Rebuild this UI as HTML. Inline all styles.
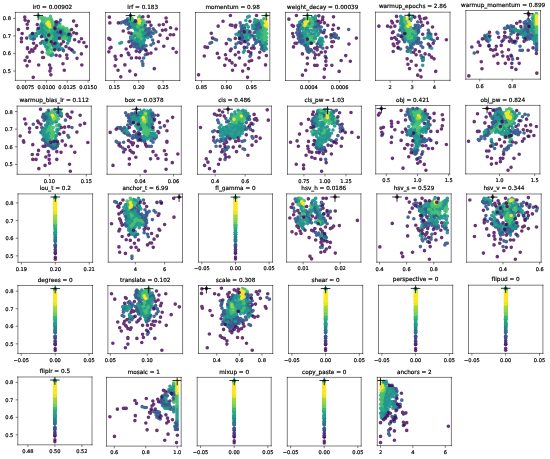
<!DOCTYPE html><html><head><meta charset="utf-8"><style>html,body{margin:0;padding:0;background:#fff;overflow:hidden}svg{display:block}.pt path{stroke-linecap:round}text{font-family:"DejaVu Sans","Liberation Sans",sans-serif;stroke:#000;stroke-width:0.3px;paint-order:stroke}</style></head><body><svg width="550" height="459" preserveAspectRatio="none" viewBox="0 0 864 720" version="1.1">
 <defs>
  <style type="text/css">*{stroke-linejoin: round; stroke-linecap: butt}</style>
 </defs>
 <g id="figure_1">
  <g id="patch_1">
   <path d="M 0 720 
L 864 720 
L 864 0 
L 0 0 
z
" style="fill: #ffffff"/>
  </g>
  <g id="axes_1">
   <g id="patch_2">
    <path d="M 24.19 126.11 
L 140.59 126.11 
L 140.59 19.45 
L 24.19 19.45 
z
" style="fill: #ffffff"/>
   </g>
   <g clip-path="url(#p6a5d2c12f6)" fill="none" stroke-width="5.7" class="pt" stroke-opacity="0.92"><path stroke="#375a8c" d="M54.0 60.2h0M66.6 65.2h0M81.6 67.7h0M84.2 42.6h0M84.2 67.7h0M86.7 35.1h0M86.7 40.1h0M89.2 40.1h0M89.2 50.1h0M89.2 52.6h0M94.2 50.1h0M94.2 77.7h0M96.7 50.1h0M109.3 52.6h0"/><path stroke="#1f958b" d="M49.0 55.1h0M51.5 52.6h0M51.5 55.1h0M54.0 57.7h0M59.0 47.6h0M59.0 52.6h0M61.5 50.1h0M61.5 52.6h0M64.1 40.1h0M64.1 42.6h0M66.6 42.6h0M66.6 47.6h0M66.6 50.1h0M66.6 55.1h0M69.1 37.6h0M69.1 55.1h0M69.1 65.2h0M69.1 67.7h0M71.6 55.1h0M71.6 72.7h0M74.1 50.1h0M74.1 52.6h0M74.1 60.2h0M74.1 62.7h0M74.1 65.2h0M74.1 77.7h0M84.2 57.7h0M84.2 65.2h0M84.2 77.7h0M86.7 45.1h0M86.7 50.1h0M86.7 60.2h0M86.7 67.7h0M86.7 70.2h0M86.7 75.2h0M89.2 45.1h0M89.2 57.7h0M89.2 60.2h0M89.2 67.7h0M89.2 75.2h0M91.7 55.1h0M91.7 75.2h0M94.2 45.1h0M94.2 47.6h0M94.2 57.7h0M96.7 45.1h0M96.7 57.7h0M99.2 45.1h0M99.2 50.1h0M99.2 55.1h0M101.8 55.1h0M104.3 57.7h0M106.8 52.6h0M106.8 57.7h0M106.8 60.2h0M106.8 62.7h0M109.3 60.2h0"/><path stroke="#26ad81" d="M71.6 40.1h0M71.6 45.1h0M74.1 42.6h0M76.6 45.1h0M76.6 52.6h0M79.1 50.1h0M81.6 45.1h0M81.6 50.1h0M81.6 55.1h0M84.2 45.1h0M84.2 47.6h0M84.2 50.1h0M84.2 55.1h0"/><path stroke="#44bf70" d="M66.6 27.5h0M66.6 32.6h0M69.1 32.6h0M69.1 35.1h0M71.6 35.1h0M71.6 37.6h0M74.1 30.0h0M74.1 55.1h0M76.6 30.0h0M76.6 32.6h0M76.6 50.1h0M76.6 60.2h0M76.6 62.7h0M76.6 67.7h0M76.6 75.2h0M76.6 77.7h0M76.6 85.3h0M79.1 32.6h0M79.1 35.1h0M79.1 40.1h0M79.1 45.1h0M79.1 62.7h0M79.1 67.7h0M79.1 70.2h0M79.1 77.7h0M79.1 85.3h0M81.6 32.6h0M81.6 40.1h0M81.6 42.6h0M81.6 57.7h0M81.6 65.2h0M81.6 77.7h0M84.2 40.1h0M89.2 42.6h0M94.2 37.6h0M99.2 42.6h0M99.2 57.7h0M101.8 45.1h0M101.8 47.6h0M101.8 57.7h0M104.3 47.6h0M104.3 52.6h0M104.3 60.2h0M106.8 50.1h0M109.3 50.1h0"/></g>
<g clip-path="url(#p6a5d2c12f6)" fill="none" stroke-width="5.7" class="pt" stroke-opacity="0.92"><path stroke="#44bf70" d="M61.2 25.7h0M63.8 28.2h0M67.6 30.8h0M70.2 28.2h0M79.2 25.7h0M80.5 29.5h0M81.0 34.6h0M83.0 38.5h0M77.9 47.4h0M72.8 47.4h0"/><path stroke="#1f958b" d="M65.1 37.2h0M67.6 41.0h0M65.1 46.2h0M62.5 44.9h0M68.9 48.7h0M71.5 51.3h0M67.6 52.6h0M63.8 50.0h0"/><path stroke="#26ad81" d="M70.2 43.6h0M74.0 44.9h0M81.7 47.4h0M83.0 52.6h0M79.2 52.6h0"/><path stroke="#375a8c" d="M95.1 31.5h0M92.0 35.9h0M88.2 38.5h0M86.1 42.3h0"/><path stroke="#44bf70" d="M93.3 39.7h0M95.9 42.3h0M92.0 43.6h0M104.8 44.9h0M107.4 47.4h0M103.6 50.0h0M101.0 60.3h0M98.4 61.5h0"/><path stroke="#1f958b" d="M98.4 47.4h0M101.0 52.6h0M97.1 55.1h0M106.1 55.1h0M110.0 57.7h0M108.7 64.1h0M106.1 67.9h0"/><path stroke="#375a8c" d="M111.3 55.1h0M95.9 52.6h0"/><path stroke="#44bf70" d="M77.9 56.4h0M80.5 60.3h0M77.9 65.4h0M75.3 70.5h0M77.9 73.1h0M81.7 71.8h0"/><path stroke="#1f958b" d="M70.2 57.7h0M71.5 62.8h0M72.8 66.7h0M70.2 69.2h0M74.0 74.4h0M84.3 61.5h0M86.9 56.4h0M88.2 64.1h0M90.7 69.2h0M93.3 73.1h0M95.9 75.6h0M98.4 76.9h0M84.3 73.1h0M88.2 73.1h0"/><path stroke="#375a8c" d="M63.8 67.9h0M83.0 69.2h0M92.0 78.2h0M99.7 79.5h0"/><path stroke="#1f958b" d="M47.1 56.4h0M49.7 57.7h0M53.5 55.1h0M56.1 52.6h0M57.4 56.4h0M48.4 60.3h0"/><path stroke="#375a8c" d="M52.2 61.5h0"/><path stroke="#44bf70" d="M75.3 81.3h0M77.9 83.3h0M81.7 82.8h0M74.0 83.3h0"/><path stroke="#1f958b" d="M83.0 85.9h0M80.5 87.2h0"/><path stroke="#375a8c" d="M116.4 82.0h0M113.8 79.5h0"/><path stroke="#1f958b" d="M88.2 47.4h0"/><path stroke="#375a8c" d="M90.7 51.3h0"/><path stroke="#1f958b" d="M89.4 55.1h0M85.6 52.6h0M92.0 46.2h0"/><path stroke="#fde725" d="M76.6 34.6h0M77.9 38.5h0M78.4 42.3h0M75.8 39.7h0M74.0 36.7h0"/><path stroke="#44bf70" d="M60.0 24.3h0"/></g>
<g clip-path="url(#p6a5d2c12f6)" fill="none" stroke-width="5.7" class="pt" stroke-opacity="0.8"><path stroke="#440154" d="M38.9 26.9h0M39.4 31.5h0M44.5 33.3h0M42.7 38.0h0M43.2 44.4h0M29.1 46.2h0M34.8 52.6h0M33.7 60.3h0M33.7 65.4h0M42.0 59.7h0M50.9 52.6h0M52.7 67.9h0M57.4 71.8h0M54.8 75.6h0M43.2 74.9h0M43.2 76.4h0M46.6 82.0h0M51.7 80.2h0M49.7 78.2h0M66.3 82.0h0M67.1 90.2h0M68.4 90.2h0M42.5 89.7h0M39.4 94.9h0M46.3 96.1h0M42.5 103.3h0M60.7 102.0h0M77.9 102.0h0M79.7 106.9h0M78.4 111.5h0M79.9 117.4h0M52.2 121.3h0M98.9 100.0h0M101.0 110.2h0M88.2 86.7h0M94.1 87.7h0M104.8 86.4h0M105.4 91.5h0M121.0 91.5h0M127.9 84.6h0M128.5 102.0h0M135.6 73.1h0M131.8 66.7h0M124.1 65.4h0M127.9 60.8h0M117.2 62.3h0M120.2 52.6h0M115.9 51.3h0M112.5 46.2h0M108.2 53.8h0M120.2 40.3h0M115.6 33.1h0M95.1 50.0h0M86.4 44.9h0M88.7 34.1h0M58.6 38.5h0M59.9 44.4h0M65.1 57.7h0M73.3 62.8h0M80.5 65.4h0M86.4 67.9h0M86.1 78.2h0M93.3 60.3h0M99.7 65.4h0M103.6 73.1h0M111.8 77.7h0M108.7 75.6h0M95.9 69.2h0M76.6 55.1h0"/></g>
<g id="matplotlib.axis_1">
    <g id="xtick_1">
     <g id="line2d_1">
      <defs>
       <path id="m1504cfccaf" d="M 0 0 
L 0 3.5 
" style="stroke: #000000; stroke-width: 0.8"/>
      </defs>
      <g>
       <use href="#m1504cfccaf" x="40.05" y="126.11" style="stroke: #000000; stroke-width: 0.8"/>
      </g>
     </g>
     <g id="text_1">
      <text style="font-size: 8px;  text-anchor: middle" x="40.05" y="139.19">0.0075</text>
     </g>
    </g>
    <g id="xtick_2">
     <g id="line2d_2">
      <g>
       <use href="#m1504cfccaf" x="72.83" y="126.11" style="stroke: #000000; stroke-width: 0.8"/>
      </g>
     </g>
     <g id="text_2">
      <text style="font-size: 8px;  text-anchor: middle" x="72.83" y="139.19">0.0100</text>
     </g>
    </g>
    <g id="xtick_3">
     <g id="line2d_3">
      <g>
       <use href="#m1504cfccaf" x="105.61" y="126.11" style="stroke: #000000; stroke-width: 0.8"/>
      </g>
     </g>
     <g id="text_3">
      <text style="font-size: 8px;  text-anchor: middle" x="105.61" y="139.19">0.0125</text>
     </g>
    </g>
    <g id="xtick_4">
     <g id="line2d_4">
      <g>
       <use href="#m1504cfccaf" x="138.39" y="126.11" style="stroke: #000000; stroke-width: 0.8"/>
      </g>
     </g>
     <g id="text_4">
      <text style="font-size: 8px;  text-anchor: middle" x="138.39" y="139.19">0.0150</text>
     </g>
    </g>
   </g>
   <g id="matplotlib.axis_2">
    <g id="ytick_1">
     <g id="line2d_5">
      <defs>
       <path id="m5d545ce8f8" d="M 0 0 
L -3.5 0 
" style="stroke: #000000; stroke-width: 0.8"/>
      </defs>
      <g>
       <use href="#m5d545ce8f8" x="24.19" y="111.36" style="stroke: #000000; stroke-width: 0.8"/>
      </g>
     </g>
     <g id="text_5">
      <text style="font-size: 8px;  text-anchor: end" x="17.19" y="114.40">0.5</text>
     </g>
    </g>
    <g id="ytick_2">
     <g id="line2d_6">
      <g>
       <use href="#m5d545ce8f8" x="24.19" y="83.83" style="stroke: #000000; stroke-width: 0.8"/>
      </g>
     </g>
     <g id="text_6">
      <text style="font-size: 8px;  text-anchor: end" x="17.19" y="86.87">0.6</text>
     </g>
    </g>
    <g id="ytick_3">
     <g id="line2d_7">
      <g>
       <use href="#m5d545ce8f8" x="24.19" y="56.30" style="stroke: #000000; stroke-width: 0.8"/>
      </g>
     </g>
     <g id="text_7">
      <text style="font-size: 8px;  text-anchor: end" x="17.19" y="59.34">0.7</text>
     </g>
    </g>
    <g id="ytick_4">
     <g id="line2d_8">
      <g>
       <use href="#m5d545ce8f8" x="24.19" y="28.78" style="stroke: #000000; stroke-width: 0.8"/>
      </g>
     </g>
     <g id="text_8">
      <text style="font-size: 8px;  text-anchor: end" x="17.19" y="31.82">0.8</text>
     </g>
    </g>
   </g>
   <g id="line2d_9">
    <defs>
     <path id="m5269b93cc7" d="M -7.5 0 
L 7.5 0 
M 0 7.5 
L 0 -7.5 
" style="stroke: #000000; stroke-width: 1.3"/>
    </defs>
    <g clip-path="url(#p6a5d2c12f6)">
     <use href="#m5269b93cc7" x="59.98" y="24.29" style="stroke: #000000; stroke-width: 1.3"/>
    </g>
   </g>
   <g id="patch_3">
    <path d="M 24.19 126.11 
L 24.19 19.45 
" style="fill: none; stroke: #000000; stroke-width: 0.8; stroke-linejoin: miter; stroke-linecap: square"/>
   </g>
   <g id="patch_4">
    <path d="M 140.59 126.11 
L 140.59 19.45 
" style="fill: none; stroke: #000000; stroke-width: 0.8; stroke-linejoin: miter; stroke-linecap: square"/>
   </g>
   <g id="patch_5">
    <path d="M 24.19 126.11 
L 140.59 126.11 
" style="fill: none; stroke: #000000; stroke-width: 0.8; stroke-linejoin: miter; stroke-linecap: square"/>
   </g>
   <g id="patch_6">
    <path d="M 24.19 19.45 
L 140.59 19.45 
" style="fill: none; stroke: #000000; stroke-width: 0.8; stroke-linejoin: miter; stroke-linecap: square"/>
   </g>
   <g id="text_9">
    <text style="font-size: 9px;  text-anchor: middle" x="82.39" y="13.45">lr0 = 0.00902</text>
   </g>
  </g>
  <g id="axes_2">
   <g id="patch_7">
    <path d="M 165.88 126.27 
L 282.44 126.27 
L 282.44 19.60 
L 165.88 19.60 
z
" style="fill: #ffffff"/>
   </g>
   <g clip-path="url(#p60cd0302c3)" fill="none" stroke-width="5.7" class="pt" stroke-opacity="0.92"><path stroke="#375a8c" d="M195.4 35.1h0M197.9 32.6h0M197.9 35.1h0M197.9 37.6h0M200.4 30.0h0M200.4 35.1h0M200.4 37.6h0M205.4 42.6h0M207.9 35.1h0M207.9 65.2h0M210.5 32.6h0M210.5 65.2h0M210.5 67.7h0M213.0 32.6h0M213.0 35.1h0M213.0 65.2h0M213.0 72.7h0M215.5 67.7h0M215.5 70.2h0M215.5 72.7h0M215.5 75.2h0M218.0 72.7h0M220.5 75.2h0M223.0 75.2h0M225.5 40.1h0M225.5 70.2h0M228.1 45.1h0M228.1 57.7h0M228.1 77.7h0M230.6 45.1h0M230.6 47.6h0M230.6 50.1h0M230.6 52.6h0M233.1 47.6h0M233.1 50.1h0M233.1 55.1h0M235.6 52.6h0M235.6 55.1h0M240.6 45.1h0M240.6 52.6h0"/><path stroke="#1f958b" d="M202.9 30.0h0M202.9 35.1h0M205.4 35.1h0M205.4 57.7h0M207.9 42.6h0M207.9 55.1h0M210.5 37.6h0M210.5 62.7h0M213.0 42.6h0M213.0 47.6h0M213.0 55.1h0M213.0 62.7h0M215.5 50.1h0M215.5 57.7h0M215.5 65.2h0M218.0 45.1h0M218.0 47.6h0M218.0 60.2h0M220.5 42.6h0M220.5 45.1h0M220.5 50.1h0M220.5 72.7h0M223.0 52.6h0M223.0 67.7h0M225.5 42.6h0M225.5 55.1h0M225.5 57.7h0M225.5 60.2h0M225.5 65.2h0M225.5 67.7h0M228.1 50.1h0M230.6 57.7h0"/><path stroke="#44bf70" d="M205.4 30.0h0M207.9 30.0h0M210.5 52.6h0M215.5 32.6h0M215.5 35.1h0M215.5 37.6h0M215.5 42.6h0M215.5 55.1h0M218.0 27.5h0M218.0 50.1h0M218.0 55.1h0M218.0 57.7h0M220.5 27.5h0M220.5 35.1h0M220.5 37.6h0M220.5 40.1h0M220.5 47.6h0M220.5 52.6h0M223.0 32.6h0M223.0 35.1h0M223.0 40.1h0M223.0 62.7h0M225.5 32.6h0M225.5 35.1h0M225.5 37.6h0"/></g>
<g clip-path="url(#p60cd0302c3)" fill="none" stroke-width="5.7" class="pt" stroke-opacity="0.92"><path stroke="#375a8c" d="M189.8 35.9h0M192.3 34.6h0M196.2 33.3h0M200.0 32.1h0M229.5 55.1h0M233.4 52.6h0M237.2 50.0h0M242.4 47.4h0M244.9 50.0h0M237.2 57.7h0M239.8 62.8h0M241.1 67.9h0M237.2 70.5h0M229.5 71.8h0M225.7 75.6h0M221.8 78.2h0M224.4 73.1h0M218.0 75.6h0M228.3 85.9h0M225.7 91.0h0M223.1 96.1h0M224.4 100.0h0M224.4 102.5h0M218.0 69.2h0M212.9 69.2h0M206.4 62.8h0M207.7 69.2h0M210.3 73.1h0M203.9 41.0h0M201.3 44.9h0M202.6 38.5h0M210.3 34.6h0M230.8 34.6h0M228.3 39.7h0M234.7 44.9h0M227.0 47.4h0"/><path stroke="#1f958b" d="M188.5 67.9h0M191.0 66.7h0M205.2 60.3h0M209.0 59.0h0M211.6 56.4h0M215.4 61.5h0M219.3 62.8h0M221.8 65.4h0M227.0 62.8h0M232.1 59.0h0M215.4 47.4h0M211.6 44.9h0M209.0 39.7h0M206.4 37.2h0M203.9 33.3h0M212.9 38.5h0M223.1 43.6h0M224.4 50.0h0M227.0 52.6h0M221.8 56.4h0M218.0 65.4h0M220.6 69.2h0"/><path stroke="#44bf70" d="M206.4 28.2h0M207.7 32.1h0M219.3 25.7h0M220.6 29.5h0M212.9 51.3h0M216.7 52.6h0M221.8 60.3h0M220.6 55.1h0M224.4 46.2h0M223.1 37.2h0M217.2 39.7h0"/><path stroke="#fde725" d="M218.0 30.8h0M219.3 33.3h0M218.8 35.9h0"/><path stroke="#375a8c" d="M205.0 24.5h0"/></g>
<g clip-path="url(#p60cd0302c3)" fill="none" stroke-width="5.7" class="pt" stroke-opacity="0.8"><path stroke="#440154" d="M171.8 26.9h0M172.6 35.9h0M171.0 60.3h0M172.6 61.8h0M174.4 74.4h0M172.6 75.6h0M171.0 81.3h0M180.8 88.4h0M182.1 93.1h0M180.8 103.3h0M185.4 110.2h0M189.8 120.5h0M196.2 101.8h0M190.5 87.2h0M193.6 48.7h0M185.9 35.9h0M201.3 83.3h0M202.6 85.9h0M206.4 91.0h0M203.9 111.5h0M212.9 117.4h0M214.1 90.5h0M219.3 91.0h0M242.4 107.7h0M224.4 26.4h0M232.9 25.7h0M260.9 28.2h0M261.6 34.1h0M268.0 43.6h0M277.0 45.4h0M272.7 54.6h0M267.5 54.6h0M262.9 60.3h0M257.3 72.6h0M271.9 76.1h0M277.0 82.0h0M237.2 83.3h0M232.1 84.6h0M229.5 79.5h0M244.9 76.9h0M248.8 65.4h0M251.4 55.1h0M250.1 39.2h0M256.5 38.5h0M255.2 47.4h0M260.3 46.9h0M237.2 39.7h0M234.7 34.6h0M219.3 81.3h0M214.1 80.2h0M205.2 73.1h0M198.2 76.9h0M202.6 65.4h0M202.6 51.3h0M205.9 52.1h0M212.9 33.3h0"/></g>
<g id="matplotlib.axis_3">
    <g id="xtick_5">
     <g id="line2d_10">
      <g>
       <use href="#m1504cfccaf" x="179.71" y="126.27" style="stroke: #000000; stroke-width: 0.8"/>
      </g>
     </g>
     <g id="text_10">
      <text style="font-size: 8px;  text-anchor: middle" x="179.71" y="139.35">0.15</text>
     </g>
    </g>
    <g id="xtick_6">
     <g id="line2d_11">
      <g>
       <use href="#m1504cfccaf" x="217.96" y="126.27" style="stroke: #000000; stroke-width: 0.8"/>
      </g>
     </g>
     <g id="text_11">
      <text style="font-size: 8px;  text-anchor: middle" x="217.96" y="139.35">0.20</text>
     </g>
    </g>
    <g id="xtick_7">
     <g id="line2d_12">
      <g>
       <use href="#m1504cfccaf" x="256.21" y="126.27" style="stroke: #000000; stroke-width: 0.8"/>
      </g>
     </g>
     <g id="text_12">
      <text style="font-size: 8px;  text-anchor: middle" x="256.21" y="139.35">0.25</text>
     </g>
    </g>
   </g>
   <g id="matplotlib.axis_4"/>
   <g id="line2d_13">
    <g clip-path="url(#p60cd0302c3)">
     <use href="#m5269b93cc7" x="204.95" y="24.45" style="stroke: #000000; stroke-width: 1.3"/>
    </g>
   </g>
   <g id="patch_8">
    <path d="M 165.88 126.27 
L 165.88 19.60 
" style="fill: none; stroke: #000000; stroke-width: 0.8; stroke-linejoin: miter; stroke-linecap: square"/>
   </g>
   <g id="patch_9">
    <path d="M 282.44 126.27 
L 282.44 19.60 
" style="fill: none; stroke: #000000; stroke-width: 0.8; stroke-linejoin: miter; stroke-linecap: square"/>
   </g>
   <g id="patch_10">
    <path d="M 165.88 126.27 
L 282.44 126.27 
" style="fill: none; stroke: #000000; stroke-width: 0.8; stroke-linejoin: miter; stroke-linecap: square"/>
   </g>
   <g id="patch_11">
    <path d="M 165.88 19.60 
L 282.44 19.60 
" style="fill: none; stroke: #000000; stroke-width: 0.8; stroke-linejoin: miter; stroke-linecap: square"/>
   </g>
   <g id="text_13">
    <text style="font-size: 9px;  text-anchor: middle" x="224.16" y="13.60">lrf = 0.183</text>
   </g>
  </g>
  <g id="axes_3">
   <g id="patch_12">
    <path d="M 307.11 126.27 
L 423.83 126.27 
L 423.83 19.60 
L 307.11 19.60 
z
" style="fill: #ffffff"/>
   </g>
   <g clip-path="url(#p8577fa720e)" fill="none" stroke-width="5.7" class="pt" stroke-opacity="0.92"><path stroke="#375a8c" d="M377.0 52.6h0M377.0 57.7h0M377.0 60.2h0M379.5 45.1h0M379.5 50.1h0M379.5 52.6h0M379.5 57.7h0M382.0 40.1h0M382.0 42.6h0M382.0 47.6h0M382.0 50.1h0M382.0 62.7h0M384.5 42.6h0M384.5 62.7h0M389.5 62.7h0M394.6 55.1h0M399.6 45.1h0M399.6 57.7h0M399.6 60.2h0M402.1 37.6h0M402.1 42.6h0M402.1 50.1h0M404.6 42.6h0M404.6 47.6h0M404.6 65.2h0M407.1 35.1h0M407.1 40.1h0M407.1 42.6h0M407.1 47.6h0M409.7 40.1h0M409.7 67.7h0M409.7 70.2h0M412.2 42.6h0M412.2 70.2h0M412.2 75.2h0"/><path stroke="#1f958b" d="M374.5 52.6h0M382.0 52.6h0M382.0 55.1h0M384.5 40.1h0M384.5 50.1h0M384.5 60.2h0M387.0 50.1h0M387.0 60.2h0M389.5 47.6h0M389.5 55.1h0M392.1 55.1h0M397.1 42.6h0M397.1 45.1h0M399.6 35.1h0M399.6 40.1h0M402.1 35.1h0M404.6 35.1h0M404.6 50.1h0M404.6 52.6h0M404.6 62.7h0M407.1 55.1h0M407.1 57.7h0M414.7 70.2h0M414.7 75.2h0M417.2 67.7h0M417.2 75.2h0"/><path stroke="#26ad81" d="M409.7 32.6h0M409.7 47.6h0M409.7 50.1h0M409.7 55.1h0M409.7 57.7h0M409.7 60.2h0M409.7 62.7h0M412.2 40.1h0M412.2 45.1h0M412.2 50.1h0M412.2 52.6h0M412.2 57.7h0M412.2 60.2h0"/><path stroke="#44bf70" d="M414.7 32.6h0M414.7 35.1h0M414.7 37.6h0M414.7 40.1h0M414.7 47.6h0M414.7 52.6h0M417.2 42.6h0M417.2 47.6h0M417.2 52.6h0M417.2 55.1h0M417.2 57.7h0M417.2 60.2h0"/></g>
<g clip-path="url(#p8577fa720e)" fill="none" stroke-width="5.7" class="pt" stroke-opacity="0.92"><path stroke="#375a8c" d="M332.4 66.7h0M329.8 67.9h0M337.6 61.5h0M340.1 62.8h0M359.4 61.5h0M361.9 62.8h0M370.9 69.2h0M369.6 74.4h0M374.8 66.7h0M378.6 62.8h0M381.2 59.0h0M378.6 55.1h0M376.1 50.0h0M379.9 47.4h0M378.6 41.0h0M377.3 35.9h0M383.8 44.9h0M386.3 65.4h0M390.2 69.2h0M387.6 74.4h0M392.7 88.4h0M394.0 85.9h0M397.9 71.8h0M401.7 67.9h0M400.4 62.8h0M396.6 56.4h0M399.2 51.3h0M401.7 44.9h0M403.0 39.7h0M406.9 37.2h0M409.4 43.6h0M412.0 73.1h0M410.7 76.9h0M414.6 79.5h0M408.1 65.4h0"/><path stroke="#1f958b" d="M388.9 26.9h0M391.5 25.7h0M386.3 32.1h0M387.6 38.5h0M390.2 42.3h0M386.3 47.4h0M388.9 52.6h0M386.3 57.7h0M392.7 59.0h0M383.8 53.8h0M370.9 53.8h0M374.8 55.1h0M396.6 39.7h0M399.2 42.3h0M400.4 30.8h0M404.3 32.1h0M406.9 52.6h0M405.6 59.0h0M403.0 56.4h0M382.5 82.0h0M383.8 79.5h0M414.6 66.7h0M418.4 69.2h0M415.8 73.1h0M418.4 76.9h0"/><path stroke="#26ad81" d="M414.6 29.5h0M411.5 35.9h0M412.0 47.4h0M412.0 55.1h0M412.0 62.8h0M418.4 64.1h0M413.3 66.7h0"/><path stroke="#44bf70" d="M414.6 44.4h0M418.4 46.2h0M415.8 50.0h0M419.2 52.6h0M415.1 56.4h0M418.7 59.0h0M415.8 61.5h0"/><path stroke="#fde725" d="M416.6 33.3h0M418.7 36.7h0M416.6 39.7h0M419.2 41.0h0M419.2 30.8h0"/><path stroke="#44bf70" d="M418.2 24.5h0"/></g>
<g clip-path="url(#p8577fa720e)" fill="none" stroke-width="5.7" class="pt" stroke-opacity="0.8"><path stroke="#440154" d="M361.9 24.4h0M350.4 33.3h0M342.7 41.0h0M361.9 39.2h0M364.5 39.7h0M370.4 39.7h0M331.9 52.1h0M333.7 59.7h0M322.1 73.6h0M326.0 74.4h0M320.9 87.9h0M311.9 117.4h0M341.4 83.8h0M344.0 90.5h0M354.2 85.9h0M355.5 68.5h0M363.2 76.9h0M361.9 79.5h0M369.6 85.9h0M374.8 82.0h0M376.1 91.0h0M355.5 92.3h0M360.7 94.9h0M364.5 98.7h0M353.0 102.5h0M369.6 102.5h0M365.3 110.2h0M381.2 111.5h0M390.2 107.7h0M388.9 121.3h0M385.0 101.8h0M391.5 96.1h0M395.3 94.9h0M390.2 80.8h0M394.0 82.8h0M399.2 75.6h0M406.9 90.5h0M417.1 101.8h0M418.4 87.2h0M408.1 82.0h0M395.3 75.6h0M383.8 74.4h0M383.8 50.0h0M392.7 50.0h0M403.0 24.4h0M392.7 33.3h0M369.6 60.3h0M376.1 60.3h0M378.6 67.9h0M383.8 65.4h0M369.6 42.3h0"/></g>
<g id="matplotlib.axis_5">
    <g id="xtick_8">
     <g id="line2d_14">
      <g>
       <use href="#m1504cfccaf" x="316.53" y="126.27" style="stroke: #000000; stroke-width: 0.8"/>
      </g>
     </g>
     <g id="text_14">
      <text style="font-size: 8px;  text-anchor: middle" x="316.53" y="139.35">0.85</text>
     </g>
    </g>
    <g id="xtick_9">
     <g id="line2d_15">
      <g>
       <use href="#m1504cfccaf" x="355.65" y="126.27" style="stroke: #000000; stroke-width: 0.8"/>
      </g>
     </g>
     <g id="text_15">
      <text style="font-size: 8px;  text-anchor: middle" x="355.65" y="139.35">0.90</text>
     </g>
    </g>
    <g id="xtick_10">
     <g id="line2d_16">
      <g>
       <use href="#m1504cfccaf" x="394.76" y="126.27" style="stroke: #000000; stroke-width: 0.8"/>
      </g>
     </g>
     <g id="text_16">
      <text style="font-size: 8px;  text-anchor: middle" x="394.76" y="139.35">0.95</text>
     </g>
    </g>
   </g>
   <g id="matplotlib.axis_6"/>
   <g id="line2d_17">
    <g clip-path="url(#p8577fa720e)">
     <use href="#m5269b93cc7" x="418.23" y="24.45" style="stroke: #000000; stroke-width: 1.3"/>
    </g>
   </g>
   <g id="patch_13">
    <path d="M 307.11 126.27 
L 307.11 19.60 
" style="fill: none; stroke: #000000; stroke-width: 0.8; stroke-linejoin: miter; stroke-linecap: square"/>
   </g>
   <g id="patch_14">
    <path d="M 423.83 126.27 
L 423.83 19.60 
" style="fill: none; stroke: #000000; stroke-width: 0.8; stroke-linejoin: miter; stroke-linecap: square"/>
   </g>
   <g id="patch_15">
    <path d="M 307.11 126.27 
L 423.83 126.27 
" style="fill: none; stroke: #000000; stroke-width: 0.8; stroke-linejoin: miter; stroke-linecap: square"/>
   </g>
   <g id="patch_16">
    <path d="M 307.11 19.60 
L 423.83 19.60 
" style="fill: none; stroke: #000000; stroke-width: 0.8; stroke-linejoin: miter; stroke-linecap: square"/>
   </g>
   <g id="text_17">
    <text style="font-size: 9px;  text-anchor: middle" x="365.47" y="13.60">momentum = 0.98</text>
   </g>
  </g>
  <g id="axes_4">
   <g id="patch_17">
    <path d="M 448.49 126.27 
L 565.37 126.27 
L 565.37 19.45 
L 448.49 19.45 
z
" style="fill: #ffffff"/>
   </g>
   <g clip-path="url(#p26070221af)" fill="none" stroke-width="5.7" class="pt" stroke-opacity="0.92"><path stroke="#375a8c" d="M468.0 40.1h0M468.0 55.1h0M470.5 37.6h0M470.5 45.1h0M470.5 47.6h0M470.5 50.1h0M470.5 57.7h0M470.5 65.2h0M473.0 37.6h0M473.0 52.6h0M473.0 60.2h0M473.0 65.2h0M475.5 35.1h0M475.5 55.1h0M475.5 57.7h0M475.5 60.2h0M478.0 30.0h0M478.0 65.2h0M478.0 70.2h0M480.6 72.7h0M483.1 72.7h0M483.1 80.2h0M485.6 77.7h0M488.1 77.7h0M493.1 42.6h0M495.6 35.1h0M498.1 42.6h0M500.7 40.1h0M500.7 42.6h0M500.7 67.7h0M503.2 47.6h0M523.3 55.1h0M525.8 57.7h0M528.3 55.1h0"/><path stroke="#1f958b" d="M473.0 42.6h0M473.0 45.1h0M475.5 42.6h0M475.5 52.6h0M478.0 45.1h0M478.0 60.2h0M478.0 67.7h0M480.6 42.6h0M480.6 47.6h0M480.6 50.1h0M480.6 52.6h0M480.6 67.7h0M483.1 42.6h0M483.1 57.7h0M483.1 60.2h0M483.1 65.2h0M485.6 35.1h0M485.6 40.1h0M485.6 47.6h0M485.6 55.1h0M485.6 65.2h0M485.6 67.7h0M488.1 35.1h0M488.1 55.1h0M488.1 67.7h0M490.6 27.5h0M490.6 47.6h0M490.6 55.1h0M493.1 32.6h0M493.1 35.1h0M493.1 40.1h0M493.1 47.6h0M493.1 55.1h0M493.1 57.7h0M495.6 30.0h0M495.6 40.1h0M495.6 57.7h0M495.6 60.2h0M498.1 50.1h0M500.7 45.1h0M500.7 52.6h0M500.7 65.2h0M503.2 60.2h0M503.2 65.2h0M503.2 70.2h0M505.7 62.7h0M505.7 70.2h0"/><path stroke="#44bf70" d="M475.5 37.6h0M475.5 40.1h0M478.0 37.6h0M478.0 42.6h0M480.6 30.0h0M480.6 32.6h0M483.1 30.0h0M483.1 37.6h0M483.1 40.1h0M483.1 62.7h0M485.6 30.0h0M485.6 32.6h0M485.6 57.7h0M488.1 32.6h0M488.1 40.1h0M490.6 32.6h0M490.6 35.1h0M490.6 57.7h0M490.6 65.2h0M493.1 65.2h0"/></g>
<g clip-path="url(#p26070221af)" fill="none" stroke-width="5.7" class="pt" stroke-opacity="0.92"><path stroke="#375a8c" d="M476.4 32.1h0M473.8 33.3h0M471.2 39.7h0M468.7 42.3h0M467.4 46.2h0M466.1 51.3h0M469.9 53.8h0M472.5 56.4h0M476.4 64.1h0M473.8 67.9h0M480.2 70.5h0M481.5 76.9h0M484.1 75.6h0M485.3 82.0h0M489.2 79.5h0M493.0 82.0h0M498.2 69.2h0M503.3 73.1h0M507.2 75.6h0M511.0 88.4h0M504.6 50.0h0M509.7 47.4h0M525.1 52.6h0M527.7 59.0h0M531.6 59.7h0M520.0 59.0h0M522.6 57.7h0M547.7 46.2h0M468.7 60.3h0M471.2 62.8h0M495.6 42.3h0M499.5 38.5h0M498.2 33.3h0M504.6 42.3h0"/><path stroke="#1f958b" d="M471.2 34.6h0M475.1 44.9h0M476.4 50.0h0M478.9 55.1h0M481.5 59.0h0M480.2 65.4h0M484.1 69.2h0M487.9 65.4h0M491.8 60.3h0M494.3 52.6h0M496.9 47.4h0M499.5 55.1h0M502.0 62.8h0M505.9 60.3h0M507.2 65.4h0M504.6 67.9h0M489.2 52.6h0M485.3 50.0h0M481.5 44.9h0M494.3 38.5h0M491.8 29.5h0M495.6 25.7h0M486.6 37.2h0"/><path stroke="#44bf70" d="M484.1 28.2h0M489.2 30.8h0M490.5 38.5h0M487.9 42.3h0M489.2 59.0h0M490.5 62.8h0M486.6 61.5h0M481.5 35.9h0"/><path stroke="#fde725" d="M478.9 34.6h0M480.2 37.2h0M478.9 39.7h0M482.8 33.3h0"/><path stroke="#44bf70" d="M482.8 24.3h0"/></g>
<g clip-path="url(#p26070221af)" fill="none" stroke-width="5.7" class="pt" stroke-opacity="0.8"><path stroke="#440154" d="M453.8 30.0h0M465.6 24.4h0M458.9 39.7h0M461.0 41.0h0M459.7 52.6h0M461.0 57.7h0M463.5 67.9h0M466.1 67.9h0M461.0 73.6h0M475.1 84.6h0M482.8 91.0h0M482.8 100.0h0M480.2 110.2h0M475.1 117.9h0M494.3 102.5h0M498.2 102.5h0M494.3 91.0h0M495.6 85.9h0M500.8 85.9h0M504.6 82.0h0M511.0 81.3h0M512.3 91.0h0M511.8 96.1h0M512.3 102.5h0M509.7 108.4h0M509.2 121.3h0M521.3 102.5h0M532.8 112.0h0M535.9 94.9h0M543.1 87.2h0M550.3 96.1h0M548.2 69.2h0M559.8 59.7h0M531.6 44.4h0M523.9 39.2h0M522.6 46.2h0M520.0 54.6h0M521.3 65.4h0M523.9 65.4h0M521.3 73.1h0M513.6 74.9h0M512.3 57.7h0M508.5 51.3h0M514.9 39.7h0M523.9 26.4h0M507.2 26.9h0M506.7 30.8h0M500.8 24.9h0M500.8 33.3h0M503.3 35.1h0M482.8 61.5h0M489.2 67.9h0M498.2 78.2h0M494.3 75.6h0M498.2 74.4h0M509.7 35.9h0"/></g>
<g id="matplotlib.axis_7">
    <g id="xtick_11">
     <g id="line2d_18">
      <g>
       <use href="#m1504cfccaf" x="485.25" y="126.27" style="stroke: #000000; stroke-width: 0.8"/>
      </g>
     </g>
     <g id="text_18">
      <text style="font-size: 8px;  text-anchor: middle" x="485.25" y="139.35">0.0004</text>
     </g>
    </g>
    <g id="xtick_12">
     <g id="line2d_19">
      <g>
       <use href="#m1504cfccaf" x="533.63" y="126.27" style="stroke: #000000; stroke-width: 0.8"/>
      </g>
     </g>
     <g id="text_19">
      <text style="font-size: 8px;  text-anchor: middle" x="533.63" y="139.35">0.0006</text>
     </g>
    </g>
   </g>
   <g id="matplotlib.axis_8"/>
   <g id="line2d_20">
    <g clip-path="url(#p26070221af)">
     <use href="#m5269b93cc7" x="482.83" y="24.30" style="stroke: #000000; stroke-width: 1.3"/>
    </g>
   </g>
   <g id="patch_18">
    <path d="M 448.49 126.27 
L 448.49 19.45 
" style="fill: none; stroke: #000000; stroke-width: 0.8; stroke-linejoin: miter; stroke-linecap: square"/>
   </g>
   <g id="patch_19">
    <path d="M 565.37 126.27 
L 565.37 19.45 
" style="fill: none; stroke: #000000; stroke-width: 0.8; stroke-linejoin: miter; stroke-linecap: square"/>
   </g>
   <g id="patch_20">
    <path d="M 448.49 126.27 
L 565.37 126.27 
" style="fill: none; stroke: #000000; stroke-width: 0.8; stroke-linejoin: miter; stroke-linecap: square"/>
   </g>
   <g id="patch_21">
    <path d="M 448.49 19.45 
L 565.37 19.45 
" style="fill: none; stroke: #000000; stroke-width: 0.8; stroke-linejoin: miter; stroke-linecap: square"/>
   </g>
   <g id="text_20">
    <text style="font-size: 9px;  text-anchor: middle" x="506.93" y="13.45">weight_decay = 0.00039</text>
   </g>
  </g>
  <g id="axes_5">
   <g id="patch_22">
    <path d="M 589.87 126.11 
L 706.90 126.11 
L 706.90 19.13 
L 589.87 19.13 
z
" style="fill: #ffffff"/>
   </g>
   <g clip-path="url(#pf6393885d9)" fill="none" stroke-width="5.7" class="pt" stroke-opacity="0.92"><path stroke="#375a8c" d="M632.4 55.1h0M634.9 60.2h0M634.9 62.7h0M639.9 80.2h0M644.9 70.2h0M644.9 75.2h0M647.4 45.1h0M647.4 67.7h0M647.4 75.2h0M652.5 42.6h0M655.0 40.1h0M655.0 42.6h0M655.0 50.1h0M655.0 52.6h0M655.0 60.2h0M655.0 62.7h0M655.0 67.7h0M657.5 40.1h0M657.5 45.1h0M657.5 47.6h0M657.5 60.2h0M657.5 67.7h0M665.0 90.3h0M672.6 52.6h0M675.1 55.1h0"/><path stroke="#1f958b" d="M629.8 32.6h0M629.8 35.1h0M629.8 42.6h0M629.8 45.1h0M632.4 27.5h0M632.4 37.6h0M632.4 50.1h0M634.9 37.6h0M634.9 42.6h0M634.9 45.1h0M634.9 55.1h0M634.9 57.7h0M637.4 47.6h0M637.4 50.1h0M637.4 55.1h0M639.9 52.6h0M639.9 62.7h0M642.4 62.7h0M642.4 80.2h0M644.9 32.6h0M644.9 67.7h0M647.4 55.1h0M650.0 55.1h0M650.0 57.7h0M650.0 62.7h0M650.0 65.2h0M652.5 62.7h0M672.6 55.1h0M675.1 60.2h0"/><path stroke="#44bf70" d="M634.9 27.5h0M634.9 32.6h0M637.4 32.6h0M637.4 37.6h0M637.4 40.1h0M637.4 42.6h0M637.4 45.1h0M639.9 32.6h0M639.9 35.1h0M639.9 37.6h0M639.9 47.6h0M639.9 50.1h0M639.9 55.1h0M639.9 60.2h0M642.4 32.6h0M642.4 42.6h0M642.4 50.1h0M642.4 55.1h0M642.4 57.7h0M642.4 60.2h0M644.9 42.6h0M644.9 45.1h0M644.9 47.6h0M644.9 50.1h0M644.9 55.1h0M644.9 60.2h0M647.4 47.6h0M647.4 50.1h0M647.4 57.7h0M650.0 47.6h0M652.5 52.6h0"/></g>
<g clip-path="url(#pf6393885d9)" fill="none" stroke-width="5.7" class="pt" stroke-opacity="0.92"><path stroke="#375a8c" d="M628.0 47.4h0M625.4 55.1h0M629.3 56.4h0M633.1 61.5h0M635.7 65.4h0M639.6 74.4h0M625.4 75.6h0M629.3 76.9h0M642.1 76.9h0M646.0 73.1h0M649.8 69.2h0M653.7 65.4h0M657.5 62.8h0M661.4 66.7h0M661.4 71.8h0M664.0 74.4h0M657.5 50.0h0M655.0 46.2h0M651.1 44.9h0M652.4 39.7h0M656.2 34.6h0M660.1 42.3h0M672.9 47.4h0M674.2 51.3h0M676.8 53.8h0M678.1 61.5h0M681.9 64.1h0M661.4 87.2h0M662.7 91.0h0M664.0 94.9h0"/><path stroke="#1f958b" d="M629.3 25.7h0M630.6 29.5h0M631.9 33.3h0M629.3 37.2h0M633.1 39.7h0M631.9 43.6h0M634.4 47.4h0M637.0 52.6h0M638.3 57.7h0M637.0 61.5h0M642.1 65.4h0M647.3 64.1h0M651.1 60.3h0M653.7 56.4h0M648.5 52.6h0M652.4 48.7h0M666.5 60.3h0M671.7 59.0h0M676.8 57.7h0M675.5 74.4h0M678.1 75.6h0M665.2 93.6h0M664.0 102.5h0M646.0 82.0h0M644.7 79.5h0M648.5 25.7h0M646.0 29.5h0"/><path stroke="#44bf70" d="M635.7 29.5h0M635.7 34.6h0M639.6 44.9h0M642.1 47.4h0M643.4 52.6h0M639.6 57.7h0M644.7 57.7h0M649.8 50.0h0"/><path stroke="#fde725" d="M642.1 34.6h0M643.4 38.5h0M640.8 41.0h0M639.6 29.5h0"/><path stroke="#1f958b" d="M642.8 24.0h0"/></g>
<g clip-path="url(#pf6393885d9)" fill="none" stroke-width="5.7" class="pt" stroke-opacity="0.8"><path stroke="#440154" d="M595.2 41.0h0M608.8 41.0h0M615.2 33.3h0M616.5 35.9h0M613.9 42.3h0M620.3 41.0h0M622.9 25.7h0M624.2 33.3h0M617.7 50.0h0M616.5 51.3h0M615.2 60.3h0M620.3 59.0h0M622.9 61.5h0M617.7 69.2h0M619.0 71.8h0M624.2 67.9h0M617.7 80.8h0M625.4 74.4h0M626.7 65.4h0M630.6 57.7h0M639.6 92.3h0M646.0 96.1h0M640.8 100.8h0M643.4 107.7h0M653.7 102.5h0M660.1 110.2h0M656.2 117.9h0M661.4 120.5h0M684.5 112.0h0M681.9 92.3h0M678.1 89.7h0M674.2 85.9h0M667.8 84.6h0M658.8 80.8h0M652.4 78.2h0M653.7 85.9h0M649.8 82.0h0M680.6 67.9h0M675.5 71.8h0M672.9 69.2h0M687.1 60.3h0M684.5 53.8h0M679.4 42.3h0M671.7 35.9h0M664.0 39.7h0M661.4 34.6h0M660.1 29.5h0M666.5 29.0h0M669.1 28.2h0M658.8 25.7h0M651.6 26.9h0M664.0 53.8h0M701.2 62.3h0M635.7 52.6h0"/></g>
<g id="matplotlib.axis_9">
    <g id="xtick_13">
     <g id="line2d_21">
      <g>
       <use href="#m1504cfccaf" x="612.96" y="126.11" style="stroke: #000000; stroke-width: 0.8"/>
      </g>
     </g>
     <g id="text_21">
      <text style="font-size: 8px;  text-anchor: middle" x="612.96" y="139.19">2</text>
     </g>
    </g>
    <g id="xtick_14">
     <g id="line2d_22">
      <g>
       <use href="#m1504cfccaf" x="647.60" y="126.11" style="stroke: #000000; stroke-width: 0.8"/>
      </g>
     </g>
     <g id="text_22">
      <text style="font-size: 8px;  text-anchor: middle" x="647.60" y="139.19">3</text>
     </g>
    </g>
    <g id="xtick_15">
     <g id="line2d_23">
      <g>
       <use href="#m1504cfccaf" x="682.24" y="126.11" style="stroke: #000000; stroke-width: 0.8"/>
      </g>
     </g>
     <g id="text_23">
      <text style="font-size: 8px;  text-anchor: middle" x="682.24" y="139.19">4</text>
     </g>
    </g>
   </g>
   <g id="matplotlib.axis_10"/>
   <g id="line2d_24">
    <g clip-path="url(#pf6393885d9)">
     <use href="#m5269b93cc7" x="642.75" y="23.99" style="stroke: #000000; stroke-width: 1.3"/>
    </g>
   </g>
   <g id="patch_23">
    <path d="M 589.87 126.11 
L 589.87 19.13 
" style="fill: none; stroke: #000000; stroke-width: 0.8; stroke-linejoin: miter; stroke-linecap: square"/>
   </g>
   <g id="patch_24">
    <path d="M 706.90 126.11 
L 706.90 19.13 
" style="fill: none; stroke: #000000; stroke-width: 0.8; stroke-linejoin: miter; stroke-linecap: square"/>
   </g>
   <g id="patch_25">
    <path d="M 589.87 126.11 
L 706.90 126.11 
" style="fill: none; stroke: #000000; stroke-width: 0.8; stroke-linejoin: miter; stroke-linecap: square"/>
   </g>
   <g id="patch_26">
    <path d="M 589.87 19.13 
L 706.90 19.13 
" style="fill: none; stroke: #000000; stroke-width: 0.8; stroke-linejoin: miter; stroke-linecap: square"/>
   </g>
   <g id="text_24">
    <text style="font-size: 9px;  text-anchor: middle" x="648.39" y="13.13">warmup_epochs = 2.86</text>
   </g>
  </g>
  <g id="axes_6">
   <g id="patch_27">
    <path d="M 731.72 124.23 
L 849.07 124.23 
L 849.07 16.47 
L 731.72 16.47 
z
" style="fill: #ffffff"/>
   </g>
   <g clip-path="url(#p926bd12adf)" fill="none" stroke-width="5.7" class="pt" stroke-opacity="0.92"><path stroke="#375a8c" d="M762.0 58.3h0M762.0 60.8h0M764.5 60.8h0M764.5 63.3h0M797.2 40.7h0M802.2 45.7h0M802.2 48.2h0M804.7 43.2h0M807.2 50.7h0M817.3 53.2h0M822.3 48.2h0M824.8 38.2h0M824.8 40.7h0M824.8 48.2h0M824.8 58.3h0M827.3 38.2h0M827.3 45.7h0M827.3 50.7h0M827.3 58.3h0M829.8 30.6h0M829.8 38.2h0M829.8 43.2h0M829.8 45.7h0M829.8 58.3h0M832.4 58.3h0M834.9 58.3h0M834.9 60.8h0M837.4 58.3h0"/><path stroke="#1f958b" d="M804.7 45.7h0M809.7 45.7h0M809.7 48.2h0M814.8 48.2h0M819.8 45.7h0M819.8 48.2h0M819.8 53.2h0M822.3 55.7h0M822.3 58.3h0M824.8 50.7h0M824.8 55.7h0M832.4 38.2h0M832.4 43.2h0M832.4 48.2h0M834.9 40.7h0M834.9 43.2h0M837.4 35.7h0M837.4 38.2h0M837.4 40.7h0M837.4 45.7h0M837.4 60.8h0M839.9 40.7h0M839.9 55.7h0M839.9 58.3h0M839.9 60.8h0M839.9 65.8h0M839.9 68.3h0"/><path stroke="#26ad81" d="M837.4 25.6h0M837.4 30.6h0M837.4 33.2h0"/><path stroke="#44bf70" d="M837.4 23.1h0M839.9 25.6h0M839.9 28.1h0M839.9 30.6h0M839.9 33.2h0M839.9 35.7h0M839.9 38.2h0M839.9 45.7h0"/></g>
<g clip-path="url(#p926bd12adf)" fill="none" stroke-width="5.7" class="pt" stroke-opacity="0.92"><path stroke="#375a8c" d="M745.0 83.3h0M761.7 55.8h0M764.3 57.1h0M766.8 64.8h0M768.1 72.5h0M780.9 50.7h0M782.2 52.0h0M791.2 62.2h0M792.5 44.3h0M795.1 44.3h0M798.9 43.0h0M802.8 40.5h0M806.6 41.7h0M805.3 49.4h0M802.8 53.3h0M800.2 58.4h0M805.3 66.1h0M809.2 67.4h0M810.5 64.8h0M815.6 50.7h0M820.7 50.7h0M816.9 72.5h0M816.9 78.9h0M820.7 78.9h0M823.3 35.3h0M825.9 34.0h0M828.4 36.6h0M832.3 34.0h0M831.0 40.5h0M824.6 44.3h0M828.4 48.1h0M831.0 52.0h0M833.6 54.6h0M828.4 55.8h0M827.2 62.2h0M831.0 61.0h0M804.0 89.2h0M805.3 93.0h0M836.1 54.6h0M842.6 78.9h0"/><path stroke="#1f958b" d="M768.1 59.7h0M769.4 62.2h0M765.5 54.6h0M807.9 46.9h0M811.7 48.1h0M814.3 50.7h0M818.2 49.4h0M822.0 53.3h0M825.9 53.3h0M833.6 45.6h0M836.1 49.4h0M840.0 53.3h0M838.7 62.2h0M834.9 37.9h0"/><path stroke="#26ad81" d="M836.1 28.9h0"/><path stroke="#1f958b" d="M838.7 43.0h0M838.7 49.4h0"/><path stroke="#44bf70" d="M842.8 21.2h0M842.8 22.8h0M842.8 24.3h0"/><path stroke="#fde725" d="M842.8 24.8h0M842.8 26.4h0M842.8 27.9h0M842.8 29.4h0M842.8 31.0h0M842.8 32.5h0M842.8 34.0h0M842.8 35.6h0M842.8 37.1h0M842.8 38.7h0M842.8 40.2h0M842.8 41.7h0"/><path stroke="#44bf70" d="M842.8 42.3h0M842.8 43.8h0M842.8 45.3h0M842.8 46.9h0M842.8 48.4h0M842.8 49.9h0M842.8 51.5h0M842.8 53.0h0M842.8 54.6h0"/><path stroke="#1f958b" d="M842.8 55.8h0M842.8 57.4h0M842.8 58.9h0M842.8 60.4h0M842.8 62.0h0M842.8 63.5h0M842.8 65.1h0M842.8 66.6h0M842.8 68.1h0"/><path stroke="#375a8c" d="M842.8 69.2h0M842.8 70.7h0M842.8 72.2h0M842.8 73.8h0M842.8 75.3h0M842.8 76.9h0M842.8 78.4h0"/></g>
<g clip-path="url(#p926bd12adf)" fill="none" stroke-width="5.7" class="pt" stroke-opacity="0.8"><path stroke="#440154" d="M736.5 119.1h0M757.1 107.9h0M756.0 96.8h0M741.2 73.8h0M750.1 81.5h0M751.4 66.1h0M754.0 71.2h0M757.8 61.0h0M768.9 50.7h0M769.4 56.6h0M768.1 71.2h0M770.7 77.6h0M774.5 78.9h0M778.4 77.6h0M779.7 72.5h0M780.9 85.3h0M775.8 87.9h0M782.2 99.4h0M787.4 71.2h0M788.6 81.5h0M789.9 87.9h0M793.8 99.4h0M798.9 78.1h0M797.6 89.2h0M798.9 93.0h0M804.0 99.4h0M804.0 105.8h0M810.5 108.9h0M815.6 99.4h0M813.0 91.7h0M802.8 86.6h0M800.2 64.8h0M802.8 62.2h0M792.5 57.1h0M795.1 58.4h0M793.0 50.7h0M783.5 58.4h0M788.6 64.8h0M807.9 64.8h0M813.0 59.7h0M813.0 54.6h0M811.7 36.6h0M816.9 34.0h0M818.2 41.7h0M824.6 61.0h0M823.3 64.8h0M829.7 78.9h0M837.4 75.1h0M842.6 84.0h0M843.3 114.8h0M831.0 41.7h0M831.0 23.3h0M829.9 21.4h0"/></g>
<g id="matplotlib.axis_11">
    <g id="xtick_16">
     <g id="line2d_25">
      <g>
       <use href="#m1504cfccaf" x="753.56" y="124.23" style="stroke: #000000; stroke-width: 0.8"/>
      </g>
     </g>
     <g id="text_25">
      <text style="font-size: 8px;  text-anchor: middle" x="753.56" y="137.31">0.6</text>
     </g>
    </g>
    <g id="xtick_17">
     <g id="line2d_26">
      <g>
       <use href="#m1504cfccaf" x="804.61" y="124.23" style="stroke: #000000; stroke-width: 0.8"/>
      </g>
     </g>
     <g id="text_26">
      <text style="font-size: 8px;  text-anchor: middle" x="804.61" y="137.31">0.8</text>
     </g>
    </g>
   </g>
   <g id="matplotlib.axis_12"/>
   <g id="line2d_27">
    <g clip-path="url(#p926bd12adf)">
     <use href="#m5269b93cc7" x="829.89" y="21.36" style="stroke: #000000; stroke-width: 1.3"/>
    </g>
   </g>
   <g id="patch_28">
    <path d="M 731.72 124.23 
L 731.72 16.47 
" style="fill: none; stroke: #000000; stroke-width: 0.8; stroke-linejoin: miter; stroke-linecap: square"/>
   </g>
   <g id="patch_29">
    <path d="M 849.07 124.23 
L 849.07 16.47 
" style="fill: none; stroke: #000000; stroke-width: 0.8; stroke-linejoin: miter; stroke-linecap: square"/>
   </g>
   <g id="patch_30">
    <path d="M 731.72 124.23 
L 849.07 124.23 
" style="fill: none; stroke: #000000; stroke-width: 0.8; stroke-linejoin: miter; stroke-linecap: square"/>
   </g>
   <g id="patch_31">
    <path d="M 731.72 16.47 
L 849.07 16.47 
" style="fill: none; stroke: #000000; stroke-width: 0.8; stroke-linejoin: miter; stroke-linecap: square"/>
   </g>
   <g id="text_27">
    <text style="font-size: 9px;  text-anchor: middle" x="790.40" y="10.47">warmup_momentum = 0.899</text>
   </g>
  </g>
  <g id="axes_7">
   <g id="patch_32">
    <path d="M 27.01 273.41 
L 143.42 273.41 
L 143.42 166.43 
L 27.01 166.43 
z
" style="fill: #ffffff"/>
   </g>
   <g clip-path="url(#p97247d05d8)" fill="none" stroke-width="5.7" class="pt" stroke-opacity="0.92"><path stroke="#375a8c" d="M69.2 181.2h0M69.2 183.7h0M69.2 186.3h0M69.2 188.8h0M69.2 216.4h0M71.8 181.2h0M71.8 221.4h0M74.3 183.7h0M74.3 186.3h0M74.3 223.9h0M76.8 176.2h0M76.8 226.4h0M79.3 226.4h0M79.3 228.9h0M81.8 228.9h0M84.3 231.4h0M86.8 228.9h0M89.4 176.2h0M89.4 223.9h0M89.4 226.4h0M91.9 181.2h0"/><path stroke="#1f958b" d="M66.7 203.8h0M69.2 201.3h0M69.2 203.8h0M69.2 208.8h0M69.2 213.9h0M71.8 178.7h0M71.8 196.3h0M71.8 206.3h0M71.8 208.8h0M71.8 218.9h0M74.3 178.7h0M74.3 193.8h0M74.3 201.3h0M74.3 208.8h0M74.3 213.9h0M74.3 218.9h0M74.3 221.4h0M76.8 178.7h0M76.8 181.2h0M76.8 196.3h0M76.8 211.4h0M76.8 213.9h0M76.8 216.4h0M79.3 183.7h0M79.3 186.3h0M79.3 218.9h0M81.8 191.3h0M81.8 193.8h0M84.3 226.4h0M84.3 228.9h0M86.8 191.3h0M86.8 213.9h0M86.8 221.4h0M89.4 203.8h0M89.4 206.3h0M91.9 173.7h0M91.9 196.3h0"/><path stroke="#44bf70" d="M74.3 203.8h0M74.3 206.3h0M76.8 201.3h0M79.3 178.7h0M79.3 181.2h0M79.3 196.3h0M79.3 203.8h0M79.3 206.3h0M81.8 173.7h0M81.8 186.3h0M81.8 203.8h0M81.8 206.3h0M81.8 211.4h0M81.8 218.9h0M84.3 176.2h0M84.3 188.8h0M84.3 211.4h0M84.3 213.9h0M86.8 183.7h0M86.8 188.8h0M89.4 181.2h0M89.4 183.7h0M91.9 186.3h0"/></g>
<g clip-path="url(#p97247d05d8)" fill="none" stroke-width="5.7" class="pt" stroke-opacity="0.92"><path stroke="#375a8c" d="M75.9 173.1h0M68.2 179.5h0M66.9 183.4h0M72.0 187.2h0M52.3 194.9h0M113.1 200.0h0M106.7 212.8h0M108.0 215.4h0M102.8 188.5h0M96.4 182.1h0M93.9 176.9h0M65.6 200.0h0M64.3 207.7h0M66.9 219.2h0M69.5 220.5h0M72.0 225.6h0M75.9 228.2h0M81.0 230.8h0M83.6 233.3h0M87.4 232.1h0M90.0 229.5h0M91.3 225.6h0"/><path stroke="#1f958b" d="M74.6 189.8h0M77.2 193.6h0M73.3 197.5h0M70.8 202.6h0M68.2 206.4h0M66.9 210.3h0M72.0 212.8h0M73.3 216.7h0M77.2 220.5h0M82.3 223.1h0M86.2 225.6h0M88.7 212.8h0M91.3 209.0h0M92.6 202.6h0M93.9 196.2h0M88.7 191.0h0M96.4 178.2h0M95.1 173.1h0M86.2 171.8h0M87.4 218.0h0M77.2 209.0h0"/><path stroke="#44bf70" d="M81.0 176.9h0M84.9 179.5h0M86.2 185.9h0M88.7 197.5h0M83.6 200.0h0M84.9 207.7h0M79.7 210.3h0M81.0 215.4h0M77.2 203.9h0M78.5 198.7h0M90.0 187.2h0"/><path stroke="#1f958b" d="M73.3 176.9h0M74.6 180.8h0M77.2 184.6h0"/><path stroke="#375a8c" d="M72.0 183.4h0"/><path stroke="#1f958b" d="M78.5 188.5h0M75.9 192.3h0"/><path stroke="#fde725" d="M82.3 180.8h0M83.6 183.4h0"/><path stroke="#9bd93c" d="M84.9 185.9h0"/><path stroke="#1f958b" d="M91.4 171.3h0"/></g>
<g clip-path="url(#p97247d05d8)" fill="none" stroke-width="5.7" class="pt" stroke-opacity="0.8"><path stroke="#440154" d="M63.6 171.3h0M38.7 186.7h0M40.5 194.4h0M46.4 201.3h0M46.4 207.2h0M31.7 213.3h0M36.9 221.0h0M37.4 223.1h0M51.5 226.9h0M59.2 189.8h0M60.5 192.3h0M64.3 194.9h0M57.9 200.0h0M67.7 229.5h0M70.8 229.5h0M75.9 237.9h0M60.5 235.9h0M59.2 242.3h0M50.7 242.3h0M51.5 250.0h0M56.6 250.0h0M72.0 246.2h0M77.2 243.6h0M77.2 250.0h0M77.9 255.9h0M70.8 259.5h0M61.0 264.6h0M89.2 250.0h0M95.9 239.0h0M89.2 237.9h0M102.8 227.7h0M111.8 229.5h0M117.5 239.0h0M109.3 257.7h0M110.5 268.7h0M138.0 223.6h0M120.8 207.2h0M132.9 193.6h0M125.9 196.2h0M125.9 180.8h0M113.1 175.7h0M110.5 184.6h0M105.4 179.5h0M106.7 182.1h0M108.0 198.7h0M101.6 199.5h0M96.4 200.0h0M100.3 207.7h0M93.9 210.3h0M97.7 221.0h0M90.0 221.8h0M84.9 221.8h0M79.7 223.1h0"/></g>
<g id="matplotlib.axis_13">
    <g id="xtick_18">
     <g id="line2d_28">
      <g>
       <use href="#m1504cfccaf" x="77.44" y="273.41" style="stroke: #000000; stroke-width: 0.8"/>
      </g>
     </g>
     <g id="text_28">
      <text style="font-size: 8px;  text-anchor: middle" x="77.44" y="286.49">0.10</text>
     </g>
    </g>
    <g id="xtick_19">
     <g id="line2d_29">
      <g>
       <use href="#m1504cfccaf" x="135.56" y="273.41" style="stroke: #000000; stroke-width: 0.8"/>
      </g>
     </g>
     <g id="text_29">
      <text style="font-size: 8px;  text-anchor: middle" x="135.56" y="286.49">0.15</text>
     </g>
    </g>
   </g>
   <g id="matplotlib.axis_14">
    <g id="ytick_5">
     <g id="line2d_30">
      <g>
       <use href="#m5d545ce8f8" x="27.01" y="257.84" style="stroke: #000000; stroke-width: 0.8"/>
      </g>
     </g>
     <g id="text_30">
      <text style="font-size: 8px;  text-anchor: end" x="20.01" y="260.88">0.5</text>
     </g>
    </g>
    <g id="ytick_6">
     <g id="line2d_31">
      <g>
       <use href="#m5d545ce8f8" x="27.01" y="230.23" style="stroke: #000000; stroke-width: 0.8"/>
      </g>
     </g>
     <g id="text_31">
      <text style="font-size: 8px;  text-anchor: end" x="20.01" y="233.27">0.6</text>
     </g>
    </g>
    <g id="ytick_7">
     <g id="line2d_32">
      <g>
       <use href="#m5d545ce8f8" x="27.01" y="202.62" style="stroke: #000000; stroke-width: 0.8"/>
      </g>
     </g>
     <g id="text_32">
      <text style="font-size: 8px;  text-anchor: end" x="20.01" y="205.66">0.7</text>
     </g>
    </g>
    <g id="ytick_8">
     <g id="line2d_33">
      <g>
       <use href="#m5d545ce8f8" x="27.01" y="175.01" style="stroke: #000000; stroke-width: 0.8"/>
      </g>
     </g>
     <g id="text_33">
      <text style="font-size: 8px;  text-anchor: end" x="20.01" y="178.05">0.8</text>
     </g>
    </g>
   </g>
   <g id="line2d_34">
    <g clip-path="url(#p97247d05d8)">
     <use href="#m5269b93cc7" x="91.39" y="171.29" style="stroke: #000000; stroke-width: 1.3"/>
    </g>
   </g>
   <g id="patch_33">
    <path d="M 27.01 273.41 
L 27.01 166.43 
" style="fill: none; stroke: #000000; stroke-width: 0.8; stroke-linejoin: miter; stroke-linecap: square"/>
   </g>
   <g id="patch_34">
    <path d="M 143.42 273.41 
L 143.42 166.43 
" style="fill: none; stroke: #000000; stroke-width: 0.8; stroke-linejoin: miter; stroke-linecap: square"/>
   </g>
   <g id="patch_35">
    <path d="M 27.01 273.41 
L 143.42 273.41 
" style="fill: none; stroke: #000000; stroke-width: 0.8; stroke-linejoin: miter; stroke-linecap: square"/>
   </g>
   <g id="patch_36">
    <path d="M 27.01 166.43 
L 143.42 166.43 
" style="fill: none; stroke: #000000; stroke-width: 0.8; stroke-linejoin: miter; stroke-linecap: square"/>
   </g>
   <g id="text_34">
    <text style="font-size: 9px;  text-anchor: middle" x="85.22" y="160.43">warmup_bias_lr = 0.112</text>
   </g>
  </g>
  <g id="axes_8">
   <g id="patch_37">
    <path d="M 168.24 273.41 
L 284.80 273.41 
L 284.80 166.58 
L 168.24 166.58 
z
" style="fill: #ffffff"/>
   </g>
   <g clip-path="url(#p5735e0c0e8)" fill="none" stroke-width="5.7" class="pt" stroke-opacity="0.92"><path stroke="#375a8c" d="M189.5 200.1h0M192.1 205.1h0M194.6 207.6h0M202.1 180.0h0M202.1 182.5h0M202.1 190.0h0M202.1 210.1h0M204.6 182.5h0M204.6 185.0h0M204.6 192.6h0M207.1 182.5h0M209.6 180.0h0M209.6 192.6h0M209.6 212.6h0M209.6 215.1h0M212.2 180.0h0M212.2 212.6h0M212.2 215.1h0M214.7 182.5h0M217.2 182.5h0M217.2 207.6h0M217.2 210.1h0M217.2 212.6h0M217.2 215.1h0M217.2 220.2h0M219.7 210.1h0M219.7 212.6h0M219.7 217.7h0M222.2 200.1h0M222.2 215.1h0M222.2 217.7h0M224.7 220.2h0M227.2 220.2h0M237.3 177.5h0M237.3 182.5h0M237.3 220.2h0M239.8 177.5h0M239.8 180.0h0M239.8 187.5h0M239.8 215.1h0M239.8 217.7h0"/><path stroke="#1f958b" d="M194.6 205.1h0M197.1 202.6h0M199.6 202.6h0M207.1 185.0h0M207.1 190.0h0M209.6 182.5h0M209.6 190.0h0M212.2 182.5h0M212.2 187.5h0M214.7 185.0h0M214.7 187.5h0M214.7 195.1h0M217.2 177.5h0M217.2 192.6h0M217.2 195.1h0M217.2 197.6h0M219.7 182.5h0M219.7 185.0h0M219.7 187.5h0M219.7 200.1h0M222.2 175.0h0M222.2 182.5h0M222.2 197.6h0M224.7 175.0h0M224.7 177.5h0M224.7 217.7h0M227.2 212.6h0M227.2 217.7h0M229.8 197.6h0M232.3 177.5h0M232.3 182.5h0M232.3 185.0h0M232.3 187.5h0M232.3 190.0h0M232.3 192.6h0M232.3 200.1h0M232.3 215.1h0M234.8 175.0h0M234.8 177.5h0M234.8 182.5h0M234.8 185.0h0M234.8 190.0h0M234.8 192.6h0M234.8 195.1h0M234.8 210.1h0M237.3 185.0h0M237.3 187.5h0M237.3 197.6h0M237.3 202.6h0M237.3 215.1h0M237.3 217.7h0M239.8 210.1h0M239.8 212.6h0M242.3 212.6h0"/><path stroke="#44bf70" d="M222.2 185.0h0M222.2 190.0h0M222.2 192.6h0M222.2 195.1h0M224.7 180.0h0M224.7 182.5h0M224.7 190.0h0M224.7 192.6h0M224.7 197.6h0M224.7 202.6h0M224.7 205.1h0M224.7 207.6h0M227.2 185.0h0M227.2 195.1h0M227.2 197.6h0M227.2 205.1h0M229.8 182.5h0M229.8 185.0h0M229.8 187.5h0M229.8 190.0h0M229.8 192.6h0M229.8 200.1h0M229.8 207.6h0M232.3 202.6h0M232.3 207.6h0M232.3 210.1h0M232.3 212.6h0M234.8 202.6h0M234.8 205.1h0M234.8 207.6h0"/></g>
<g clip-path="url(#p5735e0c0e8)" fill="none" stroke-width="5.7" class="pt" stroke-opacity="0.92"><path stroke="#375a8c" d="M197.3 176.9h0M198.8 180.8h0M201.9 184.6h0M204.4 188.5h0M207.0 178.2h0M205.7 194.9h0M200.6 196.2h0M195.5 200.0h0M191.6 202.6h0M196.7 209.0h0M200.6 211.5h0M204.4 212.8h0M182.6 221.8h0M183.9 223.1h0M187.8 224.4h0M194.2 223.1h0M192.9 232.1h0M208.3 216.7h0M214.7 214.1h0M216.0 216.7h0M219.8 215.4h0M222.4 220.5h0M227.5 223.1h0M234.0 229.5h0M237.8 229.5h0M240.4 223.1h0M242.9 218.0h0M245.5 215.4h0M251.9 200.0h0M237.8 179.5h0M240.4 183.4h0M241.7 189.8h0M239.1 194.9h0M242.9 180.8h0M185.2 200.0h0M187.8 201.3h0"/><path stroke="#1f958b" d="M198.0 205.1h0M200.6 207.7h0M208.3 187.2h0M210.9 185.9h0M213.4 189.8h0M213.4 197.5h0M216.0 201.3h0M218.6 203.9h0M221.1 180.8h0M222.4 176.9h0M226.3 173.1h0M231.4 174.4h0M234.0 180.8h0M236.5 173.1h0M235.2 187.2h0M237.8 191.0h0M231.4 194.9h0M235.2 198.7h0M240.4 203.9h0M242.9 209.0h0M245.5 212.8h0M237.8 209.0h0M235.2 214.1h0M231.4 218.0h0M228.8 215.4h0M225.0 214.1h0"/><path stroke="#44bf70" d="M227.5 175.7h0M228.8 179.5h0M227.5 182.1h0M225.0 194.9h0M226.3 200.0h0M228.8 203.9h0M227.5 209.0h0M230.1 211.5h0M232.7 205.1h0M223.7 187.2h0"/><path stroke="#375a8c" d="M216.0 180.8h0"/><path stroke="#1f958b" d="M217.3 185.9h0M218.6 191.0h0M219.8 197.5h0"/><path stroke="#375a8c" d="M221.1 202.6h0M214.7 210.3h0"/><path stroke="#1f958b" d="M219.3 176.9h0"/><path stroke="#375a8c" d="M212.1 176.9h0"/><path stroke="#fde725" d="M225.0 184.6h0M226.3 188.5h0"/><path stroke="#9bd93c" d="M227.5 191.0h0M228.8 178.2h0"/><path stroke="#375a8c" d="M214.3 171.4h0"/></g>
<g clip-path="url(#p5735e0c0e8)" fill="none" stroke-width="5.7" class="pt" stroke-opacity="0.8"><path stroke="#440154" d="M173.1 207.7h0M177.5 259.5h0M182.6 202.6h0M187.0 227.7h0M189.0 229.5h0M194.2 238.5h0M196.7 234.6h0M201.9 230.3h0M204.4 235.9h0M207.0 238.5h0M209.6 239.7h0M203.2 249.2h0M203.2 257.7h0M213.4 246.7h0M216.0 229.5h0M209.6 224.4h0M208.3 226.9h0M205.7 223.1h0M201.9 220.5h0M203.2 200.0h0M209.6 192.3h0M210.9 206.4h0M217.3 194.9h0M218.6 210.3h0M219.8 219.2h0M228.8 226.9h0M230.1 229.5h0M228.1 268.7h0M236.5 249.2h0M240.4 237.9h0M245.0 243.6h0M248.1 248.7h0M258.3 236.4h0M260.9 242.3h0M260.9 250.0h0M262.2 221.8h0M262.2 223.1h0M260.9 265.4h0M270.7 255.1h0M279.4 241.5h0M248.1 206.4h0M249.4 208.2h0M250.6 192.3h0M248.1 180.8h0M258.3 197.5h0M262.2 205.1h0M263.0 189.8h0M271.2 184.1h0M240.4 200.0h0M242.9 187.2h0"/></g>
<g id="matplotlib.axis_15">
    <g id="xtick_20">
     <g id="line2d_35">
      <g>
       <use href="#m1504cfccaf" x="220.08" y="273.41" style="stroke: #000000; stroke-width: 0.8"/>
      </g>
     </g>
     <g id="text_35">
      <text style="font-size: 8px;  text-anchor: middle" x="220.08" y="286.49">0.04</text>
     </g>
    </g>
    <g id="xtick_21">
     <g id="line2d_36">
      <g>
       <use href="#m1504cfccaf" x="272.55" y="273.41" style="stroke: #000000; stroke-width: 0.8"/>
      </g>
     </g>
     <g id="text_36">
      <text style="font-size: 8px;  text-anchor: middle" x="272.55" y="286.49">0.06</text>
     </g>
    </g>
   </g>
   <g id="matplotlib.axis_16"/>
   <g id="line2d_37">
    <g clip-path="url(#p5735e0c0e8)">
     <use href="#m5269b93cc7" x="214.31" y="171.44" style="stroke: #000000; stroke-width: 1.3"/>
    </g>
   </g>
   <g id="patch_38">
    <path d="M 168.24 273.41 
L 168.24 166.58 
" style="fill: none; stroke: #000000; stroke-width: 0.8; stroke-linejoin: miter; stroke-linecap: square"/>
   </g>
   <g id="patch_39">
    <path d="M 284.80 273.41 
L 284.80 166.58 
" style="fill: none; stroke: #000000; stroke-width: 0.8; stroke-linejoin: miter; stroke-linecap: square"/>
   </g>
   <g id="patch_40">
    <path d="M 168.24 273.41 
L 284.80 273.41 
" style="fill: none; stroke: #000000; stroke-width: 0.8; stroke-linejoin: miter; stroke-linecap: square"/>
   </g>
   <g id="patch_41">
    <path d="M 168.24 166.58 
L 284.80 166.58 
" style="fill: none; stroke: #000000; stroke-width: 0.8; stroke-linejoin: miter; stroke-linecap: square"/>
   </g>
   <g id="text_37">
    <text style="font-size: 9px;  text-anchor: middle" x="226.52" y="160.58">box = 0.0378</text>
   </g>
  </g>
  <g id="axes_9">
   <g id="patch_42">
    <path d="M 310.25 273.41 
L 426.34 273.41 
L 426.34 166.43 
L 310.25 166.43 
z
" style="fill: #ffffff"/>
   </g>
   <g clip-path="url(#p81adb6a812)" fill="none" stroke-width="5.7" class="pt" stroke-opacity="0.92"><path stroke="#375a8c" d="M341.2 220.2h0M348.7 220.2h0M351.2 220.2h0M353.8 217.7h0M353.8 232.7h0M356.3 212.6h0M358.8 190.0h0M358.8 212.6h0M383.9 200.1h0M383.9 202.6h0M388.9 187.5h0M391.5 182.5h0"/><path stroke="#1f958b" d="M346.2 202.6h0M346.2 205.1h0M346.2 212.6h0M348.7 205.1h0M348.7 207.6h0M348.7 210.1h0M351.2 200.1h0M351.2 217.7h0M353.8 200.1h0M353.8 202.6h0M353.8 205.1h0M353.8 207.6h0M353.8 210.1h0M358.8 200.1h0M358.8 202.6h0M358.8 207.6h0M361.3 200.1h0M361.3 202.6h0M361.3 215.1h0M363.8 182.5h0M363.8 187.5h0M363.8 195.1h0M363.8 202.6h0M363.8 205.1h0M366.3 195.1h0M366.3 202.6h0M366.3 205.1h0M366.3 215.1h0M368.8 180.0h0M368.8 195.1h0M368.8 200.1h0M368.8 202.6h0M368.8 205.1h0M368.8 207.6h0M368.8 212.6h0M368.8 215.1h0M371.3 180.0h0M371.3 200.1h0M371.3 202.6h0M371.3 210.1h0M373.9 190.0h0M373.9 195.1h0M373.9 200.1h0M373.9 207.6h0M373.9 210.1h0M376.4 190.0h0M376.4 195.1h0M376.4 197.6h0M376.4 202.6h0M376.4 205.1h0M376.4 207.6h0M376.4 210.1h0M378.9 175.0h0M378.9 197.6h0M381.4 175.0h0M381.4 177.5h0M381.4 192.6h0M381.4 200.1h0M381.4 202.6h0M381.4 205.1h0M383.9 177.5h0M383.9 182.5h0M383.9 197.6h0M386.4 177.5h0M386.4 180.0h0M386.4 185.0h0M388.9 182.5h0"/><path stroke="#44bf70" d="M363.8 190.0h0M366.3 182.5h0M368.8 182.5h0M368.8 185.0h0M368.8 192.6h0M371.3 190.0h0M371.3 195.1h0M373.9 180.0h0M373.9 182.5h0M373.9 187.5h0M376.4 175.0h0M376.4 182.5h0M376.4 187.5h0M378.9 177.5h0M378.9 185.0h0M381.4 185.0h0M381.4 190.0h0M383.9 185.0h0M383.9 187.5h0"/></g>
<g clip-path="url(#p81adb6a812)" fill="none" stroke-width="5.7" class="pt" stroke-opacity="0.92"><path stroke="#375a8c" d="M342.0 188.5h0M343.3 192.3h0M336.8 205.1h0M334.3 206.4h0M335.6 220.5h0M338.1 223.1h0M339.4 229.5h0M345.8 221.8h0M347.1 218.0h0M349.7 234.6h0M352.2 237.2h0M356.1 234.6h0M358.7 230.8h0M354.8 219.2h0M357.4 215.4h0M353.5 250.0h0M381.8 233.3h0M384.3 234.6h0M380.5 221.8h0M384.3 220.5h0M386.9 202.6h0M389.5 200.0h0M393.3 202.6h0M397.2 194.9h0M392.0 187.2h0M389.5 184.6h0M386.9 192.3h0M395.9 214.1h0M397.2 216.7h0M354.8 185.9h0M356.1 191.0h0"/><path stroke="#1f958b" d="M344.5 200.0h0M347.1 196.2h0M349.7 202.6h0M352.2 206.4h0M352.2 211.5h0M349.7 214.1h0M345.8 207.7h0M356.1 198.7h0M357.4 203.9h0M357.4 209.0h0M361.2 206.4h0M362.5 211.5h0M365.1 209.0h0M366.4 212.8h0M368.9 210.3h0M371.5 206.4h0M374.1 202.6h0M377.9 200.0h0M379.2 203.9h0M380.5 209.0h0M376.6 212.8h0M371.5 214.1h0M367.6 216.7h0M363.8 215.4h0M365.1 200.0h0M368.9 197.5h0M372.8 197.5h0M375.3 192.3h0M379.2 194.9h0M383.0 179.5h0M385.6 174.4h0M386.9 182.1h0M389.5 178.2h0M381.8 173.1h0M374.1 173.1h0M368.9 175.7h0M363.8 179.5h0M362.5 185.9h0M359.9 194.9h0"/><path stroke="#44bf70" d="M366.4 184.6h0M367.6 189.8h0M371.5 185.9h0M375.3 176.9h0M377.9 180.8h0M380.5 183.4h0M379.2 188.5h0M371.5 192.3h0M375.3 184.6h0"/><path stroke="#fde725" d="M367.6 187.2h0M379.2 182.1h0"/></g>
<g clip-path="url(#p81adb6a812)" fill="none" stroke-width="5.7" class="pt" stroke-opacity="0.8"><path stroke="#440154" d="M315.0 200.0h0M336.8 179.0h0M340.7 180.8h0M344.5 173.1h0M345.8 180.8h0M349.7 175.7h0M352.2 182.1h0M335.6 215.4h0M342.0 206.4h0M330.4 237.9h0M324.0 249.2h0M326.6 254.4h0M321.4 259.5h0M329.1 264.6h0M336.8 268.7h0M343.3 257.7h0M345.8 250.0h0M348.4 238.5h0M353.5 242.3h0M354.8 246.2h0M359.9 246.2h0M352.2 225.6h0M353.5 229.5h0M356.1 223.1h0M361.2 218.0h0M366.4 230.8h0M371.5 237.9h0M374.1 216.7h0M375.3 220.5h0M376.6 229.5h0M370.2 221.8h0M386.9 211.5h0M389.5 243.6h0M397.2 205.1h0M395.9 227.7h0M402.3 214.1h0M408.7 216.7h0M402.3 221.8h0M399.7 187.2h0M402.3 185.9h0M403.6 188.5h0M399.2 179.5h0M419.8 172.3h0M421.5 188.5h0M392.0 197.5h0M394.6 193.6h0M345.8 229.5h0M358.2 171.3h0"/></g>
<g id="matplotlib.axis_17">
    <g id="xtick_22">
     <g id="line2d_38">
      <g>
       <use href="#m1504cfccaf" x="337.90" y="273.41" style="stroke: #000000; stroke-width: 0.8"/>
      </g>
     </g>
     <g id="text_38">
      <text style="font-size: 8px;  text-anchor: middle" x="337.90" y="286.49">0.4</text>
     </g>
    </g>
    <g id="xtick_23">
     <g id="line2d_39">
      <g>
       <use href="#m1504cfccaf" x="385.18" y="273.41" style="stroke: #000000; stroke-width: 0.8"/>
      </g>
     </g>
     <g id="text_39">
      <text style="font-size: 8px;  text-anchor: middle" x="385.18" y="286.49">0.6</text>
     </g>
    </g>
   </g>
   <g id="matplotlib.axis_18"/>
   <g id="line2d_40">
    <g clip-path="url(#p81adb6a812)">
     <use href="#m5269b93cc7" x="358.23" y="171.29" style="stroke: #000000; stroke-width: 1.3"/>
    </g>
   </g>
   <g id="patch_43">
    <path d="M 310.25 273.41 
L 310.25 166.43 
" style="fill: none; stroke: #000000; stroke-width: 0.8; stroke-linejoin: miter; stroke-linecap: square"/>
   </g>
   <g id="patch_44">
    <path d="M 426.34 273.41 
L 426.34 166.43 
" style="fill: none; stroke: #000000; stroke-width: 0.8; stroke-linejoin: miter; stroke-linecap: square"/>
   </g>
   <g id="patch_45">
    <path d="M 310.25 273.41 
L 426.34 273.41 
" style="fill: none; stroke: #000000; stroke-width: 0.8; stroke-linejoin: miter; stroke-linecap: square"/>
   </g>
   <g id="patch_46">
    <path d="M 310.25 166.43 
L 426.34 166.43 
" style="fill: none; stroke: #000000; stroke-width: 0.8; stroke-linejoin: miter; stroke-linecap: square"/>
   </g>
   <g id="text_40">
    <text style="font-size: 9px;  text-anchor: middle" x="368.29" y="160.43">cls = 0.486</text>
   </g>
  </g>
  <g id="axes_10">
   <g id="patch_47">
    <path d="M 451.63 273.25 
L 567.72 273.25 
L 567.72 166.58 
L 451.63 166.58 
z
" style="fill: #ffffff"/>
   </g>
   <g clip-path="url(#p86eadc8eeb)" fill="none" stroke-width="5.7" class="pt" stroke-opacity="0.92"><path stroke="#375a8c" d="M491.7 186.3h0M491.7 188.8h0M491.7 191.3h0M494.2 186.3h0M494.2 191.3h0M496.7 181.2h0M496.7 193.8h0M496.7 231.4h0M499.2 176.2h0M499.2 181.2h0M499.2 231.4h0M501.7 233.9h0M504.2 231.4h0M506.7 178.7h0M506.7 231.4h0M506.7 233.9h0M509.3 178.7h0M509.3 183.7h0M509.3 231.4h0M524.3 176.2h0M529.4 191.3h0M529.4 193.8h0M534.4 201.3h0"/><path stroke="#1f958b" d="M491.7 201.3h0M491.7 211.4h0M494.2 188.8h0M494.2 198.8h0M496.7 186.3h0M496.7 206.3h0M496.7 208.8h0M496.7 221.4h0M496.7 223.9h0M499.2 173.7h0M499.2 191.3h0M499.2 193.8h0M499.2 196.3h0M499.2 206.3h0M499.2 208.8h0M501.7 176.2h0M501.7 178.7h0M501.7 186.3h0M501.7 196.3h0M501.7 216.4h0M501.7 218.9h0M501.7 221.4h0M501.7 223.9h0M501.7 226.4h0M501.7 231.4h0M504.2 201.3h0M504.2 203.8h0M504.2 208.8h0M504.2 211.4h0M504.2 213.9h0M504.2 216.4h0M504.2 221.4h0M504.2 223.9h0M504.2 226.4h0M506.7 176.2h0M506.7 191.3h0M506.7 196.3h0M506.7 198.8h0M506.7 201.3h0M506.7 203.8h0M509.3 176.2h0M509.3 191.3h0M509.3 201.3h0M509.3 211.4h0M509.3 216.4h0M511.8 176.2h0M511.8 208.8h0M511.8 211.4h0M511.8 213.9h0M511.8 216.4h0M511.8 221.4h0M514.3 198.8h0M514.3 208.8h0M516.8 203.8h0M516.8 208.8h0M516.8 211.4h0M516.8 216.4h0M516.8 218.9h0M519.3 183.7h0M519.3 186.3h0M519.3 188.8h0M521.8 178.7h0M521.8 193.8h0M524.3 183.7h0M524.3 186.3h0M524.3 188.8h0M526.8 191.3h0"/><path stroke="#44bf70" d="M501.7 181.2h0M501.7 183.7h0M504.2 183.7h0M504.2 186.3h0M506.7 173.7h0M509.3 208.8h0M511.8 178.7h0M511.8 181.2h0M511.8 183.7h0M511.8 186.3h0M511.8 191.3h0M516.8 181.2h0M516.8 183.7h0M516.8 186.3h0M516.8 188.8h0M519.3 191.3h0M526.8 188.8h0"/></g>
<g clip-path="url(#p86eadc8eeb)" fill="none" stroke-width="5.7" class="pt" stroke-opacity="0.92"><path stroke="#375a8c" d="M489.8 189.8h0M494.9 183.4h0M497.5 179.5h0M493.6 193.6h0M491.1 194.9h0M523.1 174.4h0M528.3 173.1h0M530.8 189.8h0M533.4 196.2h0M537.3 200.0h0M538.5 202.6h0M534.7 206.4h0M530.8 212.8h0M528.3 219.2h0M525.7 221.8h0M520.6 220.5h0M510.3 234.6h0M506.5 235.9h0M502.6 237.2h0M498.8 233.3h0M497.5 229.5h0M494.9 225.6h0M509.0 180.8h0M511.6 250.0h0M503.9 233.3h0"/><path stroke="#1f958b" d="M497.5 183.4h0M498.8 187.2h0M496.2 189.8h0M497.5 197.5h0M493.6 205.1h0M491.1 207.7h0M494.9 210.3h0M497.5 214.1h0M500.0 218.0h0M498.8 223.1h0M497.5 226.9h0M501.3 229.5h0M505.2 228.2h0M507.7 223.1h0M510.3 219.2h0M514.2 216.7h0M518.0 212.8h0M520.6 209.0h0M523.1 203.9h0M525.7 197.5h0M524.4 192.3h0M521.9 187.2h0M523.1 182.1h0M519.3 179.5h0M520.6 175.7h0M515.4 176.9h0M510.3 171.8h0M503.9 176.9h0M501.3 173.1h0M503.9 192.3h0M505.2 197.5h0M509.0 194.9h0M511.6 200.0h0M512.9 205.1h0M514.2 211.5h0M507.7 212.8h0M505.2 206.4h0M501.3 202.6h0M502.6 210.3h0M506.5 219.2h0"/><path stroke="#44bf70" d="M503.9 173.1h0M505.2 182.1h0M509.0 187.2h0M514.2 188.5h0M516.7 193.6h0M510.3 203.9h0M506.5 209.0h0M489.8 206.4h0M528.3 185.9h0"/><path stroke="#fde725" d="M514.2 180.8h0M514.2 184.6h0"/><path stroke="#9bd93c" d="M515.4 178.2h0"/><path stroke="#44bf70" d="M514.4 171.4h0"/></g>
<g clip-path="url(#p86eadc8eeb)" fill="none" stroke-width="5.7" class="pt" stroke-opacity="0.8"><path stroke="#440154" d="M456.4 223.1h0M465.4 257.7h0M466.7 221.0h0M468.7 229.5h0M470.5 210.3h0M473.1 194.4h0M476.9 259.0h0M476.9 264.6h0M480.8 243.6h0M483.4 229.5h0M484.6 221.8h0M484.1 233.3h0M485.9 237.9h0M489.8 239.0h0M489.8 246.7h0M494.9 248.7h0M497.5 239.0h0M501.3 239.7h0M503.9 250.0h0M505.2 268.7h0M507.7 241.0h0M511.6 237.2h0M512.4 255.1h0M520.6 241.5h0M515.4 227.7h0M520.6 228.7h0M524.4 223.1h0M528.3 224.4h0M536.0 229.5h0M537.3 216.7h0M542.4 207.7h0M538.5 205.1h0M537.3 194.9h0M552.7 207.7h0M562.9 215.4h0M551.4 176.4h0M533.4 176.9h0M530.8 183.4h0M492.3 175.7h0M491.1 179.5h0M484.6 187.2h0M482.1 205.1h0M488.5 200.0h0M492.3 198.7h0M493.6 220.5h0M492.3 226.9h0"/></g>
<g id="matplotlib.axis_19">
    <g id="xtick_24">
     <g id="line2d_41">
      <g>
       <use href="#m1504cfccaf" x="477.39" y="273.25" style="stroke: #000000; stroke-width: 0.8"/>
      </g>
     </g>
     <g id="text_41">
      <text style="font-size: 8px;  text-anchor: middle" x="477.39" y="286.33">0.75</text>
     </g>
    </g>
    <g id="xtick_25">
     <g id="line2d_42">
      <g>
       <use href="#m1504cfccaf" x="510.46" y="273.25" style="stroke: #000000; stroke-width: 0.8"/>
      </g>
     </g>
     <g id="text_42">
      <text style="font-size: 8px;  text-anchor: middle" x="510.46" y="286.33">1.00</text>
     </g>
    </g>
    <g id="xtick_26">
     <g id="line2d_43">
      <g>
       <use href="#m1504cfccaf" x="543.53" y="273.25" style="stroke: #000000; stroke-width: 0.8"/>
      </g>
     </g>
     <g id="text_43">
      <text style="font-size: 8px;  text-anchor: middle" x="543.53" y="286.33">1.25</text>
     </g>
    </g>
   </g>
   <g id="matplotlib.axis_20"/>
   <g id="line2d_44">
    <g clip-path="url(#p86eadc8eeb)">
     <use href="#m5269b93cc7" x="514.43" y="171.43" style="stroke: #000000; stroke-width: 1.3"/>
    </g>
   </g>
   <g id="patch_48">
    <path d="M 451.63 273.25 
L 451.63 166.58 
" style="fill: none; stroke: #000000; stroke-width: 0.8; stroke-linejoin: miter; stroke-linecap: square"/>
   </g>
   <g id="patch_49">
    <path d="M 567.72 273.25 
L 567.72 166.58 
" style="fill: none; stroke: #000000; stroke-width: 0.8; stroke-linejoin: miter; stroke-linecap: square"/>
   </g>
   <g id="patch_50">
    <path d="M 451.63 273.25 
L 567.72 273.25 
" style="fill: none; stroke: #000000; stroke-width: 0.8; stroke-linejoin: miter; stroke-linecap: square"/>
   </g>
   <g id="patch_51">
    <path d="M 451.63 166.58 
L 567.72 166.58 
" style="fill: none; stroke: #000000; stroke-width: 0.8; stroke-linejoin: miter; stroke-linecap: square"/>
   </g>
   <g id="text_44">
    <text style="font-size: 9px;  text-anchor: middle" x="509.68" y="160.58">cls_pw = 1.03</text>
   </g>
  </g>
  <g id="axes_11">
   <g id="patch_52">
    <path d="M 590.19 272.78 
L 706.43 272.78 
L 706.43 165.49 
L 590.19 165.49 
z
" style="fill: #ffffff"/>
   </g>
   <g clip-path="url(#p2c0bd8d579)" fill="none" stroke-width="5.7" class="pt" stroke-opacity="0.92"><path stroke="#375a8c" d="M641.9 174.6h0M641.9 177.2h0M641.9 179.7h0M644.4 184.7h0M644.4 212.3h0M646.9 187.2h0M646.9 189.7h0M649.4 172.1h0M649.4 212.3h0M649.4 239.9h0M651.9 234.9h0M651.9 237.4h0M651.9 239.9h0M654.4 172.1h0M654.4 234.9h0M654.4 239.9h0M657.0 172.1h0M659.5 222.3h0M662.0 219.8h0M664.5 222.3h0M667.0 219.8h0M667.0 222.3h0M669.5 179.7h0M669.5 202.3h0M672.0 194.7h0"/><path stroke="#1f958b" d="M641.9 204.8h0M641.9 207.3h0M644.4 172.1h0M646.9 174.6h0M646.9 182.2h0M646.9 184.7h0M646.9 202.3h0M646.9 204.8h0M646.9 209.8h0M649.4 182.2h0M649.4 189.7h0M649.4 207.3h0M649.4 209.8h0M651.9 172.1h0M651.9 184.7h0M651.9 187.2h0M651.9 189.7h0M651.9 192.2h0M651.9 202.3h0M651.9 207.3h0M651.9 212.3h0M651.9 219.8h0M651.9 232.4h0M654.4 207.3h0M654.4 212.3h0M654.4 217.3h0M654.4 219.8h0M654.4 222.3h0M654.4 224.8h0M654.4 229.9h0M654.4 232.4h0M657.0 212.3h0M657.0 219.8h0M657.0 222.3h0M657.0 224.8h0M657.0 227.4h0M659.5 204.8h0M659.5 212.3h0M659.5 214.8h0M659.5 219.8h0M659.5 227.4h0M662.0 177.2h0M662.0 179.7h0M662.0 187.2h0M662.0 189.7h0M662.0 202.3h0M662.0 217.3h0M664.5 177.2h0M664.5 182.2h0M664.5 184.7h0M664.5 204.8h0M664.5 207.3h0M667.0 179.7h0M667.0 202.3h0M667.0 204.8h0M669.5 182.2h0M669.5 184.7h0M669.5 187.2h0M669.5 194.7h0M669.5 204.8h0M672.0 197.2h0"/><path stroke="#44bf70" d="M649.4 174.6h0M649.4 179.7h0M649.4 197.2h0M649.4 199.7h0M651.9 179.7h0M651.9 182.2h0M654.4 179.7h0M654.4 182.2h0M654.4 184.7h0M654.4 187.2h0M654.4 192.2h0M654.4 194.7h0M657.0 174.6h0M657.0 177.2h0M657.0 179.7h0M657.0 192.2h0M657.0 194.7h0M657.0 202.3h0M659.5 172.1h0M659.5 177.2h0M659.5 179.7h0M659.5 182.2h0M659.5 187.2h0M659.5 189.7h0M659.5 199.7h0M659.5 202.3h0"/></g>
<g clip-path="url(#p2c0bd8d579)" fill="none" stroke-width="5.7" class="pt" stroke-opacity="0.92"><path stroke="#375a8c" d="M599.8 212.5h0M637.0 180.5h0M639.6 175.4h0M640.8 171.5h0M648.5 170.3h0M655.0 170.3h0M643.4 183.1h0M644.7 186.9h0M638.3 206.1h0M639.6 211.3h0M647.3 212.5h0M646.0 234.3h0M649.8 236.9h0M653.7 238.2h0M656.2 235.6h0M657.5 248.4h0M660.1 247.1h0M664.0 238.2h0M661.4 222.8h0M664.0 219.0h0M666.5 217.7h0M670.4 220.2h0M674.2 217.7h0M672.9 201.0h0M675.5 195.9h0M672.9 190.8h0M675.5 185.6h0M671.7 179.2h0M667.8 176.7h0M652.4 242.0h0"/><path stroke="#1f958b" d="M644.7 175.4h0M646.0 179.2h0M648.5 185.6h0M649.8 192.0h0M647.3 194.6h0M642.1 198.4h0M644.7 203.6h0M643.4 208.7h0M647.3 207.4h0M651.1 204.9h0M653.7 210.0h0M651.1 215.1h0M649.8 220.2h0M652.4 224.1h0M653.7 227.9h0M656.2 230.5h0M658.8 225.4h0M660.1 217.7h0M656.2 215.1h0M658.8 208.7h0M661.4 206.1h0M664.0 202.3h0M666.5 199.7h0M670.4 198.4h0M669.1 207.4h0M665.2 188.2h0M666.5 183.1h0M664.0 179.2h0M662.7 175.4h0M653.7 174.1h0"/><path stroke="#44bf70" d="M651.1 177.9h0M655.0 175.4h0M660.1 175.4h0M661.4 183.1h0M656.2 189.5h0M658.8 193.3h0M655.0 198.4h0M652.4 195.9h0M656.2 204.9h0M657.5 208.7h0"/><path stroke="#fde725" d="M657.5 181.8h0M658.8 184.3h0"/><path stroke="#9bd93c" d="M656.2 185.6h0"/><path stroke="#472d7b" d="M599.1 170.4h0"/></g>
<g clip-path="url(#p2c0bd8d579)" fill="none" stroke-width="5.7" class="pt" stroke-opacity="0.8"><path stroke="#440154" d="M594.6 180.5h0M595.9 177.9h0M598.5 201.0h0M602.3 199.7h0M599.8 207.4h0M601.1 210.0h0M614.7 190.2h0M615.2 193.8h0M615.2 198.4h0M620.3 203.6h0M615.2 215.1h0M614.7 223.6h0M625.4 192.0h0M630.1 173.3h0M631.9 207.4h0M630.1 220.2h0M637.0 188.2h0M637.0 202.3h0M639.6 226.6h0M640.8 227.2h0M635.7 233.0h0M647.3 227.9h0M648.5 221.0h0M642.1 245.9h0M646.0 239.5h0M633.1 263.8h0M616.5 248.4h0M655.0 249.7h0M656.2 256.1h0M660.1 253.6h0M666.5 257.9h0M669.1 267.1h0M662.7 242.0h0M664.0 228.7h0M662.7 213.8h0M669.1 228.7h0M672.9 233.0h0M676.8 220.2h0M679.4 233.0h0M685.8 224.1h0M701.2 226.6h0M687.1 206.1h0M693.5 202.3h0M694.8 197.2h0M696.0 187.7h0M694.8 180.0h0M681.9 177.9h0M681.9 189.5h0M676.8 206.1h0M674.2 184.3h0M667.8 172.8h0M666.5 193.3h0M649.8 208.7h0"/></g>
<g id="matplotlib.axis_21">
    <g id="xtick_27">
     <g id="line2d_45">
      <g>
       <use href="#m1504cfccaf" x="606.84" y="272.78" style="stroke: #000000; stroke-width: 0.8"/>
      </g>
     </g>
     <g id="text_45">
      <text style="font-size: 8px;  text-anchor: middle" x="606.84" y="285.86">0.5</text>
     </g>
    </g>
    <g id="xtick_28">
     <g id="line2d_46">
      <g>
       <use href="#m1504cfccaf" x="655.85" y="272.78" style="stroke: #000000; stroke-width: 0.8"/>
      </g>
     </g>
     <g id="text_46">
      <text style="font-size: 8px;  text-anchor: middle" x="655.85" y="285.86">1.0</text>
     </g>
    </g>
    <g id="xtick_29">
     <g id="line2d_47">
      <g>
       <use href="#m1504cfccaf" x="704.86" y="272.78" style="stroke: #000000; stroke-width: 0.8"/>
      </g>
     </g>
     <g id="text_47">
      <text style="font-size: 8px;  text-anchor: middle" x="704.86" y="285.86">1.5</text>
     </g>
    </g>
   </g>
   <g id="matplotlib.axis_22"/>
   <g id="line2d_48">
    <g clip-path="url(#p2c0bd8d579)">
     <use href="#m5269b93cc7" x="599.09" y="170.36" style="stroke: #000000; stroke-width: 1.3"/>
    </g>
   </g>
   <g id="patch_53">
    <path d="M 590.19 272.78 
L 590.19 165.49 
" style="fill: none; stroke: #000000; stroke-width: 0.8; stroke-linejoin: miter; stroke-linecap: square"/>
   </g>
   <g id="patch_54">
    <path d="M 706.43 272.78 
L 706.43 165.49 
" style="fill: none; stroke: #000000; stroke-width: 0.8; stroke-linejoin: miter; stroke-linecap: square"/>
   </g>
   <g id="patch_55">
    <path d="M 590.19 272.78 
L 706.43 272.78 
" style="fill: none; stroke: #000000; stroke-width: 0.8; stroke-linejoin: miter; stroke-linecap: square"/>
   </g>
   <g id="patch_56">
    <path d="M 590.19 165.49 
L 706.43 165.49 
" style="fill: none; stroke: #000000; stroke-width: 0.8; stroke-linejoin: miter; stroke-linecap: square"/>
   </g>
   <g id="text_48">
    <text style="font-size: 9px;  text-anchor: middle" x="648.31" y="159.49">obj = 0.421</text>
   </g>
  </g>
  <g id="axes_12">
   <g id="patch_57">
    <path d="M 731.57 272.78 
L 848.13 272.78 
L 848.13 165.33 
L 731.57 165.33 
z
" style="fill: #ffffff"/>
   </g>
   <g clip-path="url(#p6c1d9eaf5a)" fill="none" stroke-width="5.7" class="pt" stroke-opacity="0.92"><path stroke="#375a8c" d="M755.8 214.8h0M755.8 217.3h0M763.4 212.3h0M765.9 207.3h0M765.9 212.3h0M768.4 202.3h0M768.4 204.8h0M768.4 209.8h0M773.4 192.2h0M773.4 199.7h0M773.4 202.3h0M775.9 182.2h0M775.9 184.7h0M775.9 187.2h0M775.9 189.7h0M778.4 174.6h0M781.0 177.2h0M781.0 182.2h0M781.0 189.7h0M783.5 172.1h0M786.0 172.1h0M786.0 179.7h0M786.0 184.7h0M788.5 184.7h0M788.5 189.7h0M796.0 187.2h0M796.0 189.7h0M796.0 234.9h0M798.6 202.3h0M798.6 232.4h0M801.1 197.2h0M801.1 204.8h0M806.1 207.3h0M808.6 204.8h0M811.1 207.3h0M811.1 209.8h0M813.6 207.3h0"/><path stroke="#1f958b" d="M760.9 207.3h0M760.9 209.8h0M773.4 224.8h0M778.4 182.2h0M778.4 187.2h0M778.4 194.7h0M778.4 207.3h0M781.0 174.6h0M781.0 187.2h0M781.0 197.2h0M783.5 182.2h0M783.5 187.2h0M783.5 204.8h0M786.0 177.2h0M786.0 187.2h0M786.0 207.3h0M788.5 177.2h0M788.5 192.2h0M788.5 197.2h0M788.5 204.8h0M791.0 177.2h0M791.0 189.7h0M791.0 194.7h0M791.0 197.2h0M791.0 199.7h0M791.0 202.3h0M793.5 192.2h0M793.5 209.8h0M796.0 202.3h0M796.0 204.8h0M796.0 214.8h0M798.6 204.8h0M798.6 207.3h0M798.6 212.3h0M801.1 177.2h0M801.1 212.3h0M801.1 222.3h0M803.6 174.6h0M803.6 177.2h0M803.6 194.7h0M803.6 197.2h0M803.6 212.3h0M806.1 179.7h0M806.1 187.2h0M808.6 177.2h0M808.6 179.7h0M808.6 182.2h0"/><path stroke="#44bf70" d="M770.9 204.8h0M775.9 202.3h0M781.0 199.7h0M783.5 192.2h0M783.5 202.3h0M786.0 192.2h0M788.5 199.7h0M788.5 202.3h0M791.0 184.7h0M793.5 179.7h0M793.5 194.7h0M796.0 172.1h0M796.0 174.6h0M796.0 179.7h0M796.0 199.7h0M798.6 172.1h0M798.6 182.2h0M798.6 187.2h0M798.6 189.7h0M798.6 192.2h0M798.6 214.8h0M801.1 174.6h0M801.1 194.7h0M803.6 182.2h0M803.6 184.7h0M803.6 187.2h0M806.1 189.7h0"/></g>
<g clip-path="url(#p6c1d9eaf5a)" fill="none" stroke-width="5.7" class="pt" stroke-opacity="0.92"><path stroke="#375a8c" d="M751.4 219.0h0M752.7 220.2h0M760.4 213.8h0M761.7 217.7h0M764.3 210.0h0M765.5 203.6h0M768.1 207.4h0M772.0 201.0h0M774.5 195.9h0M775.8 192.0h0M773.2 185.6h0M770.7 181.8h0M777.1 172.8h0M780.9 171.5h0M784.8 170.3h0M782.2 179.2h0M787.4 183.1h0M789.9 186.9h0M793.8 188.2h0M796.3 193.3h0M798.9 198.4h0M802.8 206.1h0M807.9 208.7h0M813.0 203.6h0M814.3 195.9h0M818.2 189.5h0M820.7 183.1h0M824.6 179.2h0M829.7 180.5h0M816.9 207.4h0M814.3 211.3h0M823.3 208.7h0M831.0 213.8h0M772.0 221.5h0M773.2 229.2h0M777.1 233.0h0M791.2 238.2h0M792.5 234.3h0M796.3 231.8h0M798.9 229.2h0M802.8 227.9h0"/><path stroke="#1f958b" d="M779.7 185.6h0M780.9 193.3h0M777.1 198.4h0M779.7 203.6h0M783.5 207.4h0M787.4 210.0h0M789.9 206.1h0M792.5 201.0h0M795.1 207.4h0M791.2 211.3h0M796.3 211.3h0M800.2 210.0h0M802.8 219.0h0M805.3 201.0h0M807.9 193.3h0M809.2 185.6h0M811.7 181.8h0M815.6 177.9h0M805.3 175.4h0M802.8 179.2h0M787.4 175.4h0M789.9 179.2h0M763.0 204.9h0M763.0 207.4h0M772.0 219.0h0M775.8 226.6h0"/><path stroke="#44bf70" d="M800.2 170.3h0M802.8 171.5h0M805.3 183.1h0M800.2 190.8h0M797.6 195.9h0M795.1 197.2h0M784.8 198.4h0M786.1 203.6h0M774.5 204.9h0M772.0 207.4h0M800.2 216.4h0M802.8 217.7h0M793.8 176.7h0"/><path stroke="#1f958b" d="M778.4 177.9h0M783.5 184.3h0M784.8 189.5h0M788.6 194.6h0"/><path stroke="#375a8c" d="M778.4 190.8h0"/><path stroke="#44bf70" d="M784.8 194.6h0M792.5 183.1h0"/><path stroke="#1f958b" d="M791.2 192.0h0M783.5 175.4h0"/><path stroke="#44bf70" d="M793.8 185.6h0M802.8 189.5h0"/><path stroke="#fde725" d="M795.1 177.9h0M798.9 179.2h0M801.5 183.1h0M797.6 184.3h0M801.5 185.6h0M796.3 181.8h0M798.9 175.4h0"/><path stroke="#9bd93c" d="M802.8 179.2h0"/><path stroke="#472d7b" d="M765.2 170.2h0"/></g>
<g clip-path="url(#p6c1d9eaf5a)" fill="none" stroke-width="5.7" class="pt" stroke-opacity="0.8"><path stroke="#440154" d="M736.0 221.5h0M745.0 190.8h0M750.1 178.5h0M750.1 206.1h0M752.7 206.1h0M761.7 192.8h0M763.7 183.6h0M769.4 177.9h0M768.1 198.4h0M770.7 229.2h0M768.1 236.9h0M764.3 236.9h0M765.5 245.9h0M772.0 248.4h0M772.0 257.4h0M779.7 256.1h0M786.1 253.6h0M786.1 248.4h0M789.9 248.4h0M791.2 242.0h0M779.7 226.1h0M784.8 219.0h0M787.4 229.2h0M792.5 222.8h0M793.8 215.1h0M800.2 213.8h0M802.8 212.5h0M805.3 222.8h0M810.5 224.1h0M815.6 242.0h0M807.4 248.4h0M802.8 262.5h0M798.1 267.1h0M820.7 221.5h0M823.3 217.7h0M829.7 213.8h0M838.7 212.5h0M833.6 206.1h0M828.4 204.9h0M822.0 203.6h0M825.9 197.2h0M833.6 195.9h0M842.6 198.4h0M827.2 186.9h0M815.6 189.5h0M810.5 198.4h0M811.7 173.3h0M786.1 198.4h0M788.6 190.8h0M774.5 172.8h0"/></g>
<g id="matplotlib.axis_23">
    <g id="xtick_30">
     <g id="line2d_49">
      <g>
       <use href="#m1504cfccaf" x="784.66" y="272.78" style="stroke: #000000; stroke-width: 0.8"/>
      </g>
     </g>
     <g id="text_49">
      <text style="font-size: 8px;  text-anchor: middle" x="784.66" y="285.86">1.0</text>
     </g>
    </g>
    <g id="xtick_31">
     <g id="line2d_50">
      <g>
       <use href="#m1504cfccaf" x="839.96" y="272.78" style="stroke: #000000; stroke-width: 0.8"/>
      </g>
     </g>
     <g id="text_50">
      <text style="font-size: 8px;  text-anchor: middle" x="839.96" y="285.86">1.5</text>
     </g>
    </g>
   </g>
   <g id="matplotlib.axis_24"/>
   <g id="line2d_51">
    <g clip-path="url(#p6c1d9eaf5a)">
     <use href="#m5269b93cc7" x="765.20" y="170.21" style="stroke: #000000; stroke-width: 1.3"/>
    </g>
   </g>
   <g id="patch_58">
    <path d="M 731.57 272.78 
L 731.57 165.33 
" style="fill: none; stroke: #000000; stroke-width: 0.8; stroke-linejoin: miter; stroke-linecap: square"/>
   </g>
   <g id="patch_59">
    <path d="M 848.13 272.78 
L 848.13 165.33 
" style="fill: none; stroke: #000000; stroke-width: 0.8; stroke-linejoin: miter; stroke-linecap: square"/>
   </g>
   <g id="patch_60">
    <path d="M 731.57 272.78 
L 848.13 272.78 
" style="fill: none; stroke: #000000; stroke-width: 0.8; stroke-linejoin: miter; stroke-linecap: square"/>
   </g>
   <g id="patch_61">
    <path d="M 731.57 165.33 
L 848.13 165.33 
" style="fill: none; stroke: #000000; stroke-width: 0.8; stroke-linejoin: miter; stroke-linecap: square"/>
   </g>
   <g id="text_51">
    <text style="font-size: 9px;  text-anchor: middle" x="789.85" y="159.33">obj_pw = 0.824</text>
   </g>
  </g>
  <g id="axes_13">
   <g id="patch_62">
    <path d="M 28.27 411.45 
L 145.46 411.45 
L 145.46 304.15 
L 28.27 304.15 
z
" style="fill: #ffffff"/>
   </g>
   <g clip-path="url(#p624ce5473e)" fill="none" stroke-width="5.4" class="pt" stroke-opacity="0.8"><path stroke="#440154" d="M86.9 403.5h0"/><path stroke="#440154" d="M86.9 397.0h0"/><path stroke="#440154" d="M86.9 397.6h0"/><path stroke="#440154" d="M86.9 406.7h0"/><path stroke="#453581" d="M86.9 395.2h0"/><path stroke="#453581" d="M86.9 394.8h0"/><path stroke="#453581" d="M86.9 392.0h0"/><path stroke="#453581" d="M86.9 391.1h0"/><path stroke="#453581" d="M86.9 387.1h0"/><path stroke="#453581" d="M86.9 387.2h0"/><path stroke="#39558c" d="M86.9 383.7h0"/><path stroke="#39558c" d="M86.9 384.5h0"/><path stroke="#39558c" d="M86.9 384.6h0"/><path stroke="#39558c" d="M86.9 384.7h0"/><path stroke="#2f6b8e" d="M86.9 378.7h0"/><path stroke="#2f6b8e" d="M86.9 378.4h0"/><path stroke="#2f6b8e" d="M86.9 378.1h0"/><path stroke="#2f6b8e" d="M86.9 376.0h0"/><path stroke="#2f6b8e" d="M86.9 377.0h0"/><path stroke="#287c8e" d="M86.9 372.7h0"/><path stroke="#287c8e" d="M86.9 370.8h0"/><path stroke="#287c8e" d="M86.9 374.7h0"/><path stroke="#287c8e" d="M86.9 374.9h0"/><path stroke="#287c8e" d="M86.9 372.7h0"/><path stroke="#287c8e" d="M86.9 375.5h0"/><path stroke="#238a8d" d="M86.9 370.4h0"/><path stroke="#238a8d" d="M86.9 368.0h0"/><path stroke="#238a8d" d="M86.9 368.3h0"/><path stroke="#238a8d" d="M86.9 366.1h0"/><path stroke="#238a8d" d="M86.9 367.5h0"/><path stroke="#238a8d" d="M86.9 368.1h0"/><path stroke="#238a8d" d="M86.9 368.1h0"/><path stroke="#1fa188" d="M86.9 364.2h0"/><path stroke="#1fa188" d="M86.9 365.4h0"/><path stroke="#1fa188" d="M86.9 364.5h0"/><path stroke="#1fa188" d="M86.9 362.0h0"/><path stroke="#1fa188" d="M86.9 364.5h0"/><path stroke="#1fa188" d="M86.9 363.6h0"/><path stroke="#1fa188" d="M86.9 365.4h0"/><path stroke="#1fa188" d="M86.9 361.4h0"/><path stroke="#1fa188" d="M86.9 364.7h0"/><path stroke="#25ab82" d="M86.9 359.0h0"/><path stroke="#25ab82" d="M86.9 356.0h0"/><path stroke="#25ab82" d="M86.9 357.8h0"/><path stroke="#25ab82" d="M86.9 356.1h0"/><path stroke="#25ab82" d="M86.9 357.2h0"/><path stroke="#25ab82" d="M86.9 356.7h0"/><path stroke="#25ab82" d="M86.9 359.9h0"/><path stroke="#25ab82" d="M86.9 357.6h0"/><path stroke="#25ab82" d="M86.9 357.8h0"/><path stroke="#25ab82" d="M86.9 356.0h0"/><path stroke="#25ab82" d="M86.9 313.6h0"/><path stroke="#25ab82" d="M86.9 310.8h0"/><path stroke="#25ab82" d="M86.9 310.9h0"/><path stroke="#25ab82" d="M86.9 310.0h0"/><path stroke="#25ab82" d="M86.9 310.1h0"/><path stroke="#25ab82" d="M86.9 312.5h0"/><path stroke="#25ab82" d="M86.9 310.5h0"/><path stroke="#25ab82" d="M86.9 309.8h0"/><path stroke="#25ab82" d="M86.9 309.7h0"/><path stroke="#25ab82" d="M86.9 309.0h0"/><path stroke="#3aba76" d="M86.9 353.4h0"/><path stroke="#3aba76" d="M86.9 352.2h0"/><path stroke="#3aba76" d="M86.9 354.9h0"/><path stroke="#3aba76" d="M86.9 353.3h0"/><path stroke="#3aba76" d="M86.9 353.6h0"/><path stroke="#3aba76" d="M86.9 354.4h0"/><path stroke="#3aba76" d="M86.9 351.1h0"/><path stroke="#3aba76" d="M86.9 353.3h0"/><path stroke="#3aba76" d="M86.9 350.3h0"/><path stroke="#3aba76" d="M86.9 352.3h0"/><path stroke="#3aba76" d="M86.9 352.2h0"/><path stroke="#3aba76" d="M86.9 352.0h0"/><path stroke="#73d056" d="M86.9 346.7h0"/><path stroke="#73d056" d="M86.9 349.3h0"/><path stroke="#73d056" d="M86.9 347.9h0"/><path stroke="#73d056" d="M86.9 348.9h0"/><path stroke="#73d056" d="M86.9 348.0h0"/><path stroke="#73d056" d="M86.9 349.6h0"/><path stroke="#73d056" d="M86.9 345.3h0"/><path stroke="#73d056" d="M86.9 349.0h0"/><path stroke="#73d056" d="M86.9 346.7h0"/><path stroke="#73d056" d="M86.9 348.6h0"/><path stroke="#73d056" d="M86.9 345.7h0"/><path stroke="#73d056" d="M86.9 346.8h0"/><path stroke="#73d056" d="M86.9 349.4h0"/><path stroke="#73d056" d="M86.9 345.9h0"/><path stroke="#73d056" d="M86.9 345.4h0"/><path stroke="#73d056" d="M86.9 345.6h0"/><path stroke="#90d743" d="M86.9 342.1h0"/><path stroke="#90d743" d="M86.9 344.2h0"/><path stroke="#90d743" d="M86.9 343.9h0"/><path stroke="#90d743" d="M86.9 340.3h0"/><path stroke="#90d743" d="M86.9 342.2h0"/><path stroke="#90d743" d="M86.9 344.0h0"/><path stroke="#90d743" d="M86.9 340.5h0"/><path stroke="#90d743" d="M86.9 341.7h0"/><path stroke="#90d743" d="M86.9 342.1h0"/><path stroke="#90d743" d="M86.9 343.0h0"/><path stroke="#90d743" d="M86.9 342.9h0"/><path stroke="#90d743" d="M86.9 343.7h0"/><path stroke="#90d743" d="M86.9 344.7h0"/><path stroke="#90d743" d="M86.9 340.6h0"/><path stroke="#90d743" d="M86.9 342.6h0"/><path stroke="#90d743" d="M86.9 342.2h0"/><path stroke="#90d743" d="M86.9 343.3h0"/><path stroke="#90d743" d="M86.9 341.2h0"/><path stroke="#9dd93b" d="M86.9 339.6h0"/><path stroke="#9dd93b" d="M86.9 337.9h0"/><path stroke="#9dd93b" d="M86.9 339.6h0"/><path stroke="#9dd93b" d="M86.9 339.2h0"/><path stroke="#9dd93b" d="M86.9 335.0h0"/><path stroke="#9dd93b" d="M86.9 336.5h0"/><path stroke="#9dd93b" d="M86.9 337.6h0"/><path stroke="#9dd93b" d="M86.9 337.2h0"/><path stroke="#9dd93b" d="M86.9 335.5h0"/><path stroke="#9dd93b" d="M86.9 338.1h0"/><path stroke="#9dd93b" d="M86.9 336.8h0"/><path stroke="#9dd93b" d="M86.9 336.4h0"/><path stroke="#9dd93b" d="M86.9 338.0h0"/><path stroke="#9dd93b" d="M86.9 337.2h0"/><path stroke="#9dd93b" d="M86.9 336.0h0"/><path stroke="#9dd93b" d="M86.9 335.3h0"/><path stroke="#9dd93b" d="M86.9 339.0h0"/><path stroke="#9dd93b" d="M86.9 335.2h0"/><path stroke="#9dd93b" d="M86.9 339.7h0"/><path stroke="#ece51b" d="M86.9 330.9h0"/><path stroke="#ece51b" d="M86.9 330.6h0"/><path stroke="#ece51b" d="M86.9 333.9h0"/><path stroke="#ece51b" d="M86.9 332.6h0"/><path stroke="#ece51b" d="M86.9 330.6h0"/><path stroke="#ece51b" d="M86.9 334.5h0"/><path stroke="#ece51b" d="M86.9 331.5h0"/><path stroke="#ece51b" d="M86.9 330.7h0"/><path stroke="#ece51b" d="M86.9 332.1h0"/><path stroke="#ece51b" d="M86.9 331.0h0"/><path stroke="#ece51b" d="M86.9 333.5h0"/><path stroke="#ece51b" d="M86.9 333.6h0"/><path stroke="#ece51b" d="M86.9 332.8h0"/><path stroke="#ece51b" d="M86.9 333.7h0"/><path stroke="#ece51b" d="M86.9 332.9h0"/><path stroke="#ece51b" d="M86.9 329.9h0"/><path stroke="#ece51b" d="M86.9 331.8h0"/><path stroke="#ece51b" d="M86.9 332.9h0"/><path stroke="#ece51b" d="M86.9 333.3h0"/><path stroke="#ece51b" d="M86.9 329.9h0"/><path stroke="#ece51b" d="M86.9 332.4h0"/><path stroke="#ece51b" d="M86.9 329.8h0"/><path stroke="#ece51b" d="M86.9 332.1h0"/><path stroke="#ece51b" d="M86.9 332.0h0"/><path stroke="#ece51b" d="M86.9 330.2h0"/><path stroke="#ece51b" d="M86.9 331.0h0"/><path stroke="#fde725" d="M86.9 326.6h0"/><path stroke="#fde725" d="M86.9 327.4h0"/><path stroke="#fde725" d="M86.9 325.1h0"/><path stroke="#fde725" d="M86.9 327.5h0"/><path stroke="#fde725" d="M86.9 324.9h0"/><path stroke="#fde725" d="M86.9 329.1h0"/><path stroke="#fde725" d="M86.9 327.4h0"/><path stroke="#fde725" d="M86.9 326.9h0"/><path stroke="#fde725" d="M86.9 324.8h0"/><path stroke="#fde725" d="M86.9 328.2h0"/><path stroke="#fde725" d="M86.9 325.5h0"/><path stroke="#fde725" d="M86.9 326.1h0"/><path stroke="#fde725" d="M86.9 325.9h0"/><path stroke="#fde725" d="M86.9 326.4h0"/><path stroke="#fde725" d="M86.9 324.7h0"/><path stroke="#fde725" d="M86.9 327.8h0"/><path stroke="#fde725" d="M86.9 327.5h0"/><path stroke="#fde725" d="M86.9 328.5h0"/><path stroke="#fde725" d="M86.9 329.2h0"/><path stroke="#fde725" d="M86.9 328.4h0"/><path stroke="#fde725" d="M86.9 325.0h0"/><path stroke="#fde725" d="M86.9 325.3h0"/><path stroke="#fde725" d="M86.9 328.9h0"/><path stroke="#fde725" d="M86.9 326.5h0"/><path stroke="#fde725" d="M86.9 327.1h0"/><path stroke="#fde725" d="M86.9 326.5h0"/><path stroke="#fde725" d="M86.9 326.2h0"/><path stroke="#fde725" d="M86.9 328.0h0"/><path stroke="#fde725" d="M86.9 319.6h0"/><path stroke="#fde725" d="M86.9 322.0h0"/><path stroke="#fde725" d="M86.9 321.2h0"/><path stroke="#fde725" d="M86.9 321.2h0"/><path stroke="#fde725" d="M86.9 323.4h0"/><path stroke="#fde725" d="M86.9 324.0h0"/><path stroke="#fde725" d="M86.9 322.3h0"/><path stroke="#fde725" d="M86.9 320.6h0"/><path stroke="#fde725" d="M86.9 320.3h0"/><path stroke="#fde725" d="M86.9 320.7h0"/><path stroke="#fde725" d="M86.9 323.8h0"/><path stroke="#fde725" d="M86.9 319.8h0"/><path stroke="#fde725" d="M86.9 320.4h0"/><path stroke="#fde725" d="M86.9 320.0h0"/><path stroke="#fde725" d="M86.9 321.8h0"/><path stroke="#fde725" d="M86.9 319.8h0"/><path stroke="#fde725" d="M86.9 324.1h0"/><path stroke="#fde725" d="M86.9 324.2h0"/><path stroke="#fde725" d="M86.9 324.2h0"/><path stroke="#fde725" d="M86.9 323.1h0"/><path stroke="#fde725" d="M86.9 323.1h0"/><path stroke="#fde725" d="M86.9 323.4h0"/><path stroke="#fde725" d="M86.9 321.5h0"/><path stroke="#fde725" d="M86.9 324.2h0"/><path stroke="#fde725" d="M86.9 321.4h0"/><path stroke="#fde725" d="M86.9 323.5h0"/><path stroke="#fde725" d="M86.9 321.0h0"/><path stroke="#fde725" d="M86.9 324.2h0"/><path stroke="#fde725" d="M86.9 317.7h0"/><path stroke="#fde725" d="M86.9 314.6h0"/><path stroke="#fde725" d="M86.9 316.5h0"/><path stroke="#fde725" d="M86.9 315.2h0"/><path stroke="#fde725" d="M86.9 316.0h0"/><path stroke="#fde725" d="M86.9 316.2h0"/><path stroke="#fde725" d="M86.9 318.3h0"/><path stroke="#fde725" d="M86.9 316.4h0"/><path stroke="#fde725" d="M86.9 319.0h0"/><path stroke="#fde725" d="M86.9 315.2h0"/><path stroke="#fde725" d="M86.9 314.5h0"/><path stroke="#fde725" d="M86.9 315.0h0"/><path stroke="#fde725" d="M86.9 319.0h0"/><path stroke="#fde725" d="M86.9 317.5h0"/><path stroke="#fde725" d="M86.9 317.6h0"/><path stroke="#fde725" d="M86.9 318.6h0"/><path stroke="#fde725" d="M86.9 316.1h0"/><path stroke="#fde725" d="M86.9 315.3h0"/><path stroke="#fde725" d="M86.9 317.7h0"/><path stroke="#fde725" d="M86.9 314.9h0"/><path stroke="#fde725" d="M86.9 315.3h0"/><path stroke="#fde725" d="M86.9 318.6h0"/><path stroke="#fde725" d="M86.9 315.4h0"/><path stroke="#fde725" d="M86.9 314.9h0"/><path stroke="#fde725" d="M86.9 318.2h0"/><path stroke="#fde725" d="M86.9 316.4h0"/><path stroke="#fde725" d="M86.9 316.1h0"/><path stroke="#fde725" d="M86.9 316.2h0"/></g>
<g id="matplotlib.axis_25">
    <g id="xtick_32">
     <g id="line2d_52">
      <g>
       <use href="#m1504cfccaf" x="33.60" y="411.45" style="stroke: #000000; stroke-width: 0.8"/>
      </g>
     </g>
     <g id="text_52">
      <text style="font-size: 8px;  text-anchor: middle" x="33.60" y="424.52">0.19</text>
     </g>
    </g>
    <g id="xtick_33">
     <g id="line2d_53">
      <g>
       <use href="#m1504cfccaf" x="86.87" y="411.45" style="stroke: #000000; stroke-width: 0.8"/>
      </g>
     </g>
     <g id="text_53">
      <text style="font-size: 8px;  text-anchor: middle" x="86.87" y="424.52">0.20</text>
     </g>
    </g>
    <g id="xtick_34">
     <g id="line2d_54">
      <g>
       <use href="#m1504cfccaf" x="140.13" y="411.45" style="stroke: #000000; stroke-width: 0.8"/>
      </g>
     </g>
     <g id="text_54">
      <text style="font-size: 8px;  text-anchor: middle" x="140.13" y="424.52">0.21</text>
     </g>
    </g>
   </g>
   <g id="matplotlib.axis_26">
    <g id="ytick_9">
     <g id="line2d_55">
      <g>
       <use href="#m5d545ce8f8" x="28.27" y="401.37" style="stroke: #000000; stroke-width: 0.8"/>
      </g>
     </g>
     <g id="text_55">
      <text style="font-size: 8px;  text-anchor: end" x="21.27" y="404.41">0.5</text>
     </g>
    </g>
    <g id="ytick_10">
     <g id="line2d_56">
      <g>
       <use href="#m5d545ce8f8" x="28.27" y="373.68" style="stroke: #000000; stroke-width: 0.8"/>
      </g>
     </g>
     <g id="text_56">
      <text style="font-size: 8px;  text-anchor: end" x="21.27" y="376.72">0.6</text>
     </g>
    </g>
    <g id="ytick_11">
     <g id="line2d_57">
      <g>
       <use href="#m5d545ce8f8" x="28.27" y="345.99" style="stroke: #000000; stroke-width: 0.8"/>
      </g>
     </g>
     <g id="text_57">
      <text style="font-size: 8px;  text-anchor: end" x="21.27" y="349.03">0.7</text>
     </g>
    </g>
    <g id="ytick_12">
     <g id="line2d_58">
      <g>
       <use href="#m5d545ce8f8" x="28.27" y="318.30" style="stroke: #000000; stroke-width: 0.8"/>
      </g>
     </g>
     <g id="text_58">
      <text style="font-size: 8px;  text-anchor: end" x="21.27" y="321.34">0.8</text>
     </g>
    </g>
   </g>
   <g id="line2d_59">
    <g clip-path="url(#p624ce5473e)">
     <use href="#m5269b93cc7" x="86.87" y="309.03" style="stroke: #000000; stroke-width: 1.3"/>
    </g>
   </g>
   <g id="patch_63">
    <path d="M 28.27 411.45 
L 28.27 304.15 
" style="fill: none; stroke: #000000; stroke-width: 0.8; stroke-linejoin: miter; stroke-linecap: square"/>
   </g>
   <g id="patch_64">
    <path d="M 145.46 411.45 
L 145.46 304.15 
" style="fill: none; stroke: #000000; stroke-width: 0.8; stroke-linejoin: miter; stroke-linecap: square"/>
   </g>
   <g id="patch_65">
    <path d="M 28.27 411.45 
L 145.46 411.45 
" style="fill: none; stroke: #000000; stroke-width: 0.8; stroke-linejoin: miter; stroke-linecap: square"/>
   </g>
   <g id="patch_66">
    <path d="M 28.27 304.15 
L 145.46 304.15 
" style="fill: none; stroke: #000000; stroke-width: 0.8; stroke-linejoin: miter; stroke-linecap: square"/>
   </g>
   <g id="text_59">
    <text style="font-size: 9px;  text-anchor: middle" x="86.87" y="298.15">iou_t = 0.2</text>
   </g>
  </g>
  <g id="axes_14">
   <g id="patch_67">
    <path d="M 170.12 411.29 
L 286.69 411.29 
L 286.69 304.31 
L 170.12 304.31 
z
" style="fill: #ffffff"/>
   </g>
   <g clip-path="url(#p57f93b3ff8)" fill="none" stroke-width="5.7" class="pt" stroke-opacity="0.92"><path stroke="#375a8c" d="M197.3 330.6h0M197.3 350.7h0M199.8 340.6h0M199.8 343.1h0M199.8 353.2h0M204.9 328.1h0M204.9 330.6h0M209.9 328.1h0M212.4 328.1h0M212.4 368.2h0M214.9 318.0h0M214.9 320.6h0M214.9 328.1h0M214.9 333.1h0M217.4 320.6h0M217.4 325.6h0M217.4 328.1h0M217.4 335.6h0M222.4 335.6h0M222.4 343.1h0M225.0 338.1h0M225.0 340.6h0M225.0 343.1h0M227.5 338.1h0M227.5 340.6h0M227.5 343.1h0M227.5 348.2h0M227.5 350.7h0M227.5 353.2h0M230.0 333.1h0M230.0 335.6h0M230.0 345.7h0"/><path stroke="#1f958b" d="M197.3 333.1h0M199.8 320.6h0M199.8 323.1h0M199.8 328.1h0M199.8 335.6h0M199.8 338.1h0M199.8 348.2h0M199.8 350.7h0M202.3 330.6h0M202.3 335.6h0M202.3 340.6h0M202.3 345.7h0M202.3 348.2h0M202.3 353.2h0M202.3 355.7h0M202.3 358.2h0M204.9 333.1h0M204.9 340.6h0M204.9 345.7h0M204.9 348.2h0M204.9 358.2h0M204.9 360.7h0M204.9 363.2h0M204.9 365.7h0M207.4 343.1h0M207.4 358.2h0M209.9 313.0h0M209.9 315.5h0M209.9 330.6h0M209.9 355.7h0M209.9 363.2h0M209.9 368.2h0M212.4 330.6h0M212.4 333.1h0M212.4 338.1h0M212.4 340.6h0M212.4 350.7h0M212.4 355.7h0M212.4 363.2h0M212.4 365.7h0M214.9 315.5h0M214.9 335.6h0M214.9 340.6h0M217.4 338.1h0M217.4 350.7h0M217.4 353.2h0M219.9 325.6h0M219.9 343.1h0M219.9 350.7h0M219.9 353.2h0M225.0 350.7h0M225.0 353.2h0"/><path stroke="#44bf70" d="M199.8 315.5h0M202.3 318.0h0M202.3 320.6h0M202.3 323.1h0M202.3 325.6h0M202.3 328.1h0M204.9 315.5h0M204.9 335.6h0M204.9 338.1h0M204.9 353.2h0M207.4 315.5h0M207.4 318.0h0M207.4 325.6h0M207.4 335.6h0M207.4 340.6h0M207.4 350.7h0M207.4 353.2h0M209.9 323.1h0M209.9 338.1h0M209.9 345.7h0M209.9 348.2h0M209.9 353.2h0M212.4 318.0h0M212.4 323.1h0M212.4 348.2h0M214.9 343.1h0M217.4 343.1h0M219.9 345.7h0M222.4 345.7h0"/></g>
<g clip-path="url(#p57f93b3ff8)" fill="none" stroke-width="5.7" class="pt" stroke-opacity="0.92"><path stroke="#375a8c" d="M180.3 316.3h0M182.9 317.5h0M186.8 321.4h0M193.2 330.4h0M197.0 339.3h0M198.3 344.5h0M195.7 352.2h0M198.3 354.7h0M207.3 329.1h0M211.1 325.2h0M216.3 322.7h0M217.6 331.6h0M220.1 336.8h0M222.7 340.6h0M226.5 345.7h0M229.1 341.9h0M230.4 338.1h0M231.7 334.2h0M227.8 329.1h0M234.3 331.6h0M242.0 330.4h0M244.5 332.9h0M239.4 344.5h0M230.4 349.6h0M229.1 354.7h0M226.5 365.0h0M231.7 367.5h0M233.0 371.4h0M212.4 371.4h0M216.3 367.5h0M207.3 402.1h0M207.3 405.2h0M252.2 316.3h0M253.5 317.5h0M225.3 313.7h0"/><path stroke="#1f958b" d="M194.5 325.2h0M197.0 321.4h0M198.3 326.5h0M195.7 335.5h0M200.9 332.9h0M202.2 338.1h0M203.4 343.2h0M199.6 345.7h0M203.4 350.9h0M204.7 356.0h0M207.3 362.4h0M206.0 367.5h0M209.9 366.2h0M211.1 357.3h0M213.7 352.2h0M216.3 347.0h0M218.8 340.6h0M215.0 338.1h0M211.1 335.5h0M208.6 332.9h0M209.9 341.9h0M207.3 347.0h0M202.2 361.1h0M212.4 313.7h0M217.6 311.1h0M220.1 315.0h0M218.8 322.7h0M221.4 327.8h0M222.7 350.9h0M218.8 357.3h0"/><path stroke="#44bf70" d="M204.7 311.1h0M206.0 313.7h0M209.9 318.8h0M211.1 321.4h0M207.3 338.1h0M212.4 344.5h0M216.3 345.7h0M224.0 348.3h0M209.9 350.9h0M206.0 354.7h0"/><path stroke="#fde725" d="M204.7 317.5h0M206.0 321.4h0M204.7 325.2h0M206.0 324.0h0"/></g>
<g clip-path="url(#p57f93b3ff8)" fill="none" stroke-width="5.7" class="pt" stroke-opacity="0.8"><path stroke="#440154" d="M175.2 350.9h0M185.0 324.0h0M186.8 325.2h0M189.3 318.8h0M193.2 313.7h0M186.8 335.5h0M188.0 343.2h0M189.3 345.7h0M190.6 349.6h0M191.9 353.4h0M188.0 359.8h0M186.8 362.4h0M191.9 370.9h0M198.3 376.0h0M204.7 377.0h0M206.0 388.0h0M197.0 397.5h0M188.0 395.7h0M186.8 387.3h0M202.2 368.8h0M209.9 361.1h0M211.1 381.6h0M213.7 388.0h0M217.6 392.4h0M217.6 376.5h0M226.5 359.8h0M227.8 358.6h0M233.0 358.6h0M238.1 366.2h0M242.0 375.2h0M235.5 381.1h0M238.1 381.1h0M231.7 384.2h0M240.7 388.0h0M247.1 370.1h0M249.7 359.8h0M250.9 361.1h0M258.6 352.2h0M248.4 338.1h0M249.7 335.5h0M246.6 317.5h0M253.5 318.8h0M273.3 340.6h0M272.8 311.1h0M230.4 324.0h0M226.5 318.8h0M220.1 317.5h0M190.6 332.9h0M281.4 309.2h0"/></g>
<g id="matplotlib.axis_27">
    <g id="xtick_35">
     <g id="line2d_60">
      <g>
       <use href="#m1504cfccaf" x="212.54" y="411.29" style="stroke: #000000; stroke-width: 0.8"/>
      </g>
     </g>
     <g id="text_60">
      <text style="font-size: 8px;  text-anchor: middle" x="212.54" y="424.37">4</text>
     </g>
    </g>
    <g id="xtick_36">
     <g id="line2d_61">
      <g>
       <use href="#m1504cfccaf" x="258.57" y="411.29" style="stroke: #000000; stroke-width: 0.8"/>
      </g>
     </g>
     <g id="text_61">
      <text style="font-size: 8px;  text-anchor: middle" x="258.57" y="424.37">6</text>
     </g>
    </g>
   </g>
   <g id="matplotlib.axis_28"/>
   <g id="line2d_62">
    <g clip-path="url(#p57f93b3ff8)">
     <use href="#m5269b93cc7" x="281.35" y="309.17" style="stroke: #000000; stroke-width: 1.3"/>
    </g>
   </g>
   <g id="patch_68">
    <path d="M 170.12 411.29 
L 170.12 304.31 
" style="fill: none; stroke: #000000; stroke-width: 0.8; stroke-linejoin: miter; stroke-linecap: square"/>
   </g>
   <g id="patch_69">
    <path d="M 286.69 411.29 
L 286.69 304.31 
" style="fill: none; stroke: #000000; stroke-width: 0.8; stroke-linejoin: miter; stroke-linecap: square"/>
   </g>
   <g id="patch_70">
    <path d="M 170.12 411.29 
L 286.69 411.29 
" style="fill: none; stroke: #000000; stroke-width: 0.8; stroke-linejoin: miter; stroke-linecap: square"/>
   </g>
   <g id="patch_71">
    <path d="M 170.12 304.31 
L 286.69 304.31 
" style="fill: none; stroke: #000000; stroke-width: 0.8; stroke-linejoin: miter; stroke-linecap: square"/>
   </g>
   <g id="text_62">
    <text style="font-size: 9px;  text-anchor: middle" x="228.41" y="298.31">anchor_t = 6.99</text>
   </g>
  </g>
  <g id="axes_15">
   <g id="patch_72">
    <path d="M 311.82 411.13 
L 428.07 411.13 
L 428.07 304.31 
L 311.82 304.31 
z
" style="fill: #ffffff"/>
   </g>
   <g clip-path="url(#p91e0c97ec1)" fill="none" stroke-width="5.4" class="pt" stroke-opacity="0.8"><path stroke="#440154" d="M369.9 403.2h0"/><path stroke="#440154" d="M369.9 396.7h0"/><path stroke="#440154" d="M369.9 397.3h0"/><path stroke="#440154" d="M369.9 406.4h0"/><path stroke="#453581" d="M369.9 394.9h0"/><path stroke="#453581" d="M369.9 394.6h0"/><path stroke="#453581" d="M369.9 391.7h0"/><path stroke="#453581" d="M369.9 390.9h0"/><path stroke="#453581" d="M369.9 386.9h0"/><path stroke="#453581" d="M369.9 387.0h0"/><path stroke="#39558c" d="M369.9 383.5h0"/><path stroke="#39558c" d="M369.9 384.3h0"/><path stroke="#39558c" d="M369.9 384.4h0"/><path stroke="#39558c" d="M369.9 384.6h0"/><path stroke="#2f6b8e" d="M369.9 378.5h0"/><path stroke="#2f6b8e" d="M369.9 378.2h0"/><path stroke="#2f6b8e" d="M369.9 378.0h0"/><path stroke="#2f6b8e" d="M369.9 375.8h0"/><path stroke="#2f6b8e" d="M369.9 376.8h0"/><path stroke="#287c8e" d="M369.9 372.5h0"/><path stroke="#287c8e" d="M369.9 370.7h0"/><path stroke="#287c8e" d="M369.9 374.5h0"/><path stroke="#287c8e" d="M369.9 374.8h0"/><path stroke="#287c8e" d="M369.9 372.6h0"/><path stroke="#287c8e" d="M369.9 375.4h0"/><path stroke="#238a8d" d="M369.9 370.3h0"/><path stroke="#238a8d" d="M369.9 367.9h0"/><path stroke="#238a8d" d="M369.9 368.2h0"/><path stroke="#238a8d" d="M369.9 365.9h0"/><path stroke="#238a8d" d="M369.9 367.4h0"/><path stroke="#238a8d" d="M369.9 367.9h0"/><path stroke="#238a8d" d="M369.9 368.0h0"/><path stroke="#1fa188" d="M369.9 364.1h0"/><path stroke="#1fa188" d="M369.9 365.3h0"/><path stroke="#1fa188" d="M369.9 364.4h0"/><path stroke="#1fa188" d="M369.9 361.9h0"/><path stroke="#1fa188" d="M369.9 364.4h0"/><path stroke="#1fa188" d="M369.9 363.5h0"/><path stroke="#1fa188" d="M369.9 365.3h0"/><path stroke="#1fa188" d="M369.9 361.3h0"/><path stroke="#1fa188" d="M369.9 364.6h0"/><path stroke="#25ab82" d="M369.9 358.9h0"/><path stroke="#25ab82" d="M369.9 355.9h0"/><path stroke="#25ab82" d="M369.9 357.7h0"/><path stroke="#25ab82" d="M369.9 356.1h0"/><path stroke="#25ab82" d="M369.9 357.1h0"/><path stroke="#25ab82" d="M369.9 356.6h0"/><path stroke="#25ab82" d="M369.9 359.8h0"/><path stroke="#25ab82" d="M369.9 357.6h0"/><path stroke="#25ab82" d="M369.9 357.7h0"/><path stroke="#25ab82" d="M369.9 355.9h0"/><path stroke="#25ab82" d="M369.9 313.7h0"/><path stroke="#25ab82" d="M369.9 310.9h0"/><path stroke="#25ab82" d="M369.9 311.1h0"/><path stroke="#25ab82" d="M369.9 310.1h0"/><path stroke="#25ab82" d="M369.9 310.2h0"/><path stroke="#25ab82" d="M369.9 312.6h0"/><path stroke="#25ab82" d="M369.9 310.6h0"/><path stroke="#25ab82" d="M369.9 309.9h0"/><path stroke="#25ab82" d="M369.9 309.8h0"/><path stroke="#25ab82" d="M369.9 309.2h0"/><path stroke="#3aba76" d="M369.9 353.3h0"/><path stroke="#3aba76" d="M369.9 352.2h0"/><path stroke="#3aba76" d="M369.9 354.8h0"/><path stroke="#3aba76" d="M369.9 353.2h0"/><path stroke="#3aba76" d="M369.9 353.5h0"/><path stroke="#3aba76" d="M369.9 354.4h0"/><path stroke="#3aba76" d="M369.9 351.1h0"/><path stroke="#3aba76" d="M369.9 353.2h0"/><path stroke="#3aba76" d="M369.9 350.3h0"/><path stroke="#3aba76" d="M369.9 352.2h0"/><path stroke="#3aba76" d="M369.9 352.1h0"/><path stroke="#3aba76" d="M369.9 352.0h0"/><path stroke="#73d056" d="M369.9 346.7h0"/><path stroke="#73d056" d="M369.9 349.3h0"/><path stroke="#73d056" d="M369.9 347.8h0"/><path stroke="#73d056" d="M369.9 348.8h0"/><path stroke="#73d056" d="M369.9 348.0h0"/><path stroke="#73d056" d="M369.9 349.5h0"/><path stroke="#73d056" d="M369.9 345.2h0"/><path stroke="#73d056" d="M369.9 348.9h0"/><path stroke="#73d056" d="M369.9 346.7h0"/><path stroke="#73d056" d="M369.9 348.5h0"/><path stroke="#73d056" d="M369.9 345.7h0"/><path stroke="#73d056" d="M369.9 346.7h0"/><path stroke="#73d056" d="M369.9 349.3h0"/><path stroke="#73d056" d="M369.9 345.8h0"/><path stroke="#73d056" d="M369.9 345.3h0"/><path stroke="#73d056" d="M369.9 345.6h0"/><path stroke="#90d743" d="M369.9 342.1h0"/><path stroke="#90d743" d="M369.9 344.2h0"/><path stroke="#90d743" d="M369.9 343.9h0"/><path stroke="#90d743" d="M369.9 340.3h0"/><path stroke="#90d743" d="M369.9 342.2h0"/><path stroke="#90d743" d="M369.9 344.0h0"/><path stroke="#90d743" d="M369.9 340.5h0"/><path stroke="#90d743" d="M369.9 341.7h0"/><path stroke="#90d743" d="M369.9 342.1h0"/><path stroke="#90d743" d="M369.9 343.0h0"/><path stroke="#90d743" d="M369.9 342.9h0"/><path stroke="#90d743" d="M369.9 343.7h0"/><path stroke="#90d743" d="M369.9 344.7h0"/><path stroke="#90d743" d="M369.9 340.6h0"/><path stroke="#90d743" d="M369.9 342.6h0"/><path stroke="#90d743" d="M369.9 342.2h0"/><path stroke="#90d743" d="M369.9 343.3h0"/><path stroke="#90d743" d="M369.9 341.2h0"/><path stroke="#9dd93b" d="M369.9 339.6h0"/><path stroke="#9dd93b" d="M369.9 337.9h0"/><path stroke="#9dd93b" d="M369.9 339.6h0"/><path stroke="#9dd93b" d="M369.9 339.2h0"/><path stroke="#9dd93b" d="M369.9 335.0h0"/><path stroke="#9dd93b" d="M369.9 336.5h0"/><path stroke="#9dd93b" d="M369.9 337.7h0"/><path stroke="#9dd93b" d="M369.9 337.2h0"/><path stroke="#9dd93b" d="M369.9 335.5h0"/><path stroke="#9dd93b" d="M369.9 338.1h0"/><path stroke="#9dd93b" d="M369.9 336.9h0"/><path stroke="#9dd93b" d="M369.9 336.4h0"/><path stroke="#9dd93b" d="M369.9 338.0h0"/><path stroke="#9dd93b" d="M369.9 337.2h0"/><path stroke="#9dd93b" d="M369.9 336.0h0"/><path stroke="#9dd93b" d="M369.9 335.3h0"/><path stroke="#9dd93b" d="M369.9 339.0h0"/><path stroke="#9dd93b" d="M369.9 335.2h0"/><path stroke="#9dd93b" d="M369.9 339.7h0"/><path stroke="#ece51b" d="M369.9 330.9h0"/><path stroke="#ece51b" d="M369.9 330.7h0"/><path stroke="#ece51b" d="M369.9 334.0h0"/><path stroke="#ece51b" d="M369.9 332.6h0"/><path stroke="#ece51b" d="M369.9 330.6h0"/><path stroke="#ece51b" d="M369.9 334.6h0"/><path stroke="#ece51b" d="M369.9 331.6h0"/><path stroke="#ece51b" d="M369.9 330.7h0"/><path stroke="#ece51b" d="M369.9 332.1h0"/><path stroke="#ece51b" d="M369.9 331.1h0"/><path stroke="#ece51b" d="M369.9 333.5h0"/><path stroke="#ece51b" d="M369.9 333.7h0"/><path stroke="#ece51b" d="M369.9 332.9h0"/><path stroke="#ece51b" d="M369.9 333.8h0"/><path stroke="#ece51b" d="M369.9 332.9h0"/><path stroke="#ece51b" d="M369.9 330.0h0"/><path stroke="#ece51b" d="M369.9 331.8h0"/><path stroke="#ece51b" d="M369.9 333.0h0"/><path stroke="#ece51b" d="M369.9 333.3h0"/><path stroke="#ece51b" d="M369.9 330.0h0"/><path stroke="#ece51b" d="M369.9 332.5h0"/><path stroke="#ece51b" d="M369.9 329.8h0"/><path stroke="#ece51b" d="M369.9 332.1h0"/><path stroke="#ece51b" d="M369.9 332.1h0"/><path stroke="#ece51b" d="M369.9 330.2h0"/><path stroke="#ece51b" d="M369.9 331.0h0"/><path stroke="#fde725" d="M369.9 326.7h0"/><path stroke="#fde725" d="M369.9 327.4h0"/><path stroke="#fde725" d="M369.9 325.2h0"/><path stroke="#fde725" d="M369.9 327.5h0"/><path stroke="#fde725" d="M369.9 325.0h0"/><path stroke="#fde725" d="M369.9 329.2h0"/><path stroke="#fde725" d="M369.9 327.4h0"/><path stroke="#fde725" d="M369.9 327.0h0"/><path stroke="#fde725" d="M369.9 324.9h0"/><path stroke="#fde725" d="M369.9 328.3h0"/><path stroke="#fde725" d="M369.9 325.6h0"/><path stroke="#fde725" d="M369.9 326.2h0"/><path stroke="#fde725" d="M369.9 326.0h0"/><path stroke="#fde725" d="M369.9 326.4h0"/><path stroke="#fde725" d="M369.9 324.8h0"/><path stroke="#fde725" d="M369.9 327.9h0"/><path stroke="#fde725" d="M369.9 327.6h0"/><path stroke="#fde725" d="M369.9 328.5h0"/><path stroke="#fde725" d="M369.9 329.3h0"/><path stroke="#fde725" d="M369.9 328.5h0"/><path stroke="#fde725" d="M369.9 325.0h0"/><path stroke="#fde725" d="M369.9 325.4h0"/><path stroke="#fde725" d="M369.9 329.0h0"/><path stroke="#fde725" d="M369.9 326.6h0"/><path stroke="#fde725" d="M369.9 327.2h0"/><path stroke="#fde725" d="M369.9 326.6h0"/><path stroke="#fde725" d="M369.9 326.3h0"/><path stroke="#fde725" d="M369.9 328.0h0"/><path stroke="#fde725" d="M369.9 319.7h0"/><path stroke="#fde725" d="M369.9 322.1h0"/><path stroke="#fde725" d="M369.9 321.3h0"/><path stroke="#fde725" d="M369.9 321.3h0"/><path stroke="#fde725" d="M369.9 323.5h0"/><path stroke="#fde725" d="M369.9 324.1h0"/><path stroke="#fde725" d="M369.9 322.4h0"/><path stroke="#fde725" d="M369.9 320.7h0"/><path stroke="#fde725" d="M369.9 320.4h0"/><path stroke="#fde725" d="M369.9 320.8h0"/><path stroke="#fde725" d="M369.9 323.9h0"/><path stroke="#fde725" d="M369.9 319.9h0"/><path stroke="#fde725" d="M369.9 320.5h0"/><path stroke="#fde725" d="M369.9 320.1h0"/><path stroke="#fde725" d="M369.9 321.8h0"/><path stroke="#fde725" d="M369.9 319.9h0"/><path stroke="#fde725" d="M369.9 324.2h0"/><path stroke="#fde725" d="M369.9 324.3h0"/><path stroke="#fde725" d="M369.9 324.3h0"/><path stroke="#fde725" d="M369.9 323.2h0"/><path stroke="#fde725" d="M369.9 323.2h0"/><path stroke="#fde725" d="M369.9 323.5h0"/><path stroke="#fde725" d="M369.9 321.6h0"/><path stroke="#fde725" d="M369.9 324.2h0"/><path stroke="#fde725" d="M369.9 321.5h0"/><path stroke="#fde725" d="M369.9 323.6h0"/><path stroke="#fde725" d="M369.9 321.1h0"/><path stroke="#fde725" d="M369.9 324.3h0"/><path stroke="#fde725" d="M369.9 317.8h0"/><path stroke="#fde725" d="M369.9 314.7h0"/><path stroke="#fde725" d="M369.9 316.7h0"/><path stroke="#fde725" d="M369.9 315.3h0"/><path stroke="#fde725" d="M369.9 316.1h0"/><path stroke="#fde725" d="M369.9 316.3h0"/><path stroke="#fde725" d="M369.9 318.4h0"/><path stroke="#fde725" d="M369.9 316.5h0"/><path stroke="#fde725" d="M369.9 319.1h0"/><path stroke="#fde725" d="M369.9 315.4h0"/><path stroke="#fde725" d="M369.9 314.6h0"/><path stroke="#fde725" d="M369.9 315.1h0"/><path stroke="#fde725" d="M369.9 319.0h0"/><path stroke="#fde725" d="M369.9 317.6h0"/><path stroke="#fde725" d="M369.9 317.7h0"/><path stroke="#fde725" d="M369.9 318.7h0"/><path stroke="#fde725" d="M369.9 316.2h0"/><path stroke="#fde725" d="M369.9 315.4h0"/><path stroke="#fde725" d="M369.9 317.8h0"/><path stroke="#fde725" d="M369.9 315.1h0"/><path stroke="#fde725" d="M369.9 315.4h0"/><path stroke="#fde725" d="M369.9 318.7h0"/><path stroke="#fde725" d="M369.9 315.5h0"/><path stroke="#fde725" d="M369.9 315.0h0"/><path stroke="#fde725" d="M369.9 318.3h0"/><path stroke="#fde725" d="M369.9 316.5h0"/><path stroke="#fde725" d="M369.9 316.2h0"/><path stroke="#fde725" d="M369.9 316.3h0"/></g>
<g id="matplotlib.axis_29">
    <g id="xtick_37">
     <g id="line2d_63">
      <g>
       <use href="#m1504cfccaf" x="317.10" y="411.13" style="stroke: #000000; stroke-width: 0.8"/>
      </g>
     </g>
     <g id="text_63">
      <text style="font-size: 8px;  text-anchor: middle" x="317.10" y="424.21">−0.05</text>
     </g>
    </g>
    <g id="xtick_38">
     <g id="line2d_64">
      <g>
       <use href="#m1504cfccaf" x="369.94" y="411.13" style="stroke: #000000; stroke-width: 0.8"/>
      </g>
     </g>
     <g id="text_64">
      <text style="font-size: 8px;  text-anchor: middle" x="369.94" y="424.21">0.00</text>
     </g>
    </g>
    <g id="xtick_39">
     <g id="line2d_65">
      <g>
       <use href="#m1504cfccaf" x="422.78" y="411.13" style="stroke: #000000; stroke-width: 0.8"/>
      </g>
     </g>
     <g id="text_65">
      <text style="font-size: 8px;  text-anchor: middle" x="422.78" y="424.21">0.05</text>
     </g>
    </g>
   </g>
   <g id="matplotlib.axis_30"/>
   <g id="line2d_66">
    <g clip-path="url(#p91e0c97ec1)">
     <use href="#m5269b93cc7" x="369.94" y="309.16" style="stroke: #000000; stroke-width: 1.3"/>
    </g>
   </g>
   <g id="patch_73">
    <path d="M 311.82 411.13 
L 311.82 304.31 
" style="fill: none; stroke: #000000; stroke-width: 0.8; stroke-linejoin: miter; stroke-linecap: square"/>
   </g>
   <g id="patch_74">
    <path d="M 428.07 411.13 
L 428.07 304.31 
" style="fill: none; stroke: #000000; stroke-width: 0.8; stroke-linejoin: miter; stroke-linecap: square"/>
   </g>
   <g id="patch_75">
    <path d="M 311.82 411.13 
L 428.07 411.13 
" style="fill: none; stroke: #000000; stroke-width: 0.8; stroke-linejoin: miter; stroke-linecap: square"/>
   </g>
   <g id="patch_76">
    <path d="M 311.82 304.31 
L 428.07 304.31 
" style="fill: none; stroke: #000000; stroke-width: 0.8; stroke-linejoin: miter; stroke-linecap: square"/>
   </g>
   <g id="text_66">
    <text style="font-size: 9px;  text-anchor: middle" x="369.94" y="298.31">fl_gamma = 0</text>
   </g>
  </g>
  <g id="axes_16">
   <g id="patch_77">
    <path d="M 450.22 411.13 
L 566.94 411.13 
L 566.94 304.15 
L 450.22 304.15 
z
" style="fill: #ffffff"/>
   </g>
   <g clip-path="url(#p5437f787d3)" fill="none" stroke-width="5.7" class="pt" stroke-opacity="0.92"><path stroke="#375a8c" d="M465.7 348.2h0M468.2 340.6h0M478.2 340.6h0M480.7 330.6h0M480.7 333.1h0M480.7 335.6h0M480.7 338.1h0M480.7 340.6h0M483.2 340.6h0M485.8 345.7h0M485.8 348.2h0M495.8 325.6h0M495.8 330.6h0M498.3 333.1h0M498.3 338.1h0M500.8 340.6h0M500.8 365.7h0M500.8 368.2h0M505.9 343.1h0M508.4 370.7h0M510.9 345.7h0M510.9 370.7h0"/><path stroke="#1f958b" d="M468.2 315.5h0M468.2 348.2h0M468.2 350.7h0M470.7 313.0h0M470.7 345.7h0M470.7 353.2h0M473.2 328.1h0M473.2 348.2h0M475.7 323.1h0M475.7 330.6h0M475.7 345.7h0M475.7 348.2h0M475.7 350.7h0M475.7 353.2h0M478.2 330.6h0M480.7 343.1h0M483.2 348.2h0M483.2 350.7h0M488.3 330.6h0M488.3 333.1h0M488.3 335.6h0M490.8 315.5h0M490.8 323.1h0M490.8 328.1h0M493.3 323.1h0M493.3 330.6h0M495.8 320.6h0M495.8 323.1h0M495.8 348.2h0M498.3 330.6h0M500.8 330.6h0M503.4 323.1h0M503.4 343.1h0M503.4 345.7h0M503.4 370.7h0M505.9 338.1h0M505.9 340.6h0M505.9 345.7h0M505.9 348.2h0M505.9 350.7h0M505.9 370.7h0M508.4 335.6h0M508.4 373.3h0"/><path stroke="#44bf70" d="M468.2 318.0h0M468.2 320.6h0M470.7 318.0h0M478.2 335.6h0M488.3 323.1h0"/></g>
<g clip-path="url(#p5437f787d3)" fill="none" stroke-width="5.7" class="pt" stroke-opacity="0.92"><path stroke="#375a8c" d="M463.8 312.4h0M465.1 316.3h0M461.3 326.5h0M462.5 331.6h0M463.8 343.2h0M465.1 345.7h0M467.7 344.5h0M475.4 357.3h0M483.1 338.1h0M484.4 332.9h0M485.6 341.9h0M488.2 344.5h0M489.5 349.6h0M492.1 325.2h0M489.5 318.8h0M494.6 327.8h0M495.9 332.9h0M499.8 335.5h0M502.3 338.1h0M504.9 317.5h0M507.5 320.1h0M503.6 329.1h0M508.7 341.9h0M513.9 332.9h0M516.4 334.2h0M519.0 331.6h0M511.3 348.3h0M513.9 350.9h0M510.0 368.8h0M507.5 366.2h0M495.9 365.0h0M497.2 368.8h0M512.6 372.7h0M503.6 388.0h0"/><path stroke="#1f958b" d="M466.4 312.4h0M469.0 311.1h0M470.2 315.0h0M471.5 322.7h0M474.1 325.2h0M475.4 332.9h0M472.8 338.1h0M471.5 343.2h0M470.2 348.3h0M472.8 350.9h0M474.1 354.7h0M476.7 358.6h0M477.9 350.9h0M480.5 345.7h0M483.1 344.5h0M485.6 338.1h0M486.9 329.1h0M490.8 330.4h0M492.1 321.4h0M493.3 313.7h0M495.9 311.1h0M495.9 317.5h0M498.5 324.0h0M499.8 327.8h0M502.3 334.2h0M503.6 339.3h0M501.0 344.5h0M498.5 348.3h0M503.6 352.2h0M507.5 349.6h0M506.2 366.2h0M504.9 368.8h0M504.9 372.7h0M511.3 376.5h0M506.2 388.0h0"/><path stroke="#44bf70" d="M471.5 311.1h0M474.1 312.4h0M477.9 315.0h0M472.8 318.8h0M477.9 325.2h0M489.5 325.2h0M501.0 347.0h0M502.3 349.6h0M475.4 335.5h0M470.2 320.1h0"/><path stroke="#fde725" d="M474.1 316.3h0M475.4 318.8h0M476.7 320.1h0"/></g>
<g clip-path="url(#p5437f787d3)" fill="none" stroke-width="5.7" class="pt" stroke-opacity="0.8"><path stroke="#440154" d="M455.3 341.9h0M457.4 325.2h0M460.0 320.1h0M461.3 336.8h0M458.7 363.7h0M465.1 366.8h0M466.4 354.7h0M469.0 357.3h0M471.5 362.4h0M472.8 366.2h0M470.2 334.2h0M467.7 330.4h0M476.7 340.6h0M479.2 361.1h0M484.4 311.9h0M481.8 324.0h0M485.6 372.7h0M486.9 402.1h0M489.5 406.0h0M489.5 361.1h0M492.1 362.4h0M494.6 358.6h0M495.9 376.5h0M499.8 350.9h0M503.6 359.8h0M506.2 362.4h0M504.9 375.2h0M504.1 380.3h0M506.2 384.2h0M510.0 394.4h0M504.1 395.7h0M512.6 390.6h0M517.7 388.0h0M519.0 380.3h0M513.9 379.1h0M508.7 377.8h0M510.0 366.2h0M511.3 356.0h0M519.0 358.6h0M521.6 357.3h0M524.1 354.7h0M533.1 353.9h0M526.7 397.0h0M561.4 345.7h0M526.7 330.9h0M519.0 341.9h0M515.2 338.1h0M513.9 330.4h0M507.5 311.1h0M512.6 311.1h0M506.2 322.7h0M507.5 326.5h0M508.7 335.5h0M490.8 339.3h0M495.9 341.9h0M526.3 309.0h0"/></g>
<g id="matplotlib.axis_31">
    <g id="xtick_40">
     <g id="line2d_67">
      <g>
       <use href="#m1504cfccaf" x="476.14" y="411.13" style="stroke: #000000; stroke-width: 0.8"/>
      </g>
     </g>
     <g id="text_67">
      <text style="font-size: 8px;  text-anchor: middle" x="476.14" y="424.21">0.01</text>
     </g>
    </g>
    <g id="xtick_41">
     <g id="line2d_68">
      <g>
       <use href="#m1504cfccaf" x="534.42" y="411.13" style="stroke: #000000; stroke-width: 0.8"/>
      </g>
     </g>
     <g id="text_68">
      <text style="font-size: 8px;  text-anchor: middle" x="534.42" y="424.21">0.02</text>
     </g>
    </g>
   </g>
   <g id="matplotlib.axis_32"/>
   <g id="line2d_69">
    <g clip-path="url(#p5437f787d3)">
     <use href="#m5269b93cc7" x="526.26" y="309.01" style="stroke: #000000; stroke-width: 1.3"/>
    </g>
   </g>
   <g id="patch_78">
    <path d="M 450.22 411.13 
L 450.22 304.15 
" style="fill: none; stroke: #000000; stroke-width: 0.8; stroke-linejoin: miter; stroke-linecap: square"/>
   </g>
   <g id="patch_79">
    <path d="M 566.94 411.13 
L 566.94 304.15 
" style="fill: none; stroke: #000000; stroke-width: 0.8; stroke-linejoin: miter; stroke-linecap: square"/>
   </g>
   <g id="patch_80">
    <path d="M 450.22 411.13 
L 566.94 411.13 
" style="fill: none; stroke: #000000; stroke-width: 0.8; stroke-linejoin: miter; stroke-linecap: square"/>
   </g>
   <g id="patch_81">
    <path d="M 450.22 304.15 
L 566.94 304.15 
" style="fill: none; stroke: #000000; stroke-width: 0.8; stroke-linejoin: miter; stroke-linecap: square"/>
   </g>
   <g id="text_69">
    <text style="font-size: 9px;  text-anchor: middle" x="508.58" y="298.15">hsv_h = 0.0186</text>
   </g>
  </g>
  <g id="axes_17">
   <g id="patch_82">
    <path d="M 591.91 411.29 
L 708.79 411.29 
L 708.79 304.15 
L 591.91 304.15 
z
" style="fill: #ffffff"/>
   </g>
   <g clip-path="url(#p762819bdfe)" fill="none" stroke-width="5.7" class="pt" stroke-opacity="0.92"><path stroke="#375a8c" d="M655.6 324.3h0M658.1 324.3h0M660.6 321.8h0M663.1 324.3h0M663.1 326.8h0M663.1 339.4h0M665.6 329.3h0M665.6 346.9h0M665.6 349.4h0M665.6 354.4h0M665.6 356.9h0M668.2 331.8h0M668.2 336.8h0M668.2 349.4h0M668.2 351.9h0M668.2 374.5h0M670.7 326.8h0M670.7 329.3h0M670.7 351.9h0M670.7 354.4h0M673.2 351.9h0M673.2 354.4h0M678.2 349.4h0M680.7 336.8h0M680.7 339.4h0M683.2 336.8h0M683.2 354.4h0M685.8 354.4h0M688.3 339.4h0M688.3 354.4h0M700.8 356.9h0"/><path stroke="#1f958b" d="M660.6 369.5h0M663.1 329.3h0M663.1 336.8h0M665.6 331.8h0M665.6 336.8h0M668.2 324.3h0M670.7 321.8h0M670.7 324.3h0M673.2 326.8h0M673.2 344.4h0M675.7 319.3h0M675.7 321.8h0M675.7 331.8h0M675.7 334.3h0M675.7 344.4h0M678.2 316.8h0M678.2 326.8h0M678.2 336.8h0M678.2 339.4h0M678.2 346.9h0M680.7 329.3h0M680.7 346.9h0M683.2 326.8h0M683.2 344.4h0M683.2 346.9h0M683.2 351.9h0M685.8 344.4h0M685.8 346.9h0M685.8 351.9h0M688.3 341.9h0M690.8 331.8h0M690.8 339.4h0M693.3 324.3h0M693.3 326.8h0M695.8 316.8h0M695.8 319.3h0M695.8 326.8h0M695.8 341.9h0M698.3 324.3h0M698.3 339.4h0M698.3 341.9h0M698.3 349.4h0M698.3 354.4h0M700.8 314.3h0M700.8 316.8h0M700.8 319.3h0M700.8 321.8h0"/><path stroke="#44bf70" d="M673.2 329.3h0M675.7 326.8h0M678.2 319.3h0M678.2 334.3h0M680.7 316.8h0M680.7 319.3h0M680.7 324.3h0M683.2 324.3h0M683.2 329.3h0M683.2 331.8h0M683.2 334.3h0M688.3 314.3h0M688.3 316.8h0M688.3 319.3h0M688.3 321.8h0M688.3 331.8h0M690.8 321.8h0M690.8 324.3h0M690.8 334.3h0M690.8 336.8h0M693.3 321.8h0M700.8 324.3h0M700.8 331.8h0"/></g>
<g clip-path="url(#p762819bdfe)" fill="none" stroke-width="5.7" class="pt" stroke-opacity="0.92"><path stroke="#375a8c" d="M641.1 340.6h0M650.1 343.2h0M650.1 320.1h0M655.3 318.8h0M660.4 324.0h0M659.1 330.4h0M660.4 338.1h0M661.7 343.2h0M663.0 348.3h0M665.5 352.2h0M668.1 354.7h0M670.7 349.6h0M674.5 349.6h0M678.4 353.4h0M682.2 356.0h0M686.1 358.6h0M688.6 357.3h0M695.0 354.7h0M698.9 358.6h0M702.7 361.1h0M700.2 381.6h0M702.7 381.6h0M698.9 384.2h0M678.4 367.5h0M677.1 372.7h0M677.1 375.2h0M671.9 379.1h0M663.0 375.2h0M664.2 377.8h0M660.4 386.8h0M652.7 318.8h0M682.2 340.6h0M686.1 338.1h0M670.7 332.9h0M668.1 327.8h0"/><path stroke="#1f958b" d="M659.1 327.8h0M661.7 332.9h0M664.2 334.2h0M663.0 353.4h0M661.7 357.3h0M660.4 363.7h0M661.7 367.5h0M663.0 371.4h0M665.5 322.7h0M668.1 320.1h0M670.7 317.5h0M673.2 320.1h0M674.5 324.0h0M673.2 332.9h0M674.5 338.1h0M677.1 341.9h0M679.6 344.5h0M682.2 349.6h0M687.3 348.3h0M691.2 343.2h0M693.8 339.3h0M698.9 336.8h0M702.7 339.3h0M701.5 344.5h0M702.7 349.6h0M700.2 353.4h0M702.7 365.0h0M696.3 322.7h0M698.9 320.1h0M702.7 311.1h0M702.7 315.0h0M698.9 315.0h0M687.3 327.8h0M691.2 327.8h0M678.4 329.1h0M683.5 309.9h0M682.2 313.7h0"/><path stroke="#44bf70" d="M684.8 321.4h0M687.3 324.0h0M688.6 335.5h0M684.8 332.9h0M679.6 332.9h0M678.4 322.7h0M692.5 318.8h0M700.2 326.5h0M702.7 327.8h0M698.9 330.4h0M675.8 329.1h0"/><path stroke="#fde725" d="M683.5 316.3h0M684.8 318.8h0"/></g>
<g clip-path="url(#p762819bdfe)" fill="none" stroke-width="5.7" class="pt" stroke-opacity="0.8"><path stroke="#440154" d="M596.7 387.3h0M616.2 350.4h0M630.9 397.0h0M632.7 402.6h0M638.6 311.1h0M639.9 354.7h0M640.4 370.1h0M642.9 317.0h0M643.7 332.9h0M647.6 326.5h0M648.1 395.7h0M652.2 313.7h0M653.2 353.4h0M656.5 358.6h0M657.8 361.1h0M660.4 318.8h0M663.0 311.1h0M665.5 345.7h0M663.0 361.1h0M664.2 366.2h0M668.1 368.8h0M669.4 367.5h0M670.7 365.0h0M671.9 358.6h0M673.2 372.7h0M674.5 380.3h0M675.8 386.8h0M674.5 406.7h0M666.8 393.2h0M670.7 340.6h0M680.9 359.8h0M683.5 366.2h0M684.8 376.5h0M693.8 372.7h0M692.5 361.1h0M693.8 349.6h0M688.6 311.1h0M686.1 317.5h0M674.5 315.0h0M668.1 315.0h0M652.7 322.7h0M661.7 338.1h0M623.7 309.0h0"/></g>
<g id="matplotlib.axis_33">
    <g id="xtick_42">
     <g id="line2d_70">
      <g>
       <use href="#m1504cfccaf" x="596.16" y="411.29" style="stroke: #000000; stroke-width: 0.8"/>
      </g>
     </g>
     <g id="text_70">
      <text style="font-size: 8px;  text-anchor: middle" x="596.16" y="424.37">0.4</text>
     </g>
    </g>
    <g id="xtick_43">
     <g id="line2d_71">
      <g>
       <use href="#m1504cfccaf" x="638.81" y="411.29" style="stroke: #000000; stroke-width: 0.8"/>
      </g>
     </g>
     <g id="text_71">
      <text style="font-size: 8px;  text-anchor: middle" x="638.81" y="424.37">0.6</text>
     </g>
    </g>
    <g id="xtick_44">
     <g id="line2d_72">
      <g>
       <use href="#m1504cfccaf" x="681.46" y="411.29" style="stroke: #000000; stroke-width: 0.8"/>
      </g>
     </g>
     <g id="text_72">
      <text style="font-size: 8px;  text-anchor: middle" x="681.46" y="424.37">0.8</text>
     </g>
    </g>
   </g>
   <g id="matplotlib.axis_34"/>
   <g id="line2d_73">
    <g clip-path="url(#p762819bdfe)">
     <use href="#m5269b93cc7" x="623.66" y="309.02" style="stroke: #000000; stroke-width: 1.3"/>
    </g>
   </g>
   <g id="patch_83">
    <path d="M 591.91 411.29 
L 591.91 304.15 
" style="fill: none; stroke: #000000; stroke-width: 0.8; stroke-linejoin: miter; stroke-linecap: square"/>
   </g>
   <g id="patch_84">
    <path d="M 708.79 411.29 
L 708.79 304.15 
" style="fill: none; stroke: #000000; stroke-width: 0.8; stroke-linejoin: miter; stroke-linecap: square"/>
   </g>
   <g id="patch_85">
    <path d="M 591.91 411.29 
L 708.79 411.29 
" style="fill: none; stroke: #000000; stroke-width: 0.8; stroke-linejoin: miter; stroke-linecap: square"/>
   </g>
   <g id="patch_86">
    <path d="M 591.91 304.15 
L 708.79 304.15 
" style="fill: none; stroke: #000000; stroke-width: 0.8; stroke-linejoin: miter; stroke-linecap: square"/>
   </g>
   <g id="text_73">
    <text style="font-size: 9px;  text-anchor: middle" x="650.35" y="298.15">hsv_s = 0.529</text>
   </g>
  </g>
  <g id="axes_18">
   <g id="patch_87">
    <path d="M 732.98 411.29 
L 850.17 411.29 
L 850.17 304.31 
L 732.98 304.31 
z
" style="fill: #ffffff"/>
   </g>
   <g clip-path="url(#p5441d255c3)" fill="none" stroke-width="5.7" class="pt" stroke-opacity="0.92"><path stroke="#375a8c" d="M760.0 315.5h0M760.0 318.0h0M765.0 318.0h0M767.6 318.0h0M767.6 320.6h0M770.1 343.1h0M780.1 348.2h0M782.6 348.2h0M782.6 358.2h0M785.2 333.1h0M785.2 358.2h0M785.2 365.7h0M787.7 333.1h0M787.7 335.6h0M790.2 328.1h0M790.2 333.1h0M790.2 363.2h0M792.7 358.2h0M795.2 358.2h0M795.2 363.2h0M797.7 355.7h0M797.7 360.7h0M797.7 363.2h0M797.7 365.7h0M800.2 363.2h0M802.7 328.1h0M802.7 358.2h0M802.7 360.7h0M805.3 333.1h0M805.3 360.7h0M807.8 350.7h0M807.8 355.7h0M810.3 333.1h0M810.3 358.2h0M812.8 323.1h0M812.8 330.6h0M815.3 330.6h0M820.3 323.1h0"/><path stroke="#1f958b" d="M760.0 313.0h0M762.5 315.5h0M770.1 318.0h0M772.6 338.1h0M775.1 353.2h0M777.6 343.1h0M777.6 345.7h0M777.6 348.2h0M780.1 330.6h0M780.1 335.6h0M782.6 325.6h0M782.6 330.6h0M782.6 355.7h0M785.2 325.6h0M785.2 328.1h0M785.2 353.2h0M787.7 325.6h0M787.7 353.2h0M787.7 360.7h0M790.2 325.6h0M790.2 360.7h0M792.7 325.6h0M792.7 330.6h0M792.7 335.6h0M792.7 338.1h0M792.7 355.7h0M795.2 318.0h0M795.2 330.6h0M795.2 345.7h0M795.2 353.2h0M795.2 355.7h0M797.7 345.7h0M797.7 353.2h0M800.2 325.6h0M800.2 328.1h0M800.2 333.1h0M800.2 335.6h0M800.2 353.2h0M800.2 355.7h0M802.7 320.6h0M802.7 323.1h0M802.7 350.7h0M805.3 323.1h0M805.3 343.1h0M805.3 345.7h0M805.3 350.7h0M805.3 355.7h0M807.8 315.5h0M807.8 335.6h0M807.8 338.1h0M807.8 348.2h0M807.8 358.2h0M810.3 323.1h0M810.3 350.7h0M810.3 355.7h0M812.8 320.6h0M812.8 328.1h0M817.8 328.1h0M817.8 330.6h0M820.3 330.6h0"/><path stroke="#44bf70" d="M792.7 328.1h0M795.2 323.1h0M795.2 325.6h0M795.2 335.6h0M795.2 343.1h0M797.7 318.0h0M797.7 340.6h0M797.7 343.1h0M800.2 323.1h0M800.2 338.1h0M800.2 345.7h0M800.2 350.7h0M805.3 315.5h0M805.3 328.1h0M807.8 313.0h0M810.3 325.6h0M810.3 328.1h0M810.3 330.6h0"/></g>
<g clip-path="url(#p5441d255c3)" fill="none" stroke-width="5.7" class="pt" stroke-opacity="0.92"><path stroke="#375a8c" d="M758.1 316.3h0M762.0 318.8h0M765.8 316.3h0M763.3 324.0h0M765.8 327.8h0M773.5 321.4h0M763.3 338.1h0M762.0 343.2h0M765.8 347.0h0M772.3 344.5h0M781.2 345.7h0M783.8 350.9h0M778.7 356.0h0M783.8 361.1h0M787.7 365.0h0M790.2 367.5h0M786.4 368.8h0M794.1 361.1h0M797.9 358.6h0M800.5 359.8h0M801.8 365.0h0M804.3 362.4h0M791.5 377.8h0M790.2 386.8h0M795.4 379.1h0M813.3 370.1h0M815.9 325.2h0M818.5 320.1h0M822.3 317.5h0M827.4 321.4h0M832.6 321.4h0M837.7 325.2h0M844.1 326.5h0M842.8 330.4h0M824.9 334.2h0M828.7 341.9h0M824.9 345.7h0M814.6 332.9h0M813.3 354.7h0M806.9 353.4h0M804.3 330.4h0M788.9 330.4h0M785.1 335.5h0"/><path stroke="#1f958b" d="M760.7 311.1h0M763.3 312.4h0M765.8 311.1h0M768.4 313.7h0M771.0 315.0h0M774.8 332.9h0M777.4 335.5h0M776.1 340.6h0M774.8 347.0h0M778.7 350.9h0M781.2 353.4h0M786.4 354.7h0M788.9 357.3h0M792.8 353.4h0M796.6 350.9h0M799.2 348.3h0M804.3 348.3h0M806.9 344.5h0M809.5 340.6h0M805.6 336.8h0M801.8 334.2h0M799.2 330.4h0M804.3 325.2h0M806.9 321.4h0M801.8 317.5h0M799.2 313.7h0M804.3 311.1h0M809.5 318.8h0M815.9 327.8h0M819.7 334.2h0M823.6 340.6h0M794.1 332.9h0M790.2 336.8h0M786.4 330.4h0M788.9 324.0h0M791.5 320.1h0M785.1 321.4h0M780.0 325.2h0M809.5 353.4h0M803.1 354.7h0M805.6 358.6h0M801.8 368.8h0"/><path stroke="#44bf70" d="M796.6 327.8h0M799.2 321.4h0M801.8 315.0h0M796.6 338.1h0M800.5 341.9h0M804.3 340.6h0M803.1 344.5h0M800.5 348.3h0M794.1 340.6h0M797.9 334.2h0M806.9 329.1h0"/><path stroke="#fde725" d="M803.1 338.1h0M801.8 315.0h0M804.3 313.7h0"/><path stroke="#472d7b" d="M774.0 309.2h0"/></g>
<g clip-path="url(#p5441d255c3)" fill="none" stroke-width="5.7" class="pt" stroke-opacity="0.8"><path stroke="#440154" d="M738.1 313.7h0M746.6 353.9h0M745.3 370.9h0M759.4 397.0h0M764.6 359.1h0M767.9 369.3h0M776.1 365.0h0M776.1 370.1h0M777.4 375.2h0M776.1 384.2h0M781.2 402.6h0M759.4 329.9h0M760.7 345.7h0M760.7 349.6h0M772.3 350.9h0M777.4 318.8h0M778.7 322.7h0M781.2 332.9h0M782.5 315.0h0M783.8 318.8h0M786.4 326.5h0M794.1 311.1h0M795.4 318.8h0M796.6 324.0h0M787.7 340.6h0M790.2 349.6h0M795.4 352.2h0M792.8 359.8h0M795.4 368.8h0M801.8 376.5h0M806.9 376.5h0M803.1 388.0h0M795.4 388.0h0M786.4 375.2h0M785.1 381.6h0M791.5 393.2h0M809.5 406.7h0M817.2 395.7h0M810.8 367.5h0M819.7 362.4h0M821.0 356.0h0M823.6 354.7h0M830.0 358.6h0M842.8 356.0h0M824.9 344.5h0M822.3 338.1h0M830.0 338.1h0M828.7 332.9h0M831.3 325.2h0M827.4 318.8h0M830.0 309.9h0M841.6 324.0h0M836.4 335.5h0M812.0 313.7h0M814.6 338.1h0M809.5 343.2h0M812.0 349.6h0"/></g>
<g id="matplotlib.axis_35">
    <g id="xtick_45">
     <g id="line2d_74">
      <g>
       <use href="#m1504cfccaf" x="790.16" y="411.29" style="stroke: #000000; stroke-width: 0.8"/>
      </g>
     </g>
     <g id="text_74">
      <text style="font-size: 8px;  text-anchor: middle" x="790.16" y="424.37">0.4</text>
     </g>
    </g>
    <g id="xtick_46">
     <g id="line2d_75">
      <g>
       <use href="#m1504cfccaf" x="847.81" y="411.29" style="stroke: #000000; stroke-width: 0.8"/>
      </g>
     </g>
     <g id="text_75">
      <text style="font-size: 8px;  text-anchor: middle" x="847.81" y="424.37">0.6</text>
     </g>
    </g>
   </g>
   <g id="matplotlib.axis_36"/>
   <g id="line2d_76">
    <g clip-path="url(#p5441d255c3)">
     <use href="#m5269b93cc7" x="774.02" y="309.17" style="stroke: #000000; stroke-width: 1.3"/>
    </g>
   </g>
   <g id="patch_88">
    <path d="M 732.98 411.29 
L 732.98 304.31 
" style="fill: none; stroke: #000000; stroke-width: 0.8; stroke-linejoin: miter; stroke-linecap: square"/>
   </g>
   <g id="patch_89">
    <path d="M 850.17 411.29 
L 850.17 304.31 
" style="fill: none; stroke: #000000; stroke-width: 0.8; stroke-linejoin: miter; stroke-linecap: square"/>
   </g>
   <g id="patch_90">
    <path d="M 732.98 411.29 
L 850.17 411.29 
" style="fill: none; stroke: #000000; stroke-width: 0.8; stroke-linejoin: miter; stroke-linecap: square"/>
   </g>
   <g id="patch_91">
    <path d="M 732.98 304.31 
L 850.17 304.31 
" style="fill: none; stroke: #000000; stroke-width: 0.8; stroke-linejoin: miter; stroke-linecap: square"/>
   </g>
   <g id="text_76">
    <text style="font-size: 9px;  text-anchor: middle" x="791.58" y="298.31">hsv_v = 0.344</text>
   </g>
  </g>
  <g id="axes_19">
   <g id="patch_92">
    <path d="M 28.11 554.50 
L 145.30 554.50 
L 145.30 447.84 
L 28.11 447.84 
z
" style="fill: #ffffff"/>
   </g>
   <g clip-path="url(#pc6aead25e2)" fill="none" stroke-width="5.4" class="pt" stroke-opacity="0.8"><path stroke="#440154" d="M86.7 546.6h0"/><path stroke="#440154" d="M86.7 540.1h0"/><path stroke="#440154" d="M86.7 540.7h0"/><path stroke="#440154" d="M86.7 549.7h0"/><path stroke="#453581" d="M86.7 538.3h0"/><path stroke="#453581" d="M86.7 538.0h0"/><path stroke="#453581" d="M86.7 535.1h0"/><path stroke="#453581" d="M86.7 534.3h0"/><path stroke="#453581" d="M86.7 530.3h0"/><path stroke="#453581" d="M86.7 530.4h0"/><path stroke="#39558c" d="M86.7 526.9h0"/><path stroke="#39558c" d="M86.7 527.7h0"/><path stroke="#39558c" d="M86.7 527.8h0"/><path stroke="#39558c" d="M86.7 528.0h0"/><path stroke="#2f6b8e" d="M86.7 521.9h0"/><path stroke="#2f6b8e" d="M86.7 521.6h0"/><path stroke="#2f6b8e" d="M86.7 521.4h0"/><path stroke="#2f6b8e" d="M86.7 519.2h0"/><path stroke="#2f6b8e" d="M86.7 520.2h0"/><path stroke="#287c8e" d="M86.7 515.9h0"/><path stroke="#287c8e" d="M86.7 514.1h0"/><path stroke="#287c8e" d="M86.7 517.9h0"/><path stroke="#287c8e" d="M86.7 518.2h0"/><path stroke="#287c8e" d="M86.7 516.0h0"/><path stroke="#287c8e" d="M86.7 518.8h0"/><path stroke="#238a8d" d="M86.7 513.7h0"/><path stroke="#238a8d" d="M86.7 511.4h0"/><path stroke="#238a8d" d="M86.7 511.6h0"/><path stroke="#238a8d" d="M86.7 509.4h0"/><path stroke="#238a8d" d="M86.7 510.8h0"/><path stroke="#238a8d" d="M86.7 511.4h0"/><path stroke="#238a8d" d="M86.7 511.4h0"/><path stroke="#1fa188" d="M86.7 507.6h0"/><path stroke="#1fa188" d="M86.7 508.7h0"/><path stroke="#1fa188" d="M86.7 507.8h0"/><path stroke="#1fa188" d="M86.7 505.4h0"/><path stroke="#1fa188" d="M86.7 507.8h0"/><path stroke="#1fa188" d="M86.7 507.0h0"/><path stroke="#1fa188" d="M86.7 508.8h0"/><path stroke="#1fa188" d="M86.7 504.7h0"/><path stroke="#1fa188" d="M86.7 508.0h0"/><path stroke="#25ab82" d="M86.7 502.4h0"/><path stroke="#25ab82" d="M86.7 499.4h0"/><path stroke="#25ab82" d="M86.7 501.2h0"/><path stroke="#25ab82" d="M86.7 499.5h0"/><path stroke="#25ab82" d="M86.7 500.5h0"/><path stroke="#25ab82" d="M86.7 500.0h0"/><path stroke="#25ab82" d="M86.7 503.2h0"/><path stroke="#25ab82" d="M86.7 501.0h0"/><path stroke="#25ab82" d="M86.7 501.2h0"/><path stroke="#25ab82" d="M86.7 499.4h0"/><path stroke="#25ab82" d="M86.7 457.2h0"/><path stroke="#25ab82" d="M86.7 454.5h0"/><path stroke="#25ab82" d="M86.7 454.6h0"/><path stroke="#25ab82" d="M86.7 453.7h0"/><path stroke="#25ab82" d="M86.7 453.8h0"/><path stroke="#25ab82" d="M86.7 456.1h0"/><path stroke="#25ab82" d="M86.7 454.2h0"/><path stroke="#25ab82" d="M86.7 453.4h0"/><path stroke="#25ab82" d="M86.7 453.3h0"/><path stroke="#25ab82" d="M86.7 452.7h0"/><path stroke="#3aba76" d="M86.7 496.8h0"/><path stroke="#3aba76" d="M86.7 495.6h0"/><path stroke="#3aba76" d="M86.7 498.3h0"/><path stroke="#3aba76" d="M86.7 496.7h0"/><path stroke="#3aba76" d="M86.7 497.0h0"/><path stroke="#3aba76" d="M86.7 497.8h0"/><path stroke="#3aba76" d="M86.7 494.6h0"/><path stroke="#3aba76" d="M86.7 496.7h0"/><path stroke="#3aba76" d="M86.7 493.8h0"/><path stroke="#3aba76" d="M86.7 495.7h0"/><path stroke="#3aba76" d="M86.7 495.6h0"/><path stroke="#3aba76" d="M86.7 495.4h0"/><path stroke="#73d056" d="M86.7 490.1h0"/><path stroke="#73d056" d="M86.7 492.7h0"/><path stroke="#73d056" d="M86.7 491.3h0"/><path stroke="#73d056" d="M86.7 492.3h0"/><path stroke="#73d056" d="M86.7 491.5h0"/><path stroke="#73d056" d="M86.7 493.0h0"/><path stroke="#73d056" d="M86.7 488.7h0"/><path stroke="#73d056" d="M86.7 492.4h0"/><path stroke="#73d056" d="M86.7 490.2h0"/><path stroke="#73d056" d="M86.7 492.0h0"/><path stroke="#73d056" d="M86.7 489.2h0"/><path stroke="#73d056" d="M86.7 490.2h0"/><path stroke="#73d056" d="M86.7 492.8h0"/><path stroke="#73d056" d="M86.7 489.3h0"/><path stroke="#73d056" d="M86.7 488.8h0"/><path stroke="#73d056" d="M86.7 489.0h0"/><path stroke="#90d743" d="M86.7 485.6h0"/><path stroke="#90d743" d="M86.7 487.6h0"/><path stroke="#90d743" d="M86.7 487.4h0"/><path stroke="#90d743" d="M86.7 483.8h0"/><path stroke="#90d743" d="M86.7 485.6h0"/><path stroke="#90d743" d="M86.7 487.5h0"/><path stroke="#90d743" d="M86.7 484.0h0"/><path stroke="#90d743" d="M86.7 485.2h0"/><path stroke="#90d743" d="M86.7 485.6h0"/><path stroke="#90d743" d="M86.7 486.5h0"/><path stroke="#90d743" d="M86.7 486.3h0"/><path stroke="#90d743" d="M86.7 487.2h0"/><path stroke="#90d743" d="M86.7 488.2h0"/><path stroke="#90d743" d="M86.7 484.0h0"/><path stroke="#90d743" d="M86.7 486.1h0"/><path stroke="#90d743" d="M86.7 485.7h0"/><path stroke="#90d743" d="M86.7 486.8h0"/><path stroke="#90d743" d="M86.7 484.7h0"/><path stroke="#9dd93b" d="M86.7 483.1h0"/><path stroke="#9dd93b" d="M86.7 481.4h0"/><path stroke="#9dd93b" d="M86.7 483.1h0"/><path stroke="#9dd93b" d="M86.7 482.6h0"/><path stroke="#9dd93b" d="M86.7 478.5h0"/><path stroke="#9dd93b" d="M86.7 480.0h0"/><path stroke="#9dd93b" d="M86.7 481.1h0"/><path stroke="#9dd93b" d="M86.7 480.7h0"/><path stroke="#9dd93b" d="M86.7 479.0h0"/><path stroke="#9dd93b" d="M86.7 481.5h0"/><path stroke="#9dd93b" d="M86.7 480.3h0"/><path stroke="#9dd93b" d="M86.7 479.9h0"/><path stroke="#9dd93b" d="M86.7 481.5h0"/><path stroke="#9dd93b" d="M86.7 480.7h0"/><path stroke="#9dd93b" d="M86.7 479.5h0"/><path stroke="#9dd93b" d="M86.7 478.8h0"/><path stroke="#9dd93b" d="M86.7 482.5h0"/><path stroke="#9dd93b" d="M86.7 478.7h0"/><path stroke="#9dd93b" d="M86.7 483.2h0"/><path stroke="#ece51b" d="M86.7 474.4h0"/><path stroke="#ece51b" d="M86.7 474.2h0"/><path stroke="#ece51b" d="M86.7 477.5h0"/><path stroke="#ece51b" d="M86.7 476.1h0"/><path stroke="#ece51b" d="M86.7 474.1h0"/><path stroke="#ece51b" d="M86.7 478.1h0"/><path stroke="#ece51b" d="M86.7 475.0h0"/><path stroke="#ece51b" d="M86.7 474.2h0"/><path stroke="#ece51b" d="M86.7 475.6h0"/><path stroke="#ece51b" d="M86.7 474.6h0"/><path stroke="#ece51b" d="M86.7 477.0h0"/><path stroke="#ece51b" d="M86.7 477.2h0"/><path stroke="#ece51b" d="M86.7 476.3h0"/><path stroke="#ece51b" d="M86.7 477.2h0"/><path stroke="#ece51b" d="M86.7 476.4h0"/><path stroke="#ece51b" d="M86.7 473.5h0"/><path stroke="#ece51b" d="M86.7 475.3h0"/><path stroke="#ece51b" d="M86.7 476.5h0"/><path stroke="#ece51b" d="M86.7 476.8h0"/><path stroke="#ece51b" d="M86.7 473.5h0"/><path stroke="#ece51b" d="M86.7 475.9h0"/><path stroke="#ece51b" d="M86.7 473.3h0"/><path stroke="#ece51b" d="M86.7 475.6h0"/><path stroke="#ece51b" d="M86.7 475.6h0"/><path stroke="#ece51b" d="M86.7 473.7h0"/><path stroke="#ece51b" d="M86.7 474.5h0"/><path stroke="#fde725" d="M86.7 470.2h0"/><path stroke="#fde725" d="M86.7 470.9h0"/><path stroke="#fde725" d="M86.7 468.7h0"/><path stroke="#fde725" d="M86.7 471.0h0"/><path stroke="#fde725" d="M86.7 468.5h0"/><path stroke="#fde725" d="M86.7 472.7h0"/><path stroke="#fde725" d="M86.7 470.9h0"/><path stroke="#fde725" d="M86.7 470.5h0"/><path stroke="#fde725" d="M86.7 468.4h0"/><path stroke="#fde725" d="M86.7 471.8h0"/><path stroke="#fde725" d="M86.7 469.1h0"/><path stroke="#fde725" d="M86.7 469.7h0"/><path stroke="#fde725" d="M86.7 469.5h0"/><path stroke="#fde725" d="M86.7 469.9h0"/><path stroke="#fde725" d="M86.7 468.3h0"/><path stroke="#fde725" d="M86.7 471.4h0"/><path stroke="#fde725" d="M86.7 471.1h0"/><path stroke="#fde725" d="M86.7 472.0h0"/><path stroke="#fde725" d="M86.7 472.8h0"/><path stroke="#fde725" d="M86.7 472.0h0"/><path stroke="#fde725" d="M86.7 468.5h0"/><path stroke="#fde725" d="M86.7 468.9h0"/><path stroke="#fde725" d="M86.7 472.5h0"/><path stroke="#fde725" d="M86.7 470.1h0"/><path stroke="#fde725" d="M86.7 470.7h0"/><path stroke="#fde725" d="M86.7 470.1h0"/><path stroke="#fde725" d="M86.7 469.8h0"/><path stroke="#fde725" d="M86.7 471.5h0"/><path stroke="#fde725" d="M86.7 463.2h0"/><path stroke="#fde725" d="M86.7 465.6h0"/><path stroke="#fde725" d="M86.7 464.8h0"/><path stroke="#fde725" d="M86.7 464.8h0"/><path stroke="#fde725" d="M86.7 467.0h0"/><path stroke="#fde725" d="M86.7 467.6h0"/><path stroke="#fde725" d="M86.7 465.9h0"/><path stroke="#fde725" d="M86.7 464.2h0"/><path stroke="#fde725" d="M86.7 463.9h0"/><path stroke="#fde725" d="M86.7 464.3h0"/><path stroke="#fde725" d="M86.7 467.4h0"/><path stroke="#fde725" d="M86.7 463.4h0"/><path stroke="#fde725" d="M86.7 464.0h0"/><path stroke="#fde725" d="M86.7 463.6h0"/><path stroke="#fde725" d="M86.7 465.3h0"/><path stroke="#fde725" d="M86.7 463.4h0"/><path stroke="#fde725" d="M86.7 467.7h0"/><path stroke="#fde725" d="M86.7 467.8h0"/><path stroke="#fde725" d="M86.7 467.8h0"/><path stroke="#fde725" d="M86.7 466.7h0"/><path stroke="#fde725" d="M86.7 466.7h0"/><path stroke="#fde725" d="M86.7 467.0h0"/><path stroke="#fde725" d="M86.7 465.1h0"/><path stroke="#fde725" d="M86.7 467.7h0"/><path stroke="#fde725" d="M86.7 465.0h0"/><path stroke="#fde725" d="M86.7 467.1h0"/><path stroke="#fde725" d="M86.7 464.6h0"/><path stroke="#fde725" d="M86.7 467.8h0"/><path stroke="#fde725" d="M86.7 461.3h0"/><path stroke="#fde725" d="M86.7 458.2h0"/><path stroke="#fde725" d="M86.7 460.2h0"/><path stroke="#fde725" d="M86.7 458.8h0"/><path stroke="#fde725" d="M86.7 459.6h0"/><path stroke="#fde725" d="M86.7 459.8h0"/><path stroke="#fde725" d="M86.7 461.9h0"/><path stroke="#fde725" d="M86.7 460.0h0"/><path stroke="#fde725" d="M86.7 462.6h0"/><path stroke="#fde725" d="M86.7 458.9h0"/><path stroke="#fde725" d="M86.7 458.1h0"/><path stroke="#fde725" d="M86.7 458.6h0"/><path stroke="#fde725" d="M86.7 462.6h0"/><path stroke="#fde725" d="M86.7 461.1h0"/><path stroke="#fde725" d="M86.7 461.2h0"/><path stroke="#fde725" d="M86.7 462.2h0"/><path stroke="#fde725" d="M86.7 459.7h0"/><path stroke="#fde725" d="M86.7 458.9h0"/><path stroke="#fde725" d="M86.7 461.3h0"/><path stroke="#fde725" d="M86.7 458.6h0"/><path stroke="#fde725" d="M86.7 458.9h0"/><path stroke="#fde725" d="M86.7 462.2h0"/><path stroke="#fde725" d="M86.7 459.0h0"/><path stroke="#fde725" d="M86.7 458.5h0"/><path stroke="#fde725" d="M86.7 461.8h0"/><path stroke="#fde725" d="M86.7 460.0h0"/><path stroke="#fde725" d="M86.7 459.7h0"/><path stroke="#fde725" d="M86.7 459.8h0"/></g>
<g id="matplotlib.axis_37">
    <g id="xtick_47">
     <g id="line2d_77">
      <g>
       <use href="#m1504cfccaf" x="33.44" y="554.50" style="stroke: #000000; stroke-width: 0.8"/>
      </g>
     </g>
     <g id="text_77">
      <text style="font-size: 8px;  text-anchor: middle" x="33.44" y="567.58">−0.05</text>
     </g>
    </g>
    <g id="xtick_48">
     <g id="line2d_78">
      <g>
       <use href="#m1504cfccaf" x="86.71" y="554.50" style="stroke: #000000; stroke-width: 0.8"/>
      </g>
     </g>
     <g id="text_78">
      <text style="font-size: 8px;  text-anchor: middle" x="86.71" y="567.58">0.00</text>
     </g>
    </g>
    <g id="xtick_49">
     <g id="line2d_79">
      <g>
       <use href="#m1504cfccaf" x="139.98" y="554.50" style="stroke: #000000; stroke-width: 0.8"/>
      </g>
     </g>
     <g id="text_79">
      <text style="font-size: 8px;  text-anchor: middle" x="139.98" y="567.58">0.05</text>
     </g>
    </g>
   </g>
   <g id="matplotlib.axis_38">
    <g id="ytick_13">
     <g id="line2d_80">
      <g>
       <use href="#m5d545ce8f8" x="28.11" y="539.28" style="stroke: #000000; stroke-width: 0.8"/>
      </g>
     </g>
     <g id="text_80">
      <text style="font-size: 8px;  text-anchor: end" x="21.11" y="542.32">0.5</text>
     </g>
    </g>
    <g id="ytick_14">
     <g id="line2d_81">
      <g>
       <use href="#m5d545ce8f8" x="28.11" y="511.76" style="stroke: #000000; stroke-width: 0.8"/>
      </g>
     </g>
     <g id="text_81">
      <text style="font-size: 8px;  text-anchor: end" x="21.11" y="514.79">0.6</text>
     </g>
    </g>
    <g id="ytick_15">
     <g id="line2d_82">
      <g>
       <use href="#m5d545ce8f8" x="28.11" y="484.23" style="stroke: #000000; stroke-width: 0.8"/>
      </g>
     </g>
     <g id="text_82">
      <text style="font-size: 8px;  text-anchor: end" x="21.11" y="487.27">0.7</text>
     </g>
    </g>
    <g id="ytick_16">
     <g id="line2d_83">
      <g>
       <use href="#m5d545ce8f8" x="28.11" y="456.70" style="stroke: #000000; stroke-width: 0.8"/>
      </g>
     </g>
     <g id="text_83">
      <text style="font-size: 8px;  text-anchor: end" x="21.11" y="459.74">0.8</text>
     </g>
    </g>
   </g>
   <g id="line2d_84">
    <g clip-path="url(#pc6aead25e2)">
     <use href="#m5269b93cc7" x="86.71" y="452.68" style="stroke: #000000; stroke-width: 1.3"/>
    </g>
   </g>
   <g id="patch_93">
    <path d="M 28.11 554.50 
L 28.11 447.84 
" style="fill: none; stroke: #000000; stroke-width: 0.8; stroke-linejoin: miter; stroke-linecap: square"/>
   </g>
   <g id="patch_94">
    <path d="M 145.30 554.50 
L 145.30 447.84 
" style="fill: none; stroke: #000000; stroke-width: 0.8; stroke-linejoin: miter; stroke-linecap: square"/>
   </g>
   <g id="patch_95">
    <path d="M 28.11 554.50 
L 145.30 554.50 
" style="fill: none; stroke: #000000; stroke-width: 0.8; stroke-linejoin: miter; stroke-linecap: square"/>
   </g>
   <g id="patch_96">
    <path d="M 28.11 447.84 
L 145.30 447.84 
" style="fill: none; stroke: #000000; stroke-width: 0.8; stroke-linejoin: miter; stroke-linecap: square"/>
   </g>
   <g id="text_84">
    <text style="font-size: 9px;  text-anchor: middle" x="86.71" y="441.84">degrees = 0</text>
   </g>
  </g>
  <g id="axes_20">
   <g id="patch_97">
    <path d="M 169.50 554.66 
L 286.84 554.66 
L 286.84 448 
L 169.50 448 
z
" style="fill: #ffffff"/>
   </g>
   <g clip-path="url(#p0e983410e0)" fill="none" stroke-width="5.7" class="pt" stroke-opacity="0.92"><path stroke="#375a8c" d="M193.8 487.2h0M193.8 489.7h0M196.3 482.1h0M196.3 484.7h0M201.3 474.6h0M203.8 477.1h0M203.8 499.7h0M206.3 479.6h0M206.3 482.1h0M213.9 457.1h0M213.9 459.6h0M213.9 464.6h0M213.9 487.2h0M216.4 457.1h0M216.4 467.1h0M216.4 482.1h0M218.9 467.1h0M218.9 474.6h0M218.9 487.2h0M218.9 489.7h0M221.4 467.1h0M223.9 469.6h0M223.9 477.1h0M231.5 502.2h0M234.0 464.6h0M234.0 467.1h0M234.0 499.7h0M234.0 502.2h0M236.5 494.7h0M239.0 462.1h0M241.5 467.1h0M241.5 484.7h0"/><path stroke="#1f958b" d="M196.3 487.2h0M198.8 482.1h0M198.8 484.7h0M203.8 479.6h0M203.8 497.2h0M216.4 462.1h0M216.4 464.6h0M216.4 477.1h0M216.4 479.6h0M218.9 459.6h0M218.9 482.1h0M218.9 484.7h0M221.4 459.6h0M221.4 462.1h0M221.4 464.6h0M221.4 479.6h0M221.4 492.2h0M221.4 494.7h0M223.9 457.1h0M223.9 484.7h0M226.5 484.7h0M226.5 492.2h0M229.0 472.1h0M229.0 494.7h0M229.0 497.2h0M229.0 502.2h0M231.5 457.1h0M231.5 477.1h0M231.5 479.6h0M231.5 497.2h0M234.0 462.1h0M234.0 469.6h0M234.0 472.1h0M234.0 484.7h0M234.0 487.2h0M234.0 494.7h0M236.5 474.6h0M236.5 477.1h0M239.0 459.6h0M239.0 472.1h0M239.0 474.6h0M239.0 479.6h0M239.0 482.1h0"/><path stroke="#44bf70" d="M223.9 464.6h0M223.9 467.1h0M223.9 482.1h0M226.5 462.1h0M226.5 472.1h0M226.5 489.7h0M229.0 457.1h0M229.0 462.1h0M229.0 464.6h0M229.0 474.6h0M229.0 492.2h0M231.5 462.1h0M231.5 464.6h0M231.5 467.1h0M231.5 484.7h0M231.5 487.2h0M231.5 492.2h0M234.0 479.6h0"/></g>
<g clip-path="url(#p0e983410e0)" fill="none" stroke-width="5.7" class="pt" stroke-opacity="0.92"><path stroke="#375a8c" d="M193.2 480.8h0M194.5 483.4h0M191.9 494.9h0M194.5 496.2h0M203.4 473.1h0M206.0 475.7h0M208.6 478.2h0M212.4 480.8h0M215.0 484.6h0M216.3 488.5h0M217.6 492.3h0M209.9 497.5h0M207.3 501.3h0M203.4 505.1h0M215.0 455.2h0M216.3 459.0h0M212.4 462.9h0M213.7 466.7h0M217.6 469.3h0M220.1 471.8h0M222.7 475.7h0M236.8 465.4h0M240.7 464.1h0M242.0 469.3h0M244.5 479.5h0M247.1 484.6h0M248.4 488.5h0M245.8 492.3h0M242.0 496.2h0M235.5 497.5h0M231.7 500.0h0M230.4 505.1h0M233.0 521.8h0M231.7 524.4h0"/><path stroke="#1f958b" d="M193.2 482.1h0M197.0 479.5h0M200.9 480.8h0M202.2 484.6h0M199.6 487.2h0M203.4 493.6h0M206.0 496.2h0M220.1 478.2h0M221.4 483.4h0M222.7 488.5h0M224.0 492.3h0M226.5 496.2h0M229.1 500.0h0M231.7 494.9h0M234.3 491.1h0M235.5 485.9h0M236.8 480.8h0M234.3 475.7h0M231.7 473.1h0M229.1 478.2h0M227.8 483.4h0M236.8 470.5h0M239.4 468.0h0M220.1 457.7h0M222.7 455.2h0M218.8 462.9h0M234.3 456.5h0M235.5 460.3h0"/><path stroke="#44bf70" d="M224.0 460.3h0M226.5 457.7h0M229.1 455.2h0M230.4 460.3h0M225.3 480.8h0M227.8 487.2h0M230.4 489.8h0M226.5 475.7h0M233.0 482.1h0"/><path stroke="#fde725" d="M226.5 464.1h0M227.8 466.7h0M229.1 468.0h0"/><path stroke="#44bf70" d="M233.6 452.8h0"/></g>
<g clip-path="url(#p0e983410e0)" fill="none" stroke-width="5.7" class="pt" stroke-opacity="0.8"><path stroke="#440154" d="M175.2 460.8h0M180.3 469.3h0M177.3 538.5h0M185.0 505.1h0M188.0 514.1h0M190.6 519.2h0M194.5 507.7h0M195.7 503.9h0M197.0 510.3h0M198.3 511.6h0M199.6 501.3h0M200.9 515.4h0M204.7 516.7h0M206.0 514.1h0M197.0 466.7h0M198.3 468.0h0M195.7 475.7h0M206.0 489.8h0M207.3 487.2h0M209.9 488.5h0M211.1 473.1h0M212.4 496.2h0M215.0 505.1h0M217.6 502.6h0M220.1 500.0h0M200.9 529.5h0M200.9 530.8h0M200.9 539.8h0M197.0 545.4h0M215.0 530.8h0M222.7 537.2h0M224.0 524.4h0M225.3 529.5h0M230.4 518.0h0M231.7 519.2h0M236.8 515.4h0M238.1 509.0h0M240.7 503.9h0M242.0 510.3h0M244.5 503.9h0M243.2 530.8h0M242.0 483.4h0M244.5 473.1h0M245.8 456.5h0M249.7 462.9h0M253.5 475.7h0M252.2 479.5h0M254.8 489.8h0M252.2 497.5h0M250.9 505.1h0M261.2 510.3h0M268.9 493.6h0M275.3 477.0h0M281.7 481.3h0M260.4 460.8h0M254.3 549.5h0M224.0 510.3h0M231.7 510.3h0M248.4 470.5h0"/></g>
<g id="matplotlib.axis_39">
    <g id="xtick_50">
     <g id="line2d_85">
      <g>
       <use href="#m1504cfccaf" x="173.42" y="554.66" style="stroke: #000000; stroke-width: 0.8"/>
      </g>
     </g>
     <g id="text_85">
      <text style="font-size: 8px;  text-anchor: middle" x="173.42" y="567.74">0.05</text>
     </g>
    </g>
    <g id="xtick_51">
     <g id="line2d_86">
      <g>
       <use href="#m1504cfccaf" x="231.23" y="554.66" style="stroke: #000000; stroke-width: 0.8"/>
      </g>
     </g>
     <g id="text_86">
      <text style="font-size: 8px;  text-anchor: middle" x="231.23" y="567.74">0.10</text>
     </g>
    </g>
   </g>
   <g id="matplotlib.axis_40"/>
   <g id="line2d_87">
    <g clip-path="url(#p0e983410e0)">
     <use href="#m5269b93cc7" x="233.55" y="452.84" style="stroke: #000000; stroke-width: 1.3"/>
    </g>
   </g>
   <g id="patch_98">
    <path d="M 169.50 554.66 
L 169.50 448 
" style="fill: none; stroke: #000000; stroke-width: 0.8; stroke-linejoin: miter; stroke-linecap: square"/>
   </g>
   <g id="patch_99">
    <path d="M 286.84 554.66 
L 286.84 448 
" style="fill: none; stroke: #000000; stroke-width: 0.8; stroke-linejoin: miter; stroke-linecap: square"/>
   </g>
   <g id="patch_100">
    <path d="M 169.50 554.66 
L 286.84 554.66 
" style="fill: none; stroke: #000000; stroke-width: 0.8; stroke-linejoin: miter; stroke-linecap: square"/>
   </g>
   <g id="patch_101">
    <path d="M 169.50 448 
L 286.84 448 
" style="fill: none; stroke: #000000; stroke-width: 0.8; stroke-linejoin: miter; stroke-linecap: square"/>
   </g>
   <g id="text_87">
    <text style="font-size: 9px;  text-anchor: middle" x="228.17" y="442">translate = 0.102</text>
   </g>
  </g>
  <g id="axes_21">
   <g id="patch_102">
    <path d="M 311.82 554.50 
L 428.38 554.50 
L 428.38 447.84 
L 311.82 447.84 
z
" style="fill: #ffffff"/>
   </g>
   <g clip-path="url(#p2c7aaa85d6)" fill="none" stroke-width="5.7" class="pt" stroke-opacity="0.92"><path stroke="#375a8c" d="M348.0 477.1h0M350.5 492.1h0M350.5 504.7h0M353.0 487.1h0M353.0 494.6h0M353.0 502.2h0M353.0 504.7h0M353.0 507.2h0M355.5 492.1h0M355.5 499.7h0M358.1 479.6h0M358.1 507.2h0M358.1 512.2h0M360.6 504.7h0M360.6 507.2h0M360.6 514.7h0M363.1 469.5h0M363.1 472.1h0M363.1 502.2h0M363.1 504.7h0M363.1 507.2h0M363.1 509.7h0M365.6 467.0h0M365.6 469.5h0M365.6 499.7h0M365.6 502.2h0M365.6 504.7h0M365.6 512.2h0M368.1 464.5h0M368.1 509.7h0M368.1 512.2h0M370.6 497.2h0M370.6 509.7h0M373.1 497.2h0M375.6 499.7h0M375.6 504.7h0M375.6 507.2h0M378.2 499.7h0M378.2 502.2h0M380.7 502.2h0M385.7 459.5h0M385.7 497.2h0M388.2 459.5h0M388.2 462.0h0M388.2 464.5h0M388.2 469.5h0M388.2 477.1h0M388.2 479.6h0M390.7 474.6h0M390.7 482.1h0M390.7 489.6h0M393.2 467.0h0M393.2 474.6h0M393.2 484.6h0M393.2 487.1h0"/><path stroke="#1f958b" d="M353.0 497.2h0M353.0 499.7h0M355.5 487.1h0M355.5 489.6h0M355.5 504.7h0M355.5 509.7h0M358.1 482.1h0M358.1 499.7h0M360.6 474.6h0M360.6 489.6h0M360.6 492.1h0M360.6 494.6h0M360.6 499.7h0M363.1 494.6h0M363.1 499.7h0M365.6 472.1h0M365.6 474.6h0M368.1 467.0h0M368.1 479.6h0M368.1 497.2h0M370.6 464.5h0M370.6 474.6h0M370.6 484.6h0M370.6 487.1h0M370.6 489.6h0M370.6 502.2h0M373.1 462.0h0M373.1 467.0h0M373.1 469.5h0M373.1 472.1h0M373.1 474.6h0M373.1 484.6h0M373.1 487.1h0M375.6 467.0h0M375.6 472.1h0M375.6 482.1h0M375.6 484.6h0M378.2 472.1h0M378.2 479.6h0M378.2 482.1h0M378.2 489.6h0M378.2 492.1h0M380.7 484.6h0M385.7 467.0h0M385.7 469.5h0M385.7 474.6h0M385.7 482.1h0M385.7 484.6h0M385.7 489.6h0M388.2 489.6h0M390.7 472.1h0M390.7 484.6h0M390.7 487.1h0M390.7 497.2h0M395.8 494.6h0"/><path stroke="#44bf70" d="M360.6 487.1h0M363.1 492.1h0M365.6 477.1h0M365.6 479.6h0M365.6 492.1h0M368.1 482.1h0M368.1 484.6h0M368.1 489.6h0M375.6 459.5h0M375.6 462.0h0M375.6 469.5h0M378.2 459.5h0M378.2 469.5h0M380.7 454.5h0M380.7 469.5h0M380.7 477.1h0M380.7 489.6h0M383.2 462.0h0M383.2 487.1h0M385.7 457.0h0M385.7 464.5h0M388.2 457.0h0"/></g>
<g clip-path="url(#p2c7aaa85d6)" fill="none" stroke-width="5.7" class="pt" stroke-opacity="0.92"><path stroke="#375a8c" d="M346.1 471.8h0M348.7 474.4h0M347.4 479.5h0M348.7 483.4h0M351.2 488.5h0M352.5 492.3h0M348.7 494.9h0M348.7 509.0h0M351.2 506.4h0M356.4 502.6h0M358.9 509.0h0M361.5 511.6h0M364.1 514.1h0M365.4 518.0h0M360.2 502.6h0M367.9 501.3h0M371.8 498.7h0M374.3 501.3h0M379.5 503.9h0M383.3 502.6h0M387.2 501.3h0M391.0 509.0h0M393.6 510.3h0M389.7 493.6h0M392.3 492.3h0M396.2 488.5h0M397.5 487.2h0M393.6 480.8h0M389.7 478.2h0M391.0 462.9h0M394.9 462.9h0M396.2 471.8h0M419.3 466.7h0M423.1 469.3h0M357.7 477.0h0M360.2 470.5h0M362.8 466.7h0M365.4 462.9h0M385.9 461.6h0M388.5 466.7h0"/><path stroke="#1f958b" d="M358.9 473.1h0M361.5 478.2h0M360.2 483.4h0M357.7 488.5h0M358.9 493.6h0M355.1 496.2h0M357.7 497.5h0M361.5 497.5h0M365.4 496.2h0M367.9 493.6h0M371.8 493.6h0M375.6 488.5h0M378.2 484.6h0M380.8 480.8h0M383.3 479.5h0M385.9 478.2h0M387.2 473.1h0M380.8 473.1h0M376.9 475.7h0M374.3 478.2h0M371.8 480.8h0M369.2 477.0h0M367.9 473.1h0M370.5 468.0h0M373.1 464.1h0M376.9 465.4h0M383.3 468.0h0M379.5 487.2h0M383.3 491.1h0M385.9 487.2h0M387.2 483.4h0M392.3 494.9h0M357.7 505.1h0M355.1 507.7h0"/><path stroke="#44bf70" d="M364.1 478.2h0M365.4 483.4h0M364.1 489.8h0M362.8 475.7h0M380.8 487.2h0M383.3 483.4h0M382.0 471.8h0M383.3 475.7h0M378.2 462.9h0M384.6 453.9h0M380.8 452.6h0"/><path stroke="#375a8c" d="M366.6 506.4h0M370.5 507.7h0M373.6 505.9h0"/><path stroke="#1f958b" d="M369.2 503.9h0"/><path stroke="#375a8c" d="M365.4 510.3h0"/><path stroke="#9bd93c" d="M364.1 478.2h0M364.9 482.1h0"/><path stroke="#44bf70" d="M363.3 485.9h0M365.4 489.8h0"/><path stroke="#fde725" d="M380.8 456.5h0M382.0 460.3h0M380.8 464.1h0M382.0 466.7h0M379.5 468.0h0M378.7 455.2h0M383.3 457.7h0M379.5 461.6h0M383.3 465.4h0"/></g>
<g clip-path="url(#p2c7aaa85d6)" fill="none" stroke-width="5.7" class="pt" stroke-opacity="0.8"><path stroke="#440154" d="M317.1 453.1h0M316.6 460.3h0M317.1 480.8h0M317.9 483.4h0M325.6 545.4h0M328.9 523.9h0M329.9 487.2h0M333.3 494.9h0M337.1 460.8h0M343.5 462.3h0M347.9 452.1h0M347.4 500.0h0M346.1 526.9h0M348.7 529.5h0M352.5 530.8h0M356.4 534.6h0M356.4 539.8h0M351.2 516.7h0M353.8 509.0h0M357.7 461.6h0M358.9 465.4h0M360.2 459.0h0M361.5 519.2h0M364.1 521.8h0M367.9 516.7h0M370.5 512.8h0M373.1 514.1h0M374.3 519.2h0M375.6 516.7h0M379.5 515.4h0M383.3 511.6h0M382.0 507.7h0M373.1 529.5h0M380.8 530.0h0M387.2 538.5h0M396.2 549.5h0M397.5 496.2h0M400.0 497.5h0M405.2 496.2h0M401.3 477.0h0M396.2 478.2h0M394.9 468.0h0M402.6 457.7h0M405.2 461.6h0M409.0 468.0h0M407.7 456.5h0M420.6 460.8h0M416.7 480.8h0M418.0 483.4h0M367.9 454.7h0M371.8 456.5h0M374.3 453.9h0M375.6 459.0h0M374.3 488.5h0M350.0 470.5h0M324.3 452.7h0"/></g>
<g id="matplotlib.axis_41">
    <g id="xtick_52">
     <g id="line2d_88">
      <g>
       <use href="#m1504cfccaf" x="340.57" y="554.50" style="stroke: #000000; stroke-width: 0.8"/>
      </g>
     </g>
     <g id="text_88">
      <text style="font-size: 8px;  text-anchor: middle" x="340.57" y="567.58">0.4</text>
     </g>
    </g>
    <g id="xtick_53">
     <g id="line2d_89">
      <g>
       <use href="#m1504cfccaf" x="375.99" y="554.50" style="stroke: #000000; stroke-width: 0.8"/>
      </g>
     </g>
     <g id="text_89">
      <text style="font-size: 8px;  text-anchor: middle" x="375.99" y="567.58">0.6</text>
     </g>
    </g>
    <g id="xtick_54">
     <g id="line2d_90">
      <g>
       <use href="#m1504cfccaf" x="411.42" y="554.50" style="stroke: #000000; stroke-width: 0.8"/>
      </g>
     </g>
     <g id="text_90">
      <text style="font-size: 8px;  text-anchor: middle" x="411.42" y="567.58">0.8</text>
     </g>
    </g>
   </g>
   <g id="matplotlib.axis_42"/>
   <g id="line2d_91">
    <g clip-path="url(#p2c7aaa85d6)">
     <use href="#m5269b93cc7" x="324.27" y="452.68" style="stroke: #000000; stroke-width: 1.3"/>
    </g>
   </g>
   <g id="patch_103">
    <path d="M 311.82 554.50 
L 311.82 447.84 
" style="fill: none; stroke: #000000; stroke-width: 0.8; stroke-linejoin: miter; stroke-linecap: square"/>
   </g>
   <g id="patch_104">
    <path d="M 428.38 554.50 
L 428.38 447.84 
" style="fill: none; stroke: #000000; stroke-width: 0.8; stroke-linejoin: miter; stroke-linecap: square"/>
   </g>
   <g id="patch_105">
    <path d="M 311.82 554.50 
L 428.38 554.50 
" style="fill: none; stroke: #000000; stroke-width: 0.8; stroke-linejoin: miter; stroke-linecap: square"/>
   </g>
   <g id="patch_106">
    <path d="M 311.82 447.84 
L 428.38 447.84 
" style="fill: none; stroke: #000000; stroke-width: 0.8; stroke-linejoin: miter; stroke-linecap: square"/>
   </g>
   <g id="text_91">
    <text style="font-size: 9px;  text-anchor: middle" x="370.10" y="441.84">scale = 0.308</text>
   </g>
  </g>
  <g id="axes_22">
   <g id="patch_107">
    <path d="M 453.20 554.50 
L 569.76 554.50 
L 569.76 447.68 
L 453.20 447.68 
z
" style="fill: #ffffff"/>
   </g>
   <g clip-path="url(#pdf679615e2)" fill="none" stroke-width="5.4" class="pt" stroke-opacity="0.8"><path stroke="#440154" d="M511.5 546.6h0"/><path stroke="#440154" d="M511.5 540.1h0"/><path stroke="#440154" d="M511.5 540.7h0"/><path stroke="#440154" d="M511.5 549.7h0"/><path stroke="#453581" d="M511.5 538.3h0"/><path stroke="#453581" d="M511.5 537.9h0"/><path stroke="#453581" d="M511.5 535.1h0"/><path stroke="#453581" d="M511.5 534.3h0"/><path stroke="#453581" d="M511.5 530.3h0"/><path stroke="#453581" d="M511.5 530.4h0"/><path stroke="#39558c" d="M511.5 526.9h0"/><path stroke="#39558c" d="M511.5 527.7h0"/><path stroke="#39558c" d="M511.5 527.8h0"/><path stroke="#39558c" d="M511.5 527.9h0"/><path stroke="#2f6b8e" d="M511.5 521.9h0"/><path stroke="#2f6b8e" d="M511.5 521.6h0"/><path stroke="#2f6b8e" d="M511.5 521.3h0"/><path stroke="#2f6b8e" d="M511.5 519.2h0"/><path stroke="#2f6b8e" d="M511.5 520.2h0"/><path stroke="#287c8e" d="M511.5 515.9h0"/><path stroke="#287c8e" d="M511.5 514.1h0"/><path stroke="#287c8e" d="M511.5 517.9h0"/><path stroke="#287c8e" d="M511.5 518.2h0"/><path stroke="#287c8e" d="M511.5 515.9h0"/><path stroke="#287c8e" d="M511.5 518.7h0"/><path stroke="#238a8d" d="M511.5 513.7h0"/><path stroke="#238a8d" d="M511.5 511.3h0"/><path stroke="#238a8d" d="M511.5 511.5h0"/><path stroke="#238a8d" d="M511.5 509.3h0"/><path stroke="#238a8d" d="M511.5 510.7h0"/><path stroke="#238a8d" d="M511.5 511.3h0"/><path stroke="#238a8d" d="M511.5 511.4h0"/><path stroke="#1fa188" d="M511.5 507.5h0"/><path stroke="#1fa188" d="M511.5 508.7h0"/><path stroke="#1fa188" d="M511.5 507.8h0"/><path stroke="#1fa188" d="M511.5 505.3h0"/><path stroke="#1fa188" d="M511.5 507.7h0"/><path stroke="#1fa188" d="M511.5 506.9h0"/><path stroke="#1fa188" d="M511.5 508.7h0"/><path stroke="#1fa188" d="M511.5 504.6h0"/><path stroke="#1fa188" d="M511.5 508.0h0"/><path stroke="#25ab82" d="M511.5 502.3h0"/><path stroke="#25ab82" d="M511.5 499.3h0"/><path stroke="#25ab82" d="M511.5 501.1h0"/><path stroke="#25ab82" d="M511.5 499.4h0"/><path stroke="#25ab82" d="M511.5 500.5h0"/><path stroke="#25ab82" d="M511.5 500.0h0"/><path stroke="#25ab82" d="M511.5 503.1h0"/><path stroke="#25ab82" d="M511.5 500.9h0"/><path stroke="#25ab82" d="M511.5 501.1h0"/><path stroke="#25ab82" d="M511.5 499.3h0"/><path stroke="#25ab82" d="M511.5 457.1h0"/><path stroke="#25ab82" d="M511.5 454.3h0"/><path stroke="#25ab82" d="M511.5 454.4h0"/><path stroke="#25ab82" d="M511.5 453.5h0"/><path stroke="#25ab82" d="M511.5 453.6h0"/><path stroke="#25ab82" d="M511.5 455.9h0"/><path stroke="#25ab82" d="M511.5 454.0h0"/><path stroke="#25ab82" d="M511.5 453.3h0"/><path stroke="#25ab82" d="M511.5 453.2h0"/><path stroke="#25ab82" d="M511.5 452.5h0"/><path stroke="#3aba76" d="M511.5 496.7h0"/><path stroke="#3aba76" d="M511.5 495.5h0"/><path stroke="#3aba76" d="M511.5 498.2h0"/><path stroke="#3aba76" d="M511.5 496.6h0"/><path stroke="#3aba76" d="M511.5 496.9h0"/><path stroke="#3aba76" d="M511.5 497.7h0"/><path stroke="#3aba76" d="M511.5 494.5h0"/><path stroke="#3aba76" d="M511.5 496.6h0"/><path stroke="#3aba76" d="M511.5 493.7h0"/><path stroke="#3aba76" d="M511.5 495.6h0"/><path stroke="#3aba76" d="M511.5 495.5h0"/><path stroke="#3aba76" d="M511.5 495.3h0"/><path stroke="#73d056" d="M511.5 490.0h0"/><path stroke="#73d056" d="M511.5 492.6h0"/><path stroke="#73d056" d="M511.5 491.2h0"/><path stroke="#73d056" d="M511.5 492.2h0"/><path stroke="#73d056" d="M511.5 491.4h0"/><path stroke="#73d056" d="M511.5 492.9h0"/><path stroke="#73d056" d="M511.5 488.6h0"/><path stroke="#73d056" d="M511.5 492.3h0"/><path stroke="#73d056" d="M511.5 490.1h0"/><path stroke="#73d056" d="M511.5 491.9h0"/><path stroke="#73d056" d="M511.5 489.1h0"/><path stroke="#73d056" d="M511.5 490.1h0"/><path stroke="#73d056" d="M511.5 492.7h0"/><path stroke="#73d056" d="M511.5 489.2h0"/><path stroke="#73d056" d="M511.5 488.7h0"/><path stroke="#73d056" d="M511.5 488.9h0"/><path stroke="#90d743" d="M511.5 485.4h0"/><path stroke="#90d743" d="M511.5 487.5h0"/><path stroke="#90d743" d="M511.5 487.3h0"/><path stroke="#90d743" d="M511.5 483.7h0"/><path stroke="#90d743" d="M511.5 485.5h0"/><path stroke="#90d743" d="M511.5 487.4h0"/><path stroke="#90d743" d="M511.5 483.9h0"/><path stroke="#90d743" d="M511.5 485.1h0"/><path stroke="#90d743" d="M511.5 485.4h0"/><path stroke="#90d743" d="M511.5 486.4h0"/><path stroke="#90d743" d="M511.5 486.2h0"/><path stroke="#90d743" d="M511.5 487.1h0"/><path stroke="#90d743" d="M511.5 488.1h0"/><path stroke="#90d743" d="M511.5 483.9h0"/><path stroke="#90d743" d="M511.5 486.0h0"/><path stroke="#90d743" d="M511.5 485.6h0"/><path stroke="#90d743" d="M511.5 486.7h0"/><path stroke="#90d743" d="M511.5 484.6h0"/><path stroke="#9dd93b" d="M511.5 483.0h0"/><path stroke="#9dd93b" d="M511.5 481.3h0"/><path stroke="#9dd93b" d="M511.5 483.0h0"/><path stroke="#9dd93b" d="M511.5 482.5h0"/><path stroke="#9dd93b" d="M511.5 478.4h0"/><path stroke="#9dd93b" d="M511.5 479.9h0"/><path stroke="#9dd93b" d="M511.5 481.0h0"/><path stroke="#9dd93b" d="M511.5 480.6h0"/><path stroke="#9dd93b" d="M511.5 478.8h0"/><path stroke="#9dd93b" d="M511.5 481.4h0"/><path stroke="#9dd93b" d="M511.5 480.2h0"/><path stroke="#9dd93b" d="M511.5 479.8h0"/><path stroke="#9dd93b" d="M511.5 481.4h0"/><path stroke="#9dd93b" d="M511.5 480.6h0"/><path stroke="#9dd93b" d="M511.5 479.4h0"/><path stroke="#9dd93b" d="M511.5 478.7h0"/><path stroke="#9dd93b" d="M511.5 482.4h0"/><path stroke="#9dd93b" d="M511.5 478.5h0"/><path stroke="#9dd93b" d="M511.5 483.1h0"/><path stroke="#ece51b" d="M511.5 474.3h0"/><path stroke="#ece51b" d="M511.5 474.0h0"/><path stroke="#ece51b" d="M511.5 477.3h0"/><path stroke="#ece51b" d="M511.5 476.0h0"/><path stroke="#ece51b" d="M511.5 474.0h0"/><path stroke="#ece51b" d="M511.5 477.9h0"/><path stroke="#ece51b" d="M511.5 474.9h0"/><path stroke="#ece51b" d="M511.5 474.1h0"/><path stroke="#ece51b" d="M511.5 475.5h0"/><path stroke="#ece51b" d="M511.5 474.5h0"/><path stroke="#ece51b" d="M511.5 476.9h0"/><path stroke="#ece51b" d="M511.5 477.0h0"/><path stroke="#ece51b" d="M511.5 476.2h0"/><path stroke="#ece51b" d="M511.5 477.1h0"/><path stroke="#ece51b" d="M511.5 476.3h0"/><path stroke="#ece51b" d="M511.5 473.4h0"/><path stroke="#ece51b" d="M511.5 475.2h0"/><path stroke="#ece51b" d="M511.5 476.3h0"/><path stroke="#ece51b" d="M511.5 476.7h0"/><path stroke="#ece51b" d="M511.5 473.3h0"/><path stroke="#ece51b" d="M511.5 475.8h0"/><path stroke="#ece51b" d="M511.5 473.2h0"/><path stroke="#ece51b" d="M511.5 475.5h0"/><path stroke="#ece51b" d="M511.5 475.5h0"/><path stroke="#ece51b" d="M511.5 473.6h0"/><path stroke="#ece51b" d="M511.5 474.4h0"/><path stroke="#fde725" d="M511.5 470.0h0"/><path stroke="#fde725" d="M511.5 470.8h0"/><path stroke="#fde725" d="M511.5 468.6h0"/><path stroke="#fde725" d="M511.5 470.9h0"/><path stroke="#fde725" d="M511.5 468.4h0"/><path stroke="#fde725" d="M511.5 472.6h0"/><path stroke="#fde725" d="M511.5 470.8h0"/><path stroke="#fde725" d="M511.5 470.3h0"/><path stroke="#fde725" d="M511.5 468.2h0"/><path stroke="#fde725" d="M511.5 471.7h0"/><path stroke="#fde725" d="M511.5 468.9h0"/><path stroke="#fde725" d="M511.5 469.6h0"/><path stroke="#fde725" d="M511.5 469.4h0"/><path stroke="#fde725" d="M511.5 469.8h0"/><path stroke="#fde725" d="M511.5 468.1h0"/><path stroke="#fde725" d="M511.5 471.3h0"/><path stroke="#fde725" d="M511.5 470.9h0"/><path stroke="#fde725" d="M511.5 471.9h0"/><path stroke="#fde725" d="M511.5 472.7h0"/><path stroke="#fde725" d="M511.5 471.9h0"/><path stroke="#fde725" d="M511.5 468.4h0"/><path stroke="#fde725" d="M511.5 468.8h0"/><path stroke="#fde725" d="M511.5 472.3h0"/><path stroke="#fde725" d="M511.5 469.9h0"/><path stroke="#fde725" d="M511.5 470.5h0"/><path stroke="#fde725" d="M511.5 470.0h0"/><path stroke="#fde725" d="M511.5 469.7h0"/><path stroke="#fde725" d="M511.5 471.4h0"/><path stroke="#fde725" d="M511.5 463.1h0"/><path stroke="#fde725" d="M511.5 465.5h0"/><path stroke="#fde725" d="M511.5 464.7h0"/><path stroke="#fde725" d="M511.5 464.7h0"/><path stroke="#fde725" d="M511.5 466.9h0"/><path stroke="#fde725" d="M511.5 467.5h0"/><path stroke="#fde725" d="M511.5 465.8h0"/><path stroke="#fde725" d="M511.5 464.0h0"/><path stroke="#fde725" d="M511.5 463.8h0"/><path stroke="#fde725" d="M511.5 464.2h0"/><path stroke="#fde725" d="M511.5 467.2h0"/><path stroke="#fde725" d="M511.5 463.3h0"/><path stroke="#fde725" d="M511.5 463.8h0"/><path stroke="#fde725" d="M511.5 463.5h0"/><path stroke="#fde725" d="M511.5 465.2h0"/><path stroke="#fde725" d="M511.5 463.3h0"/><path stroke="#fde725" d="M511.5 467.6h0"/><path stroke="#fde725" d="M511.5 467.6h0"/><path stroke="#fde725" d="M511.5 467.7h0"/><path stroke="#fde725" d="M511.5 466.5h0"/><path stroke="#fde725" d="M511.5 466.6h0"/><path stroke="#fde725" d="M511.5 466.9h0"/><path stroke="#fde725" d="M511.5 465.0h0"/><path stroke="#fde725" d="M511.5 467.6h0"/><path stroke="#fde725" d="M511.5 464.9h0"/><path stroke="#fde725" d="M511.5 467.0h0"/><path stroke="#fde725" d="M511.5 464.5h0"/><path stroke="#fde725" d="M511.5 467.7h0"/><path stroke="#fde725" d="M511.5 461.1h0"/><path stroke="#fde725" d="M511.5 458.1h0"/><path stroke="#fde725" d="M511.5 460.0h0"/><path stroke="#fde725" d="M511.5 458.7h0"/><path stroke="#fde725" d="M511.5 459.4h0"/><path stroke="#fde725" d="M511.5 459.7h0"/><path stroke="#fde725" d="M511.5 461.7h0"/><path stroke="#fde725" d="M511.5 459.8h0"/><path stroke="#fde725" d="M511.5 462.5h0"/><path stroke="#fde725" d="M511.5 458.7h0"/><path stroke="#fde725" d="M511.5 458.0h0"/><path stroke="#fde725" d="M511.5 458.5h0"/><path stroke="#fde725" d="M511.5 462.4h0"/><path stroke="#fde725" d="M511.5 461.0h0"/><path stroke="#fde725" d="M511.5 461.1h0"/><path stroke="#fde725" d="M511.5 462.1h0"/><path stroke="#fde725" d="M511.5 459.6h0"/><path stroke="#fde725" d="M511.5 458.8h0"/><path stroke="#fde725" d="M511.5 461.1h0"/><path stroke="#fde725" d="M511.5 458.4h0"/><path stroke="#fde725" d="M511.5 458.8h0"/><path stroke="#fde725" d="M511.5 462.0h0"/><path stroke="#fde725" d="M511.5 458.9h0"/><path stroke="#fde725" d="M511.5 458.3h0"/><path stroke="#fde725" d="M511.5 461.7h0"/><path stroke="#fde725" d="M511.5 459.9h0"/><path stroke="#fde725" d="M511.5 459.5h0"/><path stroke="#fde725" d="M511.5 459.7h0"/></g>
<g id="matplotlib.axis_43">
    <g id="xtick_55">
     <g id="line2d_92">
      <g>
       <use href="#m1504cfccaf" x="458.50" y="554.50" style="stroke: #000000; stroke-width: 0.8"/>
      </g>
     </g>
     <g id="text_92">
      <text style="font-size: 8px;  text-anchor: middle" x="458.50" y="567.58">−0.05</text>
     </g>
    </g>
    <g id="xtick_56">
     <g id="line2d_93">
      <g>
       <use href="#m1504cfccaf" x="511.48" y="554.50" style="stroke: #000000; stroke-width: 0.8"/>
      </g>
     </g>
     <g id="text_93">
      <text style="font-size: 8px;  text-anchor: middle" x="511.48" y="567.58">0.00</text>
     </g>
    </g>
    <g id="xtick_57">
     <g id="line2d_94">
      <g>
       <use href="#m1504cfccaf" x="564.47" y="554.50" style="stroke: #000000; stroke-width: 0.8"/>
      </g>
     </g>
     <g id="text_94">
      <text style="font-size: 8px;  text-anchor: middle" x="564.47" y="567.58">0.05</text>
     </g>
    </g>
   </g>
   <g id="matplotlib.axis_44"/>
   <g id="line2d_95">
    <g clip-path="url(#pdf679615e2)">
     <use href="#m5269b93cc7" x="511.48" y="452.53" style="stroke: #000000; stroke-width: 1.3"/>
    </g>
   </g>
   <g id="patch_108">
    <path d="M 453.20 554.50 
L 453.20 447.68 
" style="fill: none; stroke: #000000; stroke-width: 0.8; stroke-linejoin: miter; stroke-linecap: square"/>
   </g>
   <g id="patch_109">
    <path d="M 569.76 554.50 
L 569.76 447.68 
" style="fill: none; stroke: #000000; stroke-width: 0.8; stroke-linejoin: miter; stroke-linecap: square"/>
   </g>
   <g id="patch_110">
    <path d="M 453.20 554.50 
L 569.76 554.50 
" style="fill: none; stroke: #000000; stroke-width: 0.8; stroke-linejoin: miter; stroke-linecap: square"/>
   </g>
   <g id="patch_111">
    <path d="M 453.20 447.68 
L 569.76 447.68 
" style="fill: none; stroke: #000000; stroke-width: 0.8; stroke-linejoin: miter; stroke-linecap: square"/>
   </g>
   <g id="text_95">
    <text style="font-size: 9px;  text-anchor: middle" x="511.48" y="441.68">shear = 0</text>
   </g>
  </g>
  <g id="axes_23">
   <g id="patch_112">
    <path d="M 594.58 554.50 
L 711.15 554.50 
L 711.15 447.52 
L 594.58 447.52 
z
" style="fill: #ffffff"/>
   </g>
   <g clip-path="url(#p760b879280)" fill="none" stroke-width="5.4" class="pt" stroke-opacity="0.8"><path stroke="#440154" d="M652.9 546.6h0"/><path stroke="#440154" d="M652.9 540.1h0"/><path stroke="#440154" d="M652.9 540.7h0"/><path stroke="#440154" d="M652.9 549.7h0"/><path stroke="#453581" d="M652.9 538.3h0"/><path stroke="#453581" d="M652.9 537.9h0"/><path stroke="#453581" d="M652.9 535.1h0"/><path stroke="#453581" d="M652.9 534.2h0"/><path stroke="#453581" d="M652.9 530.2h0"/><path stroke="#453581" d="M652.9 530.3h0"/><path stroke="#39558c" d="M652.9 526.8h0"/><path stroke="#39558c" d="M652.9 527.6h0"/><path stroke="#39558c" d="M652.9 527.8h0"/><path stroke="#39558c" d="M652.9 527.9h0"/><path stroke="#2f6b8e" d="M652.9 521.8h0"/><path stroke="#2f6b8e" d="M652.9 521.5h0"/><path stroke="#2f6b8e" d="M652.9 521.3h0"/><path stroke="#2f6b8e" d="M652.9 519.1h0"/><path stroke="#2f6b8e" d="M652.9 520.1h0"/><path stroke="#287c8e" d="M652.9 515.8h0"/><path stroke="#287c8e" d="M652.9 514.0h0"/><path stroke="#287c8e" d="M652.9 517.8h0"/><path stroke="#287c8e" d="M652.9 518.1h0"/><path stroke="#287c8e" d="M652.9 515.9h0"/><path stroke="#287c8e" d="M652.9 518.7h0"/><path stroke="#238a8d" d="M652.9 513.6h0"/><path stroke="#238a8d" d="M652.9 511.2h0"/><path stroke="#238a8d" d="M652.9 511.5h0"/><path stroke="#238a8d" d="M652.9 509.3h0"/><path stroke="#238a8d" d="M652.9 510.7h0"/><path stroke="#238a8d" d="M652.9 511.2h0"/><path stroke="#238a8d" d="M652.9 511.3h0"/><path stroke="#1fa188" d="M652.9 507.4h0"/><path stroke="#1fa188" d="M652.9 508.6h0"/><path stroke="#1fa188" d="M652.9 507.7h0"/><path stroke="#1fa188" d="M652.9 505.2h0"/><path stroke="#1fa188" d="M652.9 507.7h0"/><path stroke="#1fa188" d="M652.9 506.8h0"/><path stroke="#1fa188" d="M652.9 508.6h0"/><path stroke="#1fa188" d="M652.9 504.6h0"/><path stroke="#1fa188" d="M652.9 507.9h0"/><path stroke="#25ab82" d="M652.9 502.2h0"/><path stroke="#25ab82" d="M652.9 499.2h0"/><path stroke="#25ab82" d="M652.9 501.0h0"/><path stroke="#25ab82" d="M652.9 499.4h0"/><path stroke="#25ab82" d="M652.9 500.4h0"/><path stroke="#25ab82" d="M652.9 499.9h0"/><path stroke="#25ab82" d="M652.9 503.1h0"/><path stroke="#25ab82" d="M652.9 500.9h0"/><path stroke="#25ab82" d="M652.9 501.0h0"/><path stroke="#25ab82" d="M652.9 499.2h0"/><path stroke="#25ab82" d="M652.9 456.9h0"/><path stroke="#25ab82" d="M652.9 454.2h0"/><path stroke="#25ab82" d="M652.9 454.3h0"/><path stroke="#25ab82" d="M652.9 453.4h0"/><path stroke="#25ab82" d="M652.9 453.5h0"/><path stroke="#25ab82" d="M652.9 455.8h0"/><path stroke="#25ab82" d="M652.9 453.9h0"/><path stroke="#25ab82" d="M652.9 453.1h0"/><path stroke="#25ab82" d="M652.9 453.0h0"/><path stroke="#25ab82" d="M652.9 452.4h0"/><path stroke="#3aba76" d="M652.9 496.6h0"/><path stroke="#3aba76" d="M652.9 495.5h0"/><path stroke="#3aba76" d="M652.9 498.1h0"/><path stroke="#3aba76" d="M652.9 496.5h0"/><path stroke="#3aba76" d="M652.9 496.8h0"/><path stroke="#3aba76" d="M652.9 497.7h0"/><path stroke="#3aba76" d="M652.9 494.4h0"/><path stroke="#3aba76" d="M652.9 496.5h0"/><path stroke="#3aba76" d="M652.9 493.6h0"/><path stroke="#3aba76" d="M652.9 495.5h0"/><path stroke="#3aba76" d="M652.9 495.4h0"/><path stroke="#3aba76" d="M652.9 495.3h0"/><path stroke="#73d056" d="M652.9 489.9h0"/><path stroke="#73d056" d="M652.9 492.5h0"/><path stroke="#73d056" d="M652.9 491.1h0"/><path stroke="#73d056" d="M652.9 492.1h0"/><path stroke="#73d056" d="M652.9 491.3h0"/><path stroke="#73d056" d="M652.9 492.8h0"/><path stroke="#73d056" d="M652.9 488.5h0"/><path stroke="#73d056" d="M652.9 492.2h0"/><path stroke="#73d056" d="M652.9 490.0h0"/><path stroke="#73d056" d="M652.9 491.8h0"/><path stroke="#73d056" d="M652.9 489.0h0"/><path stroke="#73d056" d="M652.9 490.0h0"/><path stroke="#73d056" d="M652.9 492.6h0"/><path stroke="#73d056" d="M652.9 489.1h0"/><path stroke="#73d056" d="M652.9 488.6h0"/><path stroke="#73d056" d="M652.9 488.8h0"/><path stroke="#90d743" d="M652.9 485.3h0"/><path stroke="#90d743" d="M652.9 487.4h0"/><path stroke="#90d743" d="M652.9 487.2h0"/><path stroke="#90d743" d="M652.9 483.6h0"/><path stroke="#90d743" d="M652.9 485.4h0"/><path stroke="#90d743" d="M652.9 487.3h0"/><path stroke="#90d743" d="M652.9 483.8h0"/><path stroke="#90d743" d="M652.9 485.0h0"/><path stroke="#90d743" d="M652.9 485.3h0"/><path stroke="#90d743" d="M652.9 486.3h0"/><path stroke="#90d743" d="M652.9 486.1h0"/><path stroke="#90d743" d="M652.9 487.0h0"/><path stroke="#90d743" d="M652.9 488.0h0"/><path stroke="#90d743" d="M652.9 483.8h0"/><path stroke="#90d743" d="M652.9 485.8h0"/><path stroke="#90d743" d="M652.9 485.5h0"/><path stroke="#90d743" d="M652.9 486.6h0"/><path stroke="#90d743" d="M652.9 484.5h0"/><path stroke="#9dd93b" d="M652.9 482.9h0"/><path stroke="#9dd93b" d="M652.9 481.2h0"/><path stroke="#9dd93b" d="M652.9 482.9h0"/><path stroke="#9dd93b" d="M652.9 482.4h0"/><path stroke="#9dd93b" d="M652.9 478.3h0"/><path stroke="#9dd93b" d="M652.9 479.8h0"/><path stroke="#9dd93b" d="M652.9 480.9h0"/><path stroke="#9dd93b" d="M652.9 480.5h0"/><path stroke="#9dd93b" d="M652.9 478.7h0"/><path stroke="#9dd93b" d="M652.9 481.3h0"/><path stroke="#9dd93b" d="M652.9 480.1h0"/><path stroke="#9dd93b" d="M652.9 479.7h0"/><path stroke="#9dd93b" d="M652.9 481.3h0"/><path stroke="#9dd93b" d="M652.9 480.5h0"/><path stroke="#9dd93b" d="M652.9 479.3h0"/><path stroke="#9dd93b" d="M652.9 478.6h0"/><path stroke="#9dd93b" d="M652.9 482.3h0"/><path stroke="#9dd93b" d="M652.9 478.4h0"/><path stroke="#9dd93b" d="M652.9 483.0h0"/><path stroke="#ece51b" d="M652.9 474.2h0"/><path stroke="#ece51b" d="M652.9 473.9h0"/><path stroke="#ece51b" d="M652.9 477.2h0"/><path stroke="#ece51b" d="M652.9 475.8h0"/><path stroke="#ece51b" d="M652.9 473.9h0"/><path stroke="#ece51b" d="M652.9 477.8h0"/><path stroke="#ece51b" d="M652.9 474.8h0"/><path stroke="#ece51b" d="M652.9 474.0h0"/><path stroke="#ece51b" d="M652.9 475.4h0"/><path stroke="#ece51b" d="M652.9 474.3h0"/><path stroke="#ece51b" d="M652.9 476.8h0"/><path stroke="#ece51b" d="M652.9 476.9h0"/><path stroke="#ece51b" d="M652.9 476.1h0"/><path stroke="#ece51b" d="M652.9 477.0h0"/><path stroke="#ece51b" d="M652.9 476.2h0"/><path stroke="#ece51b" d="M652.9 473.2h0"/><path stroke="#ece51b" d="M652.9 475.1h0"/><path stroke="#ece51b" d="M652.9 476.2h0"/><path stroke="#ece51b" d="M652.9 476.6h0"/><path stroke="#ece51b" d="M652.9 473.2h0"/><path stroke="#ece51b" d="M652.9 475.7h0"/><path stroke="#ece51b" d="M652.9 473.1h0"/><path stroke="#ece51b" d="M652.9 475.4h0"/><path stroke="#ece51b" d="M652.9 475.3h0"/><path stroke="#ece51b" d="M652.9 473.5h0"/><path stroke="#ece51b" d="M652.9 474.2h0"/><path stroke="#fde725" d="M652.9 469.9h0"/><path stroke="#fde725" d="M652.9 470.7h0"/><path stroke="#fde725" d="M652.9 468.5h0"/><path stroke="#fde725" d="M652.9 470.8h0"/><path stroke="#fde725" d="M652.9 468.2h0"/><path stroke="#fde725" d="M652.9 472.4h0"/><path stroke="#fde725" d="M652.9 470.7h0"/><path stroke="#fde725" d="M652.9 470.2h0"/><path stroke="#fde725" d="M652.9 468.1h0"/><path stroke="#fde725" d="M652.9 471.5h0"/><path stroke="#fde725" d="M652.9 468.8h0"/><path stroke="#fde725" d="M652.9 469.5h0"/><path stroke="#fde725" d="M652.9 469.3h0"/><path stroke="#fde725" d="M652.9 469.7h0"/><path stroke="#fde725" d="M652.9 468.0h0"/><path stroke="#fde725" d="M652.9 471.1h0"/><path stroke="#fde725" d="M652.9 470.8h0"/><path stroke="#fde725" d="M652.9 471.8h0"/><path stroke="#fde725" d="M652.9 472.5h0"/><path stroke="#fde725" d="M652.9 471.7h0"/><path stroke="#fde725" d="M652.9 468.3h0"/><path stroke="#fde725" d="M652.9 468.6h0"/><path stroke="#fde725" d="M652.9 472.2h0"/><path stroke="#fde725" d="M652.9 469.8h0"/><path stroke="#fde725" d="M652.9 470.4h0"/><path stroke="#fde725" d="M652.9 469.9h0"/><path stroke="#fde725" d="M652.9 469.5h0"/><path stroke="#fde725" d="M652.9 471.3h0"/><path stroke="#fde725" d="M652.9 462.9h0"/><path stroke="#fde725" d="M652.9 465.4h0"/><path stroke="#fde725" d="M652.9 464.6h0"/><path stroke="#fde725" d="M652.9 464.5h0"/><path stroke="#fde725" d="M652.9 466.8h0"/><path stroke="#fde725" d="M652.9 467.4h0"/><path stroke="#fde725" d="M652.9 465.6h0"/><path stroke="#fde725" d="M652.9 463.9h0"/><path stroke="#fde725" d="M652.9 463.6h0"/><path stroke="#fde725" d="M652.9 464.1h0"/><path stroke="#fde725" d="M652.9 467.1h0"/><path stroke="#fde725" d="M652.9 463.2h0"/><path stroke="#fde725" d="M652.9 463.7h0"/><path stroke="#fde725" d="M652.9 463.3h0"/><path stroke="#fde725" d="M652.9 465.1h0"/><path stroke="#fde725" d="M652.9 463.2h0"/><path stroke="#fde725" d="M652.9 467.4h0"/><path stroke="#fde725" d="M652.9 467.5h0"/><path stroke="#fde725" d="M652.9 467.6h0"/><path stroke="#fde725" d="M652.9 466.4h0"/><path stroke="#fde725" d="M652.9 466.4h0"/><path stroke="#fde725" d="M652.9 466.7h0"/><path stroke="#fde725" d="M652.9 464.9h0"/><path stroke="#fde725" d="M652.9 467.5h0"/><path stroke="#fde725" d="M652.9 464.8h0"/><path stroke="#fde725" d="M652.9 466.8h0"/><path stroke="#fde725" d="M652.9 464.3h0"/><path stroke="#fde725" d="M652.9 467.6h0"/><path stroke="#fde725" d="M652.9 461.0h0"/><path stroke="#fde725" d="M652.9 457.9h0"/><path stroke="#fde725" d="M652.9 459.9h0"/><path stroke="#fde725" d="M652.9 458.5h0"/><path stroke="#fde725" d="M652.9 459.3h0"/><path stroke="#fde725" d="M652.9 459.5h0"/><path stroke="#fde725" d="M652.9 461.6h0"/><path stroke="#fde725" d="M652.9 459.7h0"/><path stroke="#fde725" d="M652.9 462.3h0"/><path stroke="#fde725" d="M652.9 458.6h0"/><path stroke="#fde725" d="M652.9 457.8h0"/><path stroke="#fde725" d="M652.9 458.3h0"/><path stroke="#fde725" d="M652.9 462.3h0"/><path stroke="#fde725" d="M652.9 460.9h0"/><path stroke="#fde725" d="M652.9 461.0h0"/><path stroke="#fde725" d="M652.9 462.0h0"/><path stroke="#fde725" d="M652.9 459.5h0"/><path stroke="#fde725" d="M652.9 458.6h0"/><path stroke="#fde725" d="M652.9 461.0h0"/><path stroke="#fde725" d="M652.9 458.3h0"/><path stroke="#fde725" d="M652.9 458.6h0"/><path stroke="#fde725" d="M652.9 461.9h0"/><path stroke="#fde725" d="M652.9 458.8h0"/><path stroke="#fde725" d="M652.9 458.2h0"/><path stroke="#fde725" d="M652.9 461.6h0"/><path stroke="#fde725" d="M652.9 459.7h0"/><path stroke="#fde725" d="M652.9 459.4h0"/><path stroke="#fde725" d="M652.9 459.5h0"/></g>
<g id="matplotlib.axis_45">
    <g id="xtick_58">
     <g id="line2d_96">
      <g>
       <use href="#m1504cfccaf" x="599.88" y="554.50" style="stroke: #000000; stroke-width: 0.8"/>
      </g>
     </g>
     <g id="text_96">
      <text style="font-size: 8px;  text-anchor: middle" x="599.88" y="567.58">−0.05</text>
     </g>
    </g>
    <g id="xtick_59">
     <g id="line2d_97">
      <g>
       <use href="#m1504cfccaf" x="652.86" y="554.50" style="stroke: #000000; stroke-width: 0.8"/>
      </g>
     </g>
     <g id="text_97">
      <text style="font-size: 8px;  text-anchor: middle" x="652.86" y="567.58">0.00</text>
     </g>
    </g>
    <g id="xtick_60">
     <g id="line2d_98">
      <g>
       <use href="#m1504cfccaf" x="705.85" y="554.50" style="stroke: #000000; stroke-width: 0.8"/>
      </g>
     </g>
     <g id="text_98">
      <text style="font-size: 8px;  text-anchor: middle" x="705.85" y="567.58">0.05</text>
     </g>
    </g>
   </g>
   <g id="matplotlib.axis_46"/>
   <g id="line2d_99">
    <g clip-path="url(#p760b879280)">
     <use href="#m5269b93cc7" x="652.86" y="452.38" style="stroke: #000000; stroke-width: 1.3"/>
    </g>
   </g>
   <g id="patch_113">
    <path d="M 594.58 554.50 
L 594.58 447.52 
" style="fill: none; stroke: #000000; stroke-width: 0.8; stroke-linejoin: miter; stroke-linecap: square"/>
   </g>
   <g id="patch_114">
    <path d="M 711.15 554.50 
L 711.15 447.52 
" style="fill: none; stroke: #000000; stroke-width: 0.8; stroke-linejoin: miter; stroke-linecap: square"/>
   </g>
   <g id="patch_115">
    <path d="M 594.58 554.50 
L 711.15 554.50 
" style="fill: none; stroke: #000000; stroke-width: 0.8; stroke-linejoin: miter; stroke-linecap: square"/>
   </g>
   <g id="patch_116">
    <path d="M 594.58 447.52 
L 711.15 447.52 
" style="fill: none; stroke: #000000; stroke-width: 0.8; stroke-linejoin: miter; stroke-linecap: square"/>
   </g>
   <g id="text_99">
    <text style="font-size: 9px;  text-anchor: middle" x="652.86" y="441.52">perspective = 0</text>
   </g>
  </g>
  <g id="axes_24">
   <g id="patch_117">
    <path d="M 735.97 554.35 
L 852.84 554.35 
L 852.84 447.37 
L 735.97 447.37 
z
" style="fill: #ffffff"/>
   </g>
   <g clip-path="url(#pfccd49e621)" fill="none" stroke-width="5.4" class="pt" stroke-opacity="0.8"><path stroke="#440154" d="M794.4 546.4h0"/><path stroke="#440154" d="M794.4 539.9h0"/><path stroke="#440154" d="M794.4 540.5h0"/><path stroke="#440154" d="M794.4 549.6h0"/><path stroke="#453581" d="M794.4 538.1h0"/><path stroke="#453581" d="M794.4 537.8h0"/><path stroke="#453581" d="M794.4 534.9h0"/><path stroke="#453581" d="M794.4 534.1h0"/><path stroke="#453581" d="M794.4 530.1h0"/><path stroke="#453581" d="M794.4 530.2h0"/><path stroke="#39558c" d="M794.4 526.7h0"/><path stroke="#39558c" d="M794.4 527.5h0"/><path stroke="#39558c" d="M794.4 527.6h0"/><path stroke="#39558c" d="M794.4 527.7h0"/><path stroke="#2f6b8e" d="M794.4 521.7h0"/><path stroke="#2f6b8e" d="M794.4 521.4h0"/><path stroke="#2f6b8e" d="M794.4 521.1h0"/><path stroke="#2f6b8e" d="M794.4 519.0h0"/><path stroke="#2f6b8e" d="M794.4 520.0h0"/><path stroke="#287c8e" d="M794.4 515.7h0"/><path stroke="#287c8e" d="M794.4 513.9h0"/><path stroke="#287c8e" d="M794.4 517.7h0"/><path stroke="#287c8e" d="M794.4 517.9h0"/><path stroke="#287c8e" d="M794.4 515.7h0"/><path stroke="#287c8e" d="M794.4 518.5h0"/><path stroke="#238a8d" d="M794.4 513.4h0"/><path stroke="#238a8d" d="M794.4 511.1h0"/><path stroke="#238a8d" d="M794.4 511.3h0"/><path stroke="#238a8d" d="M794.4 509.1h0"/><path stroke="#238a8d" d="M794.4 510.5h0"/><path stroke="#238a8d" d="M794.4 511.1h0"/><path stroke="#238a8d" d="M794.4 511.2h0"/><path stroke="#1fa188" d="M794.4 507.3h0"/><path stroke="#1fa188" d="M794.4 508.4h0"/><path stroke="#1fa188" d="M794.4 507.5h0"/><path stroke="#1fa188" d="M794.4 505.1h0"/><path stroke="#1fa188" d="M794.4 507.5h0"/><path stroke="#1fa188" d="M794.4 506.7h0"/><path stroke="#1fa188" d="M794.4 508.5h0"/><path stroke="#1fa188" d="M794.4 504.4h0"/><path stroke="#1fa188" d="M794.4 507.7h0"/><path stroke="#25ab82" d="M794.4 502.0h0"/><path stroke="#25ab82" d="M794.4 499.0h0"/><path stroke="#25ab82" d="M794.4 500.9h0"/><path stroke="#25ab82" d="M794.4 499.2h0"/><path stroke="#25ab82" d="M794.4 500.2h0"/><path stroke="#25ab82" d="M794.4 499.7h0"/><path stroke="#25ab82" d="M794.4 502.9h0"/><path stroke="#25ab82" d="M794.4 500.7h0"/><path stroke="#25ab82" d="M794.4 500.9h0"/><path stroke="#25ab82" d="M794.4 499.1h0"/><path stroke="#25ab82" d="M794.4 456.8h0"/><path stroke="#25ab82" d="M794.4 454.0h0"/><path stroke="#25ab82" d="M794.4 454.1h0"/><path stroke="#25ab82" d="M794.4 453.2h0"/><path stroke="#25ab82" d="M794.4 453.3h0"/><path stroke="#25ab82" d="M794.4 455.6h0"/><path stroke="#25ab82" d="M794.4 453.7h0"/><path stroke="#25ab82" d="M794.4 453.0h0"/><path stroke="#25ab82" d="M794.4 452.9h0"/><path stroke="#25ab82" d="M794.4 452.2h0"/><path stroke="#3aba76" d="M794.4 496.5h0"/><path stroke="#3aba76" d="M794.4 495.3h0"/><path stroke="#3aba76" d="M794.4 497.9h0"/><path stroke="#3aba76" d="M794.4 496.3h0"/><path stroke="#3aba76" d="M794.4 496.7h0"/><path stroke="#3aba76" d="M794.4 497.5h0"/><path stroke="#3aba76" d="M794.4 494.2h0"/><path stroke="#3aba76" d="M794.4 496.4h0"/><path stroke="#3aba76" d="M794.4 493.4h0"/><path stroke="#3aba76" d="M794.4 495.3h0"/><path stroke="#3aba76" d="M794.4 495.3h0"/><path stroke="#3aba76" d="M794.4 495.1h0"/><path stroke="#73d056" d="M794.4 489.8h0"/><path stroke="#73d056" d="M794.4 492.4h0"/><path stroke="#73d056" d="M794.4 491.0h0"/><path stroke="#73d056" d="M794.4 491.9h0"/><path stroke="#73d056" d="M794.4 491.1h0"/><path stroke="#73d056" d="M794.4 492.6h0"/><path stroke="#73d056" d="M794.4 488.4h0"/><path stroke="#73d056" d="M794.4 492.1h0"/><path stroke="#73d056" d="M794.4 489.8h0"/><path stroke="#73d056" d="M794.4 491.6h0"/><path stroke="#73d056" d="M794.4 488.8h0"/><path stroke="#73d056" d="M794.4 489.9h0"/><path stroke="#73d056" d="M794.4 492.5h0"/><path stroke="#73d056" d="M794.4 489.0h0"/><path stroke="#73d056" d="M794.4 488.5h0"/><path stroke="#73d056" d="M794.4 488.7h0"/><path stroke="#90d743" d="M794.4 485.2h0"/><path stroke="#90d743" d="M794.4 487.3h0"/><path stroke="#90d743" d="M794.4 487.0h0"/><path stroke="#90d743" d="M794.4 483.4h0"/><path stroke="#90d743" d="M794.4 485.3h0"/><path stroke="#90d743" d="M794.4 487.1h0"/><path stroke="#90d743" d="M794.4 483.6h0"/><path stroke="#90d743" d="M794.4 484.8h0"/><path stroke="#90d743" d="M794.4 485.2h0"/><path stroke="#90d743" d="M794.4 486.1h0"/><path stroke="#90d743" d="M794.4 486.0h0"/><path stroke="#90d743" d="M794.4 486.8h0"/><path stroke="#90d743" d="M794.4 487.8h0"/><path stroke="#90d743" d="M794.4 483.7h0"/><path stroke="#90d743" d="M794.4 485.7h0"/><path stroke="#90d743" d="M794.4 485.3h0"/><path stroke="#90d743" d="M794.4 486.4h0"/><path stroke="#90d743" d="M794.4 484.3h0"/><path stroke="#9dd93b" d="M794.4 482.7h0"/><path stroke="#9dd93b" d="M794.4 481.0h0"/><path stroke="#9dd93b" d="M794.4 482.7h0"/><path stroke="#9dd93b" d="M794.4 482.3h0"/><path stroke="#9dd93b" d="M794.4 478.1h0"/><path stroke="#9dd93b" d="M794.4 479.6h0"/><path stroke="#9dd93b" d="M794.4 480.8h0"/><path stroke="#9dd93b" d="M794.4 480.3h0"/><path stroke="#9dd93b" d="M794.4 478.6h0"/><path stroke="#9dd93b" d="M794.4 481.2h0"/><path stroke="#9dd93b" d="M794.4 480.0h0"/><path stroke="#9dd93b" d="M794.4 479.5h0"/><path stroke="#9dd93b" d="M794.4 481.1h0"/><path stroke="#9dd93b" d="M794.4 480.3h0"/><path stroke="#9dd93b" d="M794.4 479.1h0"/><path stroke="#9dd93b" d="M794.4 478.4h0"/><path stroke="#9dd93b" d="M794.4 482.1h0"/><path stroke="#9dd93b" d="M794.4 478.3h0"/><path stroke="#9dd93b" d="M794.4 482.8h0"/><path stroke="#ece51b" d="M794.4 474.0h0"/><path stroke="#ece51b" d="M794.4 473.8h0"/><path stroke="#ece51b" d="M794.4 477.1h0"/><path stroke="#ece51b" d="M794.4 475.7h0"/><path stroke="#ece51b" d="M794.4 473.7h0"/><path stroke="#ece51b" d="M794.4 477.7h0"/><path stroke="#ece51b" d="M794.4 474.7h0"/><path stroke="#ece51b" d="M794.4 473.8h0"/><path stroke="#ece51b" d="M794.4 475.2h0"/><path stroke="#ece51b" d="M794.4 474.2h0"/><path stroke="#ece51b" d="M794.4 476.6h0"/><path stroke="#ece51b" d="M794.4 476.8h0"/><path stroke="#ece51b" d="M794.4 476.0h0"/><path stroke="#ece51b" d="M794.4 476.9h0"/><path stroke="#ece51b" d="M794.4 476.0h0"/><path stroke="#ece51b" d="M794.4 473.1h0"/><path stroke="#ece51b" d="M794.4 474.9h0"/><path stroke="#ece51b" d="M794.4 476.1h0"/><path stroke="#ece51b" d="M794.4 476.4h0"/><path stroke="#ece51b" d="M794.4 473.1h0"/><path stroke="#ece51b" d="M794.4 475.6h0"/><path stroke="#ece51b" d="M794.4 472.9h0"/><path stroke="#ece51b" d="M794.4 475.2h0"/><path stroke="#ece51b" d="M794.4 475.2h0"/><path stroke="#ece51b" d="M794.4 473.3h0"/><path stroke="#ece51b" d="M794.4 474.1h0"/><path stroke="#fde725" d="M794.4 469.8h0"/><path stroke="#fde725" d="M794.4 470.5h0"/><path stroke="#fde725" d="M794.4 468.3h0"/><path stroke="#fde725" d="M794.4 470.6h0"/><path stroke="#fde725" d="M794.4 468.1h0"/><path stroke="#fde725" d="M794.4 472.3h0"/><path stroke="#fde725" d="M794.4 470.5h0"/><path stroke="#fde725" d="M794.4 470.1h0"/><path stroke="#fde725" d="M794.4 467.9h0"/><path stroke="#fde725" d="M794.4 471.4h0"/><path stroke="#fde725" d="M794.4 468.7h0"/><path stroke="#fde725" d="M794.4 469.3h0"/><path stroke="#fde725" d="M794.4 469.1h0"/><path stroke="#fde725" d="M794.4 469.5h0"/><path stroke="#fde725" d="M794.4 467.8h0"/><path stroke="#fde725" d="M794.4 471.0h0"/><path stroke="#fde725" d="M794.4 470.7h0"/><path stroke="#fde725" d="M794.4 471.6h0"/><path stroke="#fde725" d="M794.4 472.4h0"/><path stroke="#fde725" d="M794.4 471.6h0"/><path stroke="#fde725" d="M794.4 468.1h0"/><path stroke="#fde725" d="M794.4 468.5h0"/><path stroke="#fde725" d="M794.4 472.1h0"/><path stroke="#fde725" d="M794.4 469.7h0"/><path stroke="#fde725" d="M794.4 470.3h0"/><path stroke="#fde725" d="M794.4 469.7h0"/><path stroke="#fde725" d="M794.4 469.4h0"/><path stroke="#fde725" d="M794.4 471.1h0"/><path stroke="#fde725" d="M794.4 462.8h0"/><path stroke="#fde725" d="M794.4 465.2h0"/><path stroke="#fde725" d="M794.4 464.4h0"/><path stroke="#fde725" d="M794.4 464.4h0"/><path stroke="#fde725" d="M794.4 466.6h0"/><path stroke="#fde725" d="M794.4 467.2h0"/><path stroke="#fde725" d="M794.4 465.5h0"/><path stroke="#fde725" d="M794.4 463.7h0"/><path stroke="#fde725" d="M794.4 463.5h0"/><path stroke="#fde725" d="M794.4 463.9h0"/><path stroke="#fde725" d="M794.4 466.9h0"/><path stroke="#fde725" d="M794.4 463.0h0"/><path stroke="#fde725" d="M794.4 463.6h0"/><path stroke="#fde725" d="M794.4 463.2h0"/><path stroke="#fde725" d="M794.4 464.9h0"/><path stroke="#fde725" d="M794.4 463.0h0"/><path stroke="#fde725" d="M794.4 467.3h0"/><path stroke="#fde725" d="M794.4 467.4h0"/><path stroke="#fde725" d="M794.4 467.4h0"/><path stroke="#fde725" d="M794.4 466.3h0"/><path stroke="#fde725" d="M794.4 466.3h0"/><path stroke="#fde725" d="M794.4 466.6h0"/><path stroke="#fde725" d="M794.4 464.7h0"/><path stroke="#fde725" d="M794.4 467.3h0"/><path stroke="#fde725" d="M794.4 464.6h0"/><path stroke="#fde725" d="M794.4 466.7h0"/><path stroke="#fde725" d="M794.4 464.2h0"/><path stroke="#fde725" d="M794.4 467.4h0"/><path stroke="#fde725" d="M794.4 460.8h0"/><path stroke="#fde725" d="M794.4 457.8h0"/><path stroke="#fde725" d="M794.4 459.7h0"/><path stroke="#fde725" d="M794.4 458.4h0"/><path stroke="#fde725" d="M794.4 459.1h0"/><path stroke="#fde725" d="M794.4 459.4h0"/><path stroke="#fde725" d="M794.4 461.4h0"/><path stroke="#fde725" d="M794.4 459.6h0"/><path stroke="#fde725" d="M794.4 462.2h0"/><path stroke="#fde725" d="M794.4 458.4h0"/><path stroke="#fde725" d="M794.4 457.7h0"/><path stroke="#fde725" d="M794.4 458.2h0"/><path stroke="#fde725" d="M794.4 462.1h0"/><path stroke="#fde725" d="M794.4 460.7h0"/><path stroke="#fde725" d="M794.4 460.8h0"/><path stroke="#fde725" d="M794.4 461.8h0"/><path stroke="#fde725" d="M794.4 459.3h0"/><path stroke="#fde725" d="M794.4 458.5h0"/><path stroke="#fde725" d="M794.4 460.8h0"/><path stroke="#fde725" d="M794.4 458.1h0"/><path stroke="#fde725" d="M794.4 458.5h0"/><path stroke="#fde725" d="M794.4 461.7h0"/><path stroke="#fde725" d="M794.4 458.6h0"/><path stroke="#fde725" d="M794.4 458.0h0"/><path stroke="#fde725" d="M794.4 461.4h0"/><path stroke="#fde725" d="M794.4 459.6h0"/><path stroke="#fde725" d="M794.4 459.2h0"/><path stroke="#fde725" d="M794.4 459.4h0"/></g>
<g id="matplotlib.axis_47">
    <g id="xtick_61">
     <g id="line2d_100">
      <g>
       <use href="#m1504cfccaf" x="741.28" y="554.35" style="stroke: #000000; stroke-width: 0.8"/>
      </g>
     </g>
     <g id="text_100">
      <text style="font-size: 8px;  text-anchor: middle" x="741.28" y="567.43">−0.05</text>
     </g>
    </g>
    <g id="xtick_62">
     <g id="line2d_101">
      <g>
       <use href="#m1504cfccaf" x="794.40" y="554.35" style="stroke: #000000; stroke-width: 0.8"/>
      </g>
     </g>
     <g id="text_101">
      <text style="font-size: 8px;  text-anchor: middle" x="794.40" y="567.43">0.00</text>
     </g>
    </g>
    <g id="xtick_63">
     <g id="line2d_102">
      <g>
       <use href="#m1504cfccaf" x="847.53" y="554.35" style="stroke: #000000; stroke-width: 0.8"/>
      </g>
     </g>
     <g id="text_102">
      <text style="font-size: 8px;  text-anchor: middle" x="847.53" y="567.43">0.05</text>
     </g>
    </g>
   </g>
   <g id="matplotlib.axis_48"/>
   <g id="line2d_103">
    <g clip-path="url(#pfccd49e621)">
     <use href="#m5269b93cc7" x="794.40" y="452.23" style="stroke: #000000; stroke-width: 1.3"/>
    </g>
   </g>
   <g id="patch_118">
    <path d="M 735.97 554.35 
L 735.97 447.37 
" style="fill: none; stroke: #000000; stroke-width: 0.8; stroke-linejoin: miter; stroke-linecap: square"/>
   </g>
   <g id="patch_119">
    <path d="M 852.84 554.35 
L 852.84 447.37 
" style="fill: none; stroke: #000000; stroke-width: 0.8; stroke-linejoin: miter; stroke-linecap: square"/>
   </g>
   <g id="patch_120">
    <path d="M 735.97 554.35 
L 852.84 554.35 
" style="fill: none; stroke: #000000; stroke-width: 0.8; stroke-linejoin: miter; stroke-linecap: square"/>
   </g>
   <g id="patch_121">
    <path d="M 735.97 447.37 
L 852.84 447.37 
" style="fill: none; stroke: #000000; stroke-width: 0.8; stroke-linejoin: miter; stroke-linecap: square"/>
   </g>
   <g id="text_103">
    <text style="font-size: 9px;  text-anchor: middle" x="794.40" y="441.37">flipud = 0</text>
   </g>
  </g>
  <g id="axes_25">
   <g id="patch_122">
    <path d="M 27.96 697.72 
L 144.52 697.72 
L 144.52 591.37 
L 27.96 591.37 
z
" style="fill: #ffffff"/>
   </g>
   <g clip-path="url(#pf5cbb42195)" fill="none" stroke-width="5.4" class="pt" stroke-opacity="0.8"><path stroke="#440154" d="M86.2 689.8h0"/><path stroke="#440154" d="M86.2 683.4h0"/><path stroke="#440154" d="M86.2 684.0h0"/><path stroke="#440154" d="M86.2 693.0h0"/><path stroke="#453581" d="M86.2 681.6h0"/><path stroke="#453581" d="M86.2 681.2h0"/><path stroke="#453581" d="M86.2 678.4h0"/><path stroke="#453581" d="M86.2 677.6h0"/><path stroke="#453581" d="M86.2 673.6h0"/><path stroke="#453581" d="M86.2 673.7h0"/><path stroke="#39558c" d="M86.2 670.2h0"/><path stroke="#39558c" d="M86.2 671.0h0"/><path stroke="#39558c" d="M86.2 671.1h0"/><path stroke="#39558c" d="M86.2 671.3h0"/><path stroke="#2f6b8e" d="M86.2 665.2h0"/><path stroke="#2f6b8e" d="M86.2 664.9h0"/><path stroke="#2f6b8e" d="M86.2 664.7h0"/><path stroke="#2f6b8e" d="M86.2 662.5h0"/><path stroke="#2f6b8e" d="M86.2 663.5h0"/><path stroke="#287c8e" d="M86.2 659.3h0"/><path stroke="#287c8e" d="M86.2 657.5h0"/><path stroke="#287c8e" d="M86.2 661.3h0"/><path stroke="#287c8e" d="M86.2 661.5h0"/><path stroke="#287c8e" d="M86.2 659.3h0"/><path stroke="#287c8e" d="M86.2 662.1h0"/><path stroke="#238a8d" d="M86.2 657.0h0"/><path stroke="#238a8d" d="M86.2 654.7h0"/><path stroke="#238a8d" d="M86.2 654.9h0"/><path stroke="#238a8d" d="M86.2 652.7h0"/><path stroke="#238a8d" d="M86.2 654.1h0"/><path stroke="#238a8d" d="M86.2 654.7h0"/><path stroke="#238a8d" d="M86.2 654.8h0"/><path stroke="#1fa188" d="M86.2 650.9h0"/><path stroke="#1fa188" d="M86.2 652.1h0"/><path stroke="#1fa188" d="M86.2 651.2h0"/><path stroke="#1fa188" d="M86.2 648.7h0"/><path stroke="#1fa188" d="M86.2 651.1h0"/><path stroke="#1fa188" d="M86.2 650.3h0"/><path stroke="#1fa188" d="M86.2 652.1h0"/><path stroke="#1fa188" d="M86.2 648.1h0"/><path stroke="#1fa188" d="M86.2 651.4h0"/><path stroke="#25ab82" d="M86.2 645.7h0"/><path stroke="#25ab82" d="M86.2 642.7h0"/><path stroke="#25ab82" d="M86.2 644.5h0"/><path stroke="#25ab82" d="M86.2 642.9h0"/><path stroke="#25ab82" d="M86.2 643.9h0"/><path stroke="#25ab82" d="M86.2 643.4h0"/><path stroke="#25ab82" d="M86.2 646.6h0"/><path stroke="#25ab82" d="M86.2 644.4h0"/><path stroke="#25ab82" d="M86.2 644.6h0"/><path stroke="#25ab82" d="M86.2 642.8h0"/><path stroke="#25ab82" d="M86.2 600.7h0"/><path stroke="#25ab82" d="M86.2 598.0h0"/><path stroke="#25ab82" d="M86.2 598.1h0"/><path stroke="#25ab82" d="M86.2 597.2h0"/><path stroke="#25ab82" d="M86.2 597.3h0"/><path stroke="#25ab82" d="M86.2 599.6h0"/><path stroke="#25ab82" d="M86.2 597.7h0"/><path stroke="#25ab82" d="M86.2 597.0h0"/><path stroke="#25ab82" d="M86.2 596.8h0"/><path stroke="#25ab82" d="M86.2 596.2h0"/><path stroke="#3aba76" d="M86.2 640.2h0"/><path stroke="#3aba76" d="M86.2 639.0h0"/><path stroke="#3aba76" d="M86.2 641.7h0"/><path stroke="#3aba76" d="M86.2 640.0h0"/><path stroke="#3aba76" d="M86.2 640.4h0"/><path stroke="#3aba76" d="M86.2 641.2h0"/><path stroke="#3aba76" d="M86.2 638.0h0"/><path stroke="#3aba76" d="M86.2 640.1h0"/><path stroke="#3aba76" d="M86.2 637.2h0"/><path stroke="#3aba76" d="M86.2 639.1h0"/><path stroke="#3aba76" d="M86.2 639.0h0"/><path stroke="#3aba76" d="M86.2 638.8h0"/><path stroke="#73d056" d="M86.2 633.5h0"/><path stroke="#73d056" d="M86.2 636.1h0"/><path stroke="#73d056" d="M86.2 634.7h0"/><path stroke="#73d056" d="M86.2 635.7h0"/><path stroke="#73d056" d="M86.2 634.9h0"/><path stroke="#73d056" d="M86.2 636.4h0"/><path stroke="#73d056" d="M86.2 632.1h0"/><path stroke="#73d056" d="M86.2 635.8h0"/><path stroke="#73d056" d="M86.2 633.6h0"/><path stroke="#73d056" d="M86.2 635.4h0"/><path stroke="#73d056" d="M86.2 632.6h0"/><path stroke="#73d056" d="M86.2 633.6h0"/><path stroke="#73d056" d="M86.2 636.2h0"/><path stroke="#73d056" d="M86.2 632.7h0"/><path stroke="#73d056" d="M86.2 632.2h0"/><path stroke="#73d056" d="M86.2 632.4h0"/><path stroke="#90d743" d="M86.2 629.0h0"/><path stroke="#90d743" d="M86.2 631.0h0"/><path stroke="#90d743" d="M86.2 630.8h0"/><path stroke="#90d743" d="M86.2 627.2h0"/><path stroke="#90d743" d="M86.2 629.1h0"/><path stroke="#90d743" d="M86.2 630.9h0"/><path stroke="#90d743" d="M86.2 627.4h0"/><path stroke="#90d743" d="M86.2 628.6h0"/><path stroke="#90d743" d="M86.2 629.0h0"/><path stroke="#90d743" d="M86.2 629.9h0"/><path stroke="#90d743" d="M86.2 629.7h0"/><path stroke="#90d743" d="M86.2 630.6h0"/><path stroke="#90d743" d="M86.2 631.6h0"/><path stroke="#90d743" d="M86.2 627.5h0"/><path stroke="#90d743" d="M86.2 629.5h0"/><path stroke="#90d743" d="M86.2 629.1h0"/><path stroke="#90d743" d="M86.2 630.2h0"/><path stroke="#90d743" d="M86.2 628.1h0"/><path stroke="#9dd93b" d="M86.2 626.5h0"/><path stroke="#9dd93b" d="M86.2 624.8h0"/><path stroke="#9dd93b" d="M86.2 626.5h0"/><path stroke="#9dd93b" d="M86.2 626.1h0"/><path stroke="#9dd93b" d="M86.2 621.9h0"/><path stroke="#9dd93b" d="M86.2 623.4h0"/><path stroke="#9dd93b" d="M86.2 624.6h0"/><path stroke="#9dd93b" d="M86.2 624.1h0"/><path stroke="#9dd93b" d="M86.2 622.4h0"/><path stroke="#9dd93b" d="M86.2 625.0h0"/><path stroke="#9dd93b" d="M86.2 623.8h0"/><path stroke="#9dd93b" d="M86.2 623.3h0"/><path stroke="#9dd93b" d="M86.2 624.9h0"/><path stroke="#9dd93b" d="M86.2 624.1h0"/><path stroke="#9dd93b" d="M86.2 622.9h0"/><path stroke="#9dd93b" d="M86.2 622.2h0"/><path stroke="#9dd93b" d="M86.2 625.9h0"/><path stroke="#9dd93b" d="M86.2 622.1h0"/><path stroke="#9dd93b" d="M86.2 626.6h0"/><path stroke="#ece51b" d="M86.2 617.9h0"/><path stroke="#ece51b" d="M86.2 617.6h0"/><path stroke="#ece51b" d="M86.2 620.9h0"/><path stroke="#ece51b" d="M86.2 619.5h0"/><path stroke="#ece51b" d="M86.2 617.6h0"/><path stroke="#ece51b" d="M86.2 621.5h0"/><path stroke="#ece51b" d="M86.2 618.5h0"/><path stroke="#ece51b" d="M86.2 617.7h0"/><path stroke="#ece51b" d="M86.2 619.1h0"/><path stroke="#ece51b" d="M86.2 618.0h0"/><path stroke="#ece51b" d="M86.2 620.5h0"/><path stroke="#ece51b" d="M86.2 620.6h0"/><path stroke="#ece51b" d="M86.2 619.8h0"/><path stroke="#ece51b" d="M86.2 620.7h0"/><path stroke="#ece51b" d="M86.2 619.9h0"/><path stroke="#ece51b" d="M86.2 616.9h0"/><path stroke="#ece51b" d="M86.2 618.8h0"/><path stroke="#ece51b" d="M86.2 619.9h0"/><path stroke="#ece51b" d="M86.2 620.2h0"/><path stroke="#ece51b" d="M86.2 616.9h0"/><path stroke="#ece51b" d="M86.2 619.4h0"/><path stroke="#ece51b" d="M86.2 616.8h0"/><path stroke="#ece51b" d="M86.2 619.0h0"/><path stroke="#ece51b" d="M86.2 619.0h0"/><path stroke="#ece51b" d="M86.2 617.2h0"/><path stroke="#ece51b" d="M86.2 617.9h0"/><path stroke="#fde725" d="M86.2 613.6h0"/><path stroke="#fde725" d="M86.2 614.4h0"/><path stroke="#fde725" d="M86.2 612.2h0"/><path stroke="#fde725" d="M86.2 614.5h0"/><path stroke="#fde725" d="M86.2 612.0h0"/><path stroke="#fde725" d="M86.2 616.1h0"/><path stroke="#fde725" d="M86.2 614.4h0"/><path stroke="#fde725" d="M86.2 613.9h0"/><path stroke="#fde725" d="M86.2 611.8h0"/><path stroke="#fde725" d="M86.2 615.2h0"/><path stroke="#fde725" d="M86.2 612.5h0"/><path stroke="#fde725" d="M86.2 613.2h0"/><path stroke="#fde725" d="M86.2 613.0h0"/><path stroke="#fde725" d="M86.2 613.4h0"/><path stroke="#fde725" d="M86.2 611.7h0"/><path stroke="#fde725" d="M86.2 614.8h0"/><path stroke="#fde725" d="M86.2 614.5h0"/><path stroke="#fde725" d="M86.2 615.5h0"/><path stroke="#fde725" d="M86.2 616.2h0"/><path stroke="#fde725" d="M86.2 615.4h0"/><path stroke="#fde725" d="M86.2 612.0h0"/><path stroke="#fde725" d="M86.2 612.4h0"/><path stroke="#fde725" d="M86.2 615.9h0"/><path stroke="#fde725" d="M86.2 613.5h0"/><path stroke="#fde725" d="M86.2 614.1h0"/><path stroke="#fde725" d="M86.2 613.6h0"/><path stroke="#fde725" d="M86.2 613.3h0"/><path stroke="#fde725" d="M86.2 615.0h0"/><path stroke="#fde725" d="M86.2 606.7h0"/><path stroke="#fde725" d="M86.2 609.1h0"/><path stroke="#fde725" d="M86.2 608.3h0"/><path stroke="#fde725" d="M86.2 608.3h0"/><path stroke="#fde725" d="M86.2 610.5h0"/><path stroke="#fde725" d="M86.2 611.1h0"/><path stroke="#fde725" d="M86.2 609.4h0"/><path stroke="#fde725" d="M86.2 607.6h0"/><path stroke="#fde725" d="M86.2 607.4h0"/><path stroke="#fde725" d="M86.2 607.8h0"/><path stroke="#fde725" d="M86.2 610.8h0"/><path stroke="#fde725" d="M86.2 606.9h0"/><path stroke="#fde725" d="M86.2 607.5h0"/><path stroke="#fde725" d="M86.2 607.1h0"/><path stroke="#fde725" d="M86.2 608.8h0"/><path stroke="#fde725" d="M86.2 606.9h0"/><path stroke="#fde725" d="M86.2 611.2h0"/><path stroke="#fde725" d="M86.2 611.2h0"/><path stroke="#fde725" d="M86.2 611.3h0"/><path stroke="#fde725" d="M86.2 610.1h0"/><path stroke="#fde725" d="M86.2 610.2h0"/><path stroke="#fde725" d="M86.2 610.5h0"/><path stroke="#fde725" d="M86.2 608.6h0"/><path stroke="#fde725" d="M86.2 611.2h0"/><path stroke="#fde725" d="M86.2 608.5h0"/><path stroke="#fde725" d="M86.2 610.6h0"/><path stroke="#fde725" d="M86.2 608.1h0"/><path stroke="#fde725" d="M86.2 611.3h0"/><path stroke="#fde725" d="M86.2 604.8h0"/><path stroke="#fde725" d="M86.2 601.7h0"/><path stroke="#fde725" d="M86.2 603.7h0"/><path stroke="#fde725" d="M86.2 602.3h0"/><path stroke="#fde725" d="M86.2 603.1h0"/><path stroke="#fde725" d="M86.2 603.3h0"/><path stroke="#fde725" d="M86.2 605.4h0"/><path stroke="#fde725" d="M86.2 603.5h0"/><path stroke="#fde725" d="M86.2 606.1h0"/><path stroke="#fde725" d="M86.2 602.4h0"/><path stroke="#fde725" d="M86.2 601.6h0"/><path stroke="#fde725" d="M86.2 602.1h0"/><path stroke="#fde725" d="M86.2 606.0h0"/><path stroke="#fde725" d="M86.2 604.6h0"/><path stroke="#fde725" d="M86.2 604.7h0"/><path stroke="#fde725" d="M86.2 605.7h0"/><path stroke="#fde725" d="M86.2 603.2h0"/><path stroke="#fde725" d="M86.2 602.4h0"/><path stroke="#fde725" d="M86.2 604.8h0"/><path stroke="#fde725" d="M86.2 602.1h0"/><path stroke="#fde725" d="M86.2 602.4h0"/><path stroke="#fde725" d="M86.2 605.7h0"/><path stroke="#fde725" d="M86.2 602.5h0"/><path stroke="#fde725" d="M86.2 602.0h0"/><path stroke="#fde725" d="M86.2 605.3h0"/><path stroke="#fde725" d="M86.2 603.5h0"/><path stroke="#fde725" d="M86.2 603.2h0"/><path stroke="#fde725" d="M86.2 603.3h0"/></g>
<g id="matplotlib.axis_49">
    <g id="xtick_64">
     <g id="line2d_104">
      <g>
       <use href="#m1504cfccaf" x="43.85" y="697.72" style="stroke: #000000; stroke-width: 0.8"/>
      </g>
     </g>
     <g id="text_104">
      <text style="font-size: 8px;  text-anchor: middle" x="43.85" y="710.80">0.48</text>
     </g>
    </g>
    <g id="xtick_65">
     <g id="line2d_105">
      <g>
       <use href="#m1504cfccaf" x="86.24" y="697.72" style="stroke: #000000; stroke-width: 0.8"/>
      </g>
     </g>
     <g id="text_105">
      <text style="font-size: 8px;  text-anchor: middle" x="86.24" y="710.80">0.50</text>
     </g>
    </g>
    <g id="xtick_66">
     <g id="line2d_106">
      <g>
       <use href="#m1504cfccaf" x="128.62" y="697.72" style="stroke: #000000; stroke-width: 0.8"/>
      </g>
     </g>
     <g id="text_106">
      <text style="font-size: 8px;  text-anchor: middle" x="128.62" y="710.80">0.52</text>
     </g>
    </g>
   </g>
   <g id="matplotlib.axis_50">
    <g id="ytick_17">
     <g id="line2d_107">
      <g>
       <use href="#m5d545ce8f8" x="27.96" y="682.08" style="stroke: #000000; stroke-width: 0.8"/>
      </g>
     </g>
     <g id="text_107">
      <text style="font-size: 8px;  text-anchor: end" x="20.96" y="685.12">0.5</text>
     </g>
    </g>
    <g id="ytick_18">
     <g id="line2d_108">
      <g>
       <use href="#m5d545ce8f8" x="27.96" y="654.63" style="stroke: #000000; stroke-width: 0.8"/>
      </g>
     </g>
     <g id="text_108">
      <text style="font-size: 8px;  text-anchor: end" x="20.96" y="657.67">0.6</text>
     </g>
    </g>
    <g id="ytick_19">
     <g id="line2d_109">
      <g>
       <use href="#m5d545ce8f8" x="27.96" y="627.18" style="stroke: #000000; stroke-width: 0.8"/>
      </g>
     </g>
     <g id="text_109">
      <text style="font-size: 8px;  text-anchor: end" x="20.96" y="630.22">0.7</text>
     </g>
    </g>
    <g id="ytick_20">
     <g id="line2d_110">
      <g>
       <use href="#m5d545ce8f8" x="27.96" y="599.74" style="stroke: #000000; stroke-width: 0.8"/>
      </g>
     </g>
     <g id="text_110">
      <text style="font-size: 8px;  text-anchor: end" x="20.96" y="602.78">0.8</text>
     </g>
    </g>
   </g>
   <g id="line2d_111">
    <g clip-path="url(#pf5cbb42195)">
     <use href="#m5269b93cc7" x="86.24" y="596.20" style="stroke: #000000; stroke-width: 1.3"/>
    </g>
   </g>
   <g id="patch_123">
    <path d="M 27.96 697.72 
L 27.96 591.37 
" style="fill: none; stroke: #000000; stroke-width: 0.8; stroke-linejoin: miter; stroke-linecap: square"/>
   </g>
   <g id="patch_124">
    <path d="M 144.52 697.72 
L 144.52 591.37 
" style="fill: none; stroke: #000000; stroke-width: 0.8; stroke-linejoin: miter; stroke-linecap: square"/>
   </g>
   <g id="patch_125">
    <path d="M 27.96 697.72 
L 144.52 697.72 
" style="fill: none; stroke: #000000; stroke-width: 0.8; stroke-linejoin: miter; stroke-linecap: square"/>
   </g>
   <g id="patch_126">
    <path d="M 27.96 591.37 
L 144.52 591.37 
" style="fill: none; stroke: #000000; stroke-width: 0.8; stroke-linejoin: miter; stroke-linecap: square"/>
   </g>
   <g id="text_111">
    <text style="font-size: 9px;  text-anchor: middle" x="86.24" y="585.37">fliplr = 0.5</text>
   </g>
  </g>
  <g id="axes_26">
   <g id="patch_127">
    <path d="M 167.30 699.76 
L 284.64 699.76 
L 284.64 592 
L 167.30 592 
z
" style="fill: #ffffff"/>
   </g>
   <g clip-path="url(#p1f985579ff)" fill="none" stroke-width="5.7" class="pt" stroke-opacity="0.92"><path stroke="#375a8c" d="M245.4 648.5h0M245.4 651.0h0M247.9 648.5h0M247.9 651.0h0M250.4 651.0h0M252.9 628.5h0M255.5 628.5h0M255.5 631.0h0M255.5 636.0h0M258.0 628.5h0M258.0 631.0h0M260.5 620.9h0M260.5 633.5h0M263.0 620.9h0M263.0 636.0h0M265.5 633.5h0M268.0 615.9h0M268.0 638.5h0M270.5 618.4h0M273.0 620.9h0M273.0 623.4h0M273.0 628.5h0M273.0 641.0h0M273.0 643.5h0M275.6 620.9h0M275.6 663.6h0M275.6 671.1h0M275.6 673.6h0"/><path stroke="#1f958b" d="M255.5 620.9h0M255.5 623.4h0M258.0 638.5h0M260.5 631.0h0M263.0 631.0h0M263.0 638.5h0M265.5 610.9h0M265.5 638.5h0M265.5 641.0h0M273.0 603.4h0M273.0 610.9h0M273.0 613.4h0M273.0 638.5h0M273.0 646.0h0"/><path stroke="#44bf70" d="M273.0 600.9h0M273.0 631.0h0M275.6 603.4h0M275.6 605.9h0M275.6 608.4h0M275.6 610.9h0M275.6 613.4h0M275.6 615.9h0M275.6 623.4h0M275.6 626.0h0M275.6 628.5h0"/></g>
<g clip-path="url(#p1f985579ff)" fill="none" stroke-width="5.7" class="pt" stroke-opacity="0.92"><path stroke="#375a8c" d="M223.4 637.9h0M227.3 639.2h0M229.8 639.2h0M238.8 644.3h0M241.4 645.6h0M243.9 645.6h0M247.8 645.6h0M250.4 646.9h0M246.5 654.6h0M249.1 655.9h0M251.6 657.2h0M252.9 631.5h0M256.8 632.8h0M259.3 635.4h0M260.6 637.9h0M263.2 634.1h0M265.8 635.4h0M268.3 641.8h0M254.2 626.4h0M258.1 626.4h0M259.3 618.7h0M263.2 614.9h0M267.0 613.6h0M269.6 612.3h0M272.2 616.1h0M274.7 618.7h0M272.2 625.1h0M278.6 673.8h0M274.7 668.7h0M277.3 666.1h0"/><path stroke="#1f958b" d="M258.1 623.8h0M260.6 625.1h0M261.9 629.0h0M259.3 640.5h0M263.2 640.5h0M267.0 605.9h0M269.6 608.5h0M270.9 612.3h0M268.3 611.0h0M272.2 607.2h0"/><path stroke="#375a8c" d="M278.1 661.0h0M278.1 663.0h0M278.1 665.1h0M278.1 667.1h0M278.1 669.2h0M278.1 671.2h0M278.1 673.3h0"/><path stroke="#1f958b" d="M278.1 637.9h0M278.1 639.7h0M278.1 641.5h0M278.1 643.3h0M278.1 645.1h0M278.1 646.9h0M278.1 648.7h0M278.1 650.5h0M278.1 652.3h0M278.1 654.1h0M278.1 655.9h0M278.1 657.7h0M278.1 659.5h0"/><path stroke="#44bf70" d="M278.1 617.4h0M278.1 619.2h0M278.1 621.0h0M278.1 622.8h0M278.1 624.6h0M278.1 626.4h0M278.1 628.2h0M278.1 630.0h0M278.1 631.8h0M278.1 633.6h0M278.1 635.4h0M278.1 637.2h0"/><path stroke="#fde725" d="M278.1 599.0h0M278.1 600.8h0M278.1 602.6h0M278.1 604.4h0M278.1 606.1h0M278.1 607.9h0M278.1 609.7h0M278.1 611.5h0M278.1 613.3h0M278.1 615.1h0M278.1 616.9h0M278.4 596.9h0"/></g>
<g clip-path="url(#p1f985579ff)" fill="none" stroke-width="5.7" class="pt" stroke-opacity="0.8"><path stroke="#440154" d="M172.6 653.8h0M179.8 684.6h0M184.4 641.8h0M193.9 640.5h0M196.5 640.5h0M198.3 640.5h0M211.9 628.2h0M214.4 632.8h0M212.6 652.0h0M211.9 659.7h0M229.8 625.1h0M229.1 663.6h0M231.1 674.3h0M233.2 654.6h0M235.0 646.9h0M236.2 648.2h0M237.5 641.8h0M238.8 636.6h0M240.1 629.0h0M241.4 634.1h0M246.5 675.1h0M247.8 626.4h0M251.6 654.6h0M252.9 652.8h0M254.2 622.6h0M256.8 612.3h0M259.3 613.6h0M260.6 650.7h0M261.9 663.6h0M263.2 655.9h0M264.5 661.0h0M264.0 681.0h0M258.8 690.5h0M267.0 629.0h0M269.6 617.4h0M270.9 658.4h0M278.6 682.8h0M277.3 694.3h0M243.9 641.8h0M249.1 630.2h0"/></g>
<g id="matplotlib.axis_51">
    <g id="xtick_67">
     <g id="line2d_112">
      <g>
       <use href="#m1504cfccaf" x="179.55" y="699.76" style="stroke: #000000; stroke-width: 0.8"/>
      </g>
     </g>
     <g id="text_112">
      <text style="font-size: 8px;  text-anchor: middle" x="179.55" y="712.84">0.6</text>
     </g>
    </g>
    <g id="xtick_68">
     <g id="line2d_113">
      <g>
       <use href="#m1504cfccaf" x="228.96" y="699.76" style="stroke: #000000; stroke-width: 0.8"/>
      </g>
     </g>
     <g id="text_113">
      <text style="font-size: 8px;  text-anchor: middle" x="228.96" y="712.84">0.8</text>
     </g>
    </g>
    <g id="xtick_69">
     <g id="line2d_114">
      <g>
       <use href="#m1504cfccaf" x="278.36" y="699.76" style="stroke: #000000; stroke-width: 0.8"/>
      </g>
     </g>
     <g id="text_114">
      <text style="font-size: 8px;  text-anchor: middle" x="278.36" y="712.84">1.0</text>
     </g>
    </g>
   </g>
   <g id="matplotlib.axis_52"/>
   <g id="line2d_115">
    <g clip-path="url(#p1f985579ff)">
     <use href="#m5269b93cc7" x="278.36" y="596.89" style="stroke: #000000; stroke-width: 1.3"/>
    </g>
   </g>
   <g id="patch_128">
    <path d="M 167.30 699.76 
L 167.30 592 
" style="fill: none; stroke: #000000; stroke-width: 0.8; stroke-linejoin: miter; stroke-linecap: square"/>
   </g>
   <g id="patch_129">
    <path d="M 284.64 699.76 
L 284.64 592 
" style="fill: none; stroke: #000000; stroke-width: 0.8; stroke-linejoin: miter; stroke-linecap: square"/>
   </g>
   <g id="patch_130">
    <path d="M 167.30 699.76 
L 284.64 699.76 
" style="fill: none; stroke: #000000; stroke-width: 0.8; stroke-linejoin: miter; stroke-linecap: square"/>
   </g>
   <g id="patch_131">
    <path d="M 167.30 592 
L 284.64 592 
" style="fill: none; stroke: #000000; stroke-width: 0.8; stroke-linejoin: miter; stroke-linecap: square"/>
   </g>
   <g id="text_115">
    <text style="font-size: 9px;  text-anchor: middle" x="225.97" y="586">mosaic = 1</text>
   </g>
  </g>
  <g id="axes_27">
   <g id="patch_132">
    <path d="M 309.78 699.29 
L 426.03 699.29 
L 426.03 592 
L 309.78 592 
z
" style="fill: #ffffff"/>
   </g>
   <g clip-path="url(#pb6ab076dcf)" fill="none" stroke-width="5.4" class="pt" stroke-opacity="0.8"><path stroke="#440154" d="M367.9 691.3h0"/><path stroke="#440154" d="M367.9 684.8h0"/><path stroke="#440154" d="M367.9 685.4h0"/><path stroke="#440154" d="M367.9 694.5h0"/><path stroke="#453581" d="M367.9 683.0h0"/><path stroke="#453581" d="M367.9 682.6h0"/><path stroke="#453581" d="M367.9 679.8h0"/><path stroke="#453581" d="M367.9 679.0h0"/><path stroke="#453581" d="M367.9 674.9h0"/><path stroke="#453581" d="M367.9 675.1h0"/><path stroke="#39558c" d="M367.9 671.5h0"/><path stroke="#39558c" d="M367.9 672.4h0"/><path stroke="#39558c" d="M367.9 672.5h0"/><path stroke="#39558c" d="M367.9 672.6h0"/><path stroke="#2f6b8e" d="M367.9 666.5h0"/><path stroke="#2f6b8e" d="M367.9 666.2h0"/><path stroke="#2f6b8e" d="M367.9 666.0h0"/><path stroke="#2f6b8e" d="M367.9 663.8h0"/><path stroke="#2f6b8e" d="M367.9 664.8h0"/><path stroke="#287c8e" d="M367.9 660.5h0"/><path stroke="#287c8e" d="M367.9 658.7h0"/><path stroke="#287c8e" d="M367.9 662.5h0"/><path stroke="#287c8e" d="M367.9 662.8h0"/><path stroke="#287c8e" d="M367.9 660.5h0"/><path stroke="#287c8e" d="M367.9 663.4h0"/><path stroke="#238a8d" d="M367.9 658.3h0"/><path stroke="#238a8d" d="M367.9 655.9h0"/><path stroke="#238a8d" d="M367.9 656.1h0"/><path stroke="#238a8d" d="M367.9 653.9h0"/><path stroke="#238a8d" d="M367.9 655.3h0"/><path stroke="#238a8d" d="M367.9 655.9h0"/><path stroke="#238a8d" d="M367.9 656.0h0"/><path stroke="#1fa188" d="M367.9 652.1h0"/><path stroke="#1fa188" d="M367.9 653.2h0"/><path stroke="#1fa188" d="M367.9 652.3h0"/><path stroke="#1fa188" d="M367.9 649.9h0"/><path stroke="#1fa188" d="M367.9 652.3h0"/><path stroke="#1fa188" d="M367.9 651.5h0"/><path stroke="#1fa188" d="M367.9 653.3h0"/><path stroke="#1fa188" d="M367.9 649.2h0"/><path stroke="#1fa188" d="M367.9 652.5h0"/><path stroke="#25ab82" d="M367.9 646.8h0"/><path stroke="#25ab82" d="M367.9 643.8h0"/><path stroke="#25ab82" d="M367.9 645.6h0"/><path stroke="#25ab82" d="M367.9 644.0h0"/><path stroke="#25ab82" d="M367.9 645.0h0"/><path stroke="#25ab82" d="M367.9 644.5h0"/><path stroke="#25ab82" d="M367.9 647.7h0"/><path stroke="#25ab82" d="M367.9 645.5h0"/><path stroke="#25ab82" d="M367.9 645.7h0"/><path stroke="#25ab82" d="M367.9 643.9h0"/><path stroke="#25ab82" d="M367.9 601.4h0"/><path stroke="#25ab82" d="M367.9 598.6h0"/><path stroke="#25ab82" d="M367.9 598.8h0"/><path stroke="#25ab82" d="M367.9 597.8h0"/><path stroke="#25ab82" d="M367.9 597.9h0"/><path stroke="#25ab82" d="M367.9 600.3h0"/><path stroke="#25ab82" d="M367.9 598.3h0"/><path stroke="#25ab82" d="M367.9 597.6h0"/><path stroke="#25ab82" d="M367.9 597.5h0"/><path stroke="#25ab82" d="M367.9 596.9h0"/><path stroke="#3aba76" d="M367.9 641.2h0"/><path stroke="#3aba76" d="M367.9 640.1h0"/><path stroke="#3aba76" d="M367.9 642.7h0"/><path stroke="#3aba76" d="M367.9 641.1h0"/><path stroke="#3aba76" d="M367.9 641.4h0"/><path stroke="#3aba76" d="M367.9 642.3h0"/><path stroke="#3aba76" d="M367.9 639.0h0"/><path stroke="#3aba76" d="M367.9 641.1h0"/><path stroke="#3aba76" d="M367.9 638.2h0"/><path stroke="#3aba76" d="M367.9 640.1h0"/><path stroke="#3aba76" d="M367.9 640.0h0"/><path stroke="#3aba76" d="M367.9 639.9h0"/><path stroke="#73d056" d="M367.9 634.5h0"/><path stroke="#73d056" d="M367.9 637.1h0"/><path stroke="#73d056" d="M367.9 635.7h0"/><path stroke="#73d056" d="M367.9 636.7h0"/><path stroke="#73d056" d="M367.9 635.9h0"/><path stroke="#73d056" d="M367.9 637.4h0"/><path stroke="#73d056" d="M367.9 633.1h0"/><path stroke="#73d056" d="M367.9 636.8h0"/><path stroke="#73d056" d="M367.9 634.6h0"/><path stroke="#73d056" d="M367.9 636.4h0"/><path stroke="#73d056" d="M367.9 633.6h0"/><path stroke="#73d056" d="M367.9 634.6h0"/><path stroke="#73d056" d="M367.9 637.2h0"/><path stroke="#73d056" d="M367.9 633.7h0"/><path stroke="#73d056" d="M367.9 633.2h0"/><path stroke="#73d056" d="M367.9 633.4h0"/><path stroke="#90d743" d="M367.9 629.9h0"/><path stroke="#90d743" d="M367.9 632.0h0"/><path stroke="#90d743" d="M367.9 631.8h0"/><path stroke="#90d743" d="M367.9 628.2h0"/><path stroke="#90d743" d="M367.9 630.0h0"/><path stroke="#90d743" d="M367.9 631.8h0"/><path stroke="#90d743" d="M367.9 628.4h0"/><path stroke="#90d743" d="M367.9 629.6h0"/><path stroke="#90d743" d="M367.9 629.9h0"/><path stroke="#90d743" d="M367.9 630.9h0"/><path stroke="#90d743" d="M367.9 630.7h0"/><path stroke="#90d743" d="M367.9 631.6h0"/><path stroke="#90d743" d="M367.9 632.6h0"/><path stroke="#90d743" d="M367.9 628.4h0"/><path stroke="#90d743" d="M367.9 630.4h0"/><path stroke="#90d743" d="M367.9 630.0h0"/><path stroke="#90d743" d="M367.9 631.2h0"/><path stroke="#90d743" d="M367.9 629.0h0"/><path stroke="#9dd93b" d="M367.9 627.5h0"/><path stroke="#9dd93b" d="M367.9 625.8h0"/><path stroke="#9dd93b" d="M367.9 627.5h0"/><path stroke="#9dd93b" d="M367.9 627.0h0"/><path stroke="#9dd93b" d="M367.9 622.8h0"/><path stroke="#9dd93b" d="M367.9 624.4h0"/><path stroke="#9dd93b" d="M367.9 625.5h0"/><path stroke="#9dd93b" d="M367.9 625.0h0"/><path stroke="#9dd93b" d="M367.9 623.3h0"/><path stroke="#9dd93b" d="M367.9 625.9h0"/><path stroke="#9dd93b" d="M367.9 624.7h0"/><path stroke="#9dd93b" d="M367.9 624.2h0"/><path stroke="#9dd93b" d="M367.9 625.8h0"/><path stroke="#9dd93b" d="M367.9 625.0h0"/><path stroke="#9dd93b" d="M367.9 623.8h0"/><path stroke="#9dd93b" d="M367.9 623.1h0"/><path stroke="#9dd93b" d="M367.9 626.9h0"/><path stroke="#9dd93b" d="M367.9 623.0h0"/><path stroke="#9dd93b" d="M367.9 627.6h0"/><path stroke="#ece51b" d="M367.9 618.7h0"/><path stroke="#ece51b" d="M367.9 618.5h0"/><path stroke="#ece51b" d="M367.9 621.8h0"/><path stroke="#ece51b" d="M367.9 620.4h0"/><path stroke="#ece51b" d="M367.9 618.4h0"/><path stroke="#ece51b" d="M367.9 622.4h0"/><path stroke="#ece51b" d="M367.9 619.4h0"/><path stroke="#ece51b" d="M367.9 618.6h0"/><path stroke="#ece51b" d="M367.9 619.9h0"/><path stroke="#ece51b" d="M367.9 618.9h0"/><path stroke="#ece51b" d="M367.9 621.3h0"/><path stroke="#ece51b" d="M367.9 621.5h0"/><path stroke="#ece51b" d="M367.9 620.7h0"/><path stroke="#ece51b" d="M367.9 621.6h0"/><path stroke="#ece51b" d="M367.9 620.8h0"/><path stroke="#ece51b" d="M367.9 617.8h0"/><path stroke="#ece51b" d="M367.9 619.6h0"/><path stroke="#ece51b" d="M367.9 620.8h0"/><path stroke="#ece51b" d="M367.9 621.1h0"/><path stroke="#ece51b" d="M367.9 617.8h0"/><path stroke="#ece51b" d="M367.9 620.3h0"/><path stroke="#ece51b" d="M367.9 617.6h0"/><path stroke="#ece51b" d="M367.9 619.9h0"/><path stroke="#ece51b" d="M367.9 619.9h0"/><path stroke="#ece51b" d="M367.9 618.0h0"/><path stroke="#ece51b" d="M367.9 618.8h0"/><path stroke="#fde725" d="M367.9 614.5h0"/><path stroke="#fde725" d="M367.9 615.2h0"/><path stroke="#fde725" d="M367.9 613.0h0"/><path stroke="#fde725" d="M367.9 615.3h0"/><path stroke="#fde725" d="M367.9 612.8h0"/><path stroke="#fde725" d="M367.9 617.0h0"/><path stroke="#fde725" d="M367.9 615.2h0"/><path stroke="#fde725" d="M367.9 614.8h0"/><path stroke="#fde725" d="M367.9 612.6h0"/><path stroke="#fde725" d="M367.9 616.1h0"/><path stroke="#fde725" d="M367.9 613.3h0"/><path stroke="#fde725" d="M367.9 614.0h0"/><path stroke="#fde725" d="M367.9 613.8h0"/><path stroke="#fde725" d="M367.9 614.2h0"/><path stroke="#fde725" d="M367.9 612.5h0"/><path stroke="#fde725" d="M367.9 615.7h0"/><path stroke="#fde725" d="M367.9 615.4h0"/><path stroke="#fde725" d="M367.9 616.3h0"/><path stroke="#fde725" d="M367.9 617.1h0"/><path stroke="#fde725" d="M367.9 616.3h0"/><path stroke="#fde725" d="M367.9 612.8h0"/><path stroke="#fde725" d="M367.9 613.2h0"/><path stroke="#fde725" d="M367.9 616.8h0"/><path stroke="#fde725" d="M367.9 614.3h0"/><path stroke="#fde725" d="M367.9 615.0h0"/><path stroke="#fde725" d="M367.9 614.4h0"/><path stroke="#fde725" d="M367.9 614.1h0"/><path stroke="#fde725" d="M367.9 615.8h0"/><path stroke="#fde725" d="M367.9 607.4h0"/><path stroke="#fde725" d="M367.9 609.9h0"/><path stroke="#fde725" d="M367.9 609.1h0"/><path stroke="#fde725" d="M367.9 609.1h0"/><path stroke="#fde725" d="M367.9 611.3h0"/><path stroke="#fde725" d="M367.9 611.9h0"/><path stroke="#fde725" d="M367.9 610.2h0"/><path stroke="#fde725" d="M367.9 608.4h0"/><path stroke="#fde725" d="M367.9 608.2h0"/><path stroke="#fde725" d="M367.9 608.6h0"/><path stroke="#fde725" d="M367.9 611.6h0"/><path stroke="#fde725" d="M367.9 607.7h0"/><path stroke="#fde725" d="M367.9 608.2h0"/><path stroke="#fde725" d="M367.9 607.9h0"/><path stroke="#fde725" d="M367.9 609.6h0"/><path stroke="#fde725" d="M367.9 607.7h0"/><path stroke="#fde725" d="M367.9 612.0h0"/><path stroke="#fde725" d="M367.9 612.0h0"/><path stroke="#fde725" d="M367.9 612.1h0"/><path stroke="#fde725" d="M367.9 610.9h0"/><path stroke="#fde725" d="M367.9 611.0h0"/><path stroke="#fde725" d="M367.9 611.3h0"/><path stroke="#fde725" d="M367.9 609.4h0"/><path stroke="#fde725" d="M367.9 612.0h0"/><path stroke="#fde725" d="M367.9 609.3h0"/><path stroke="#fde725" d="M367.9 611.4h0"/><path stroke="#fde725" d="M367.9 608.8h0"/><path stroke="#fde725" d="M367.9 612.1h0"/><path stroke="#fde725" d="M367.9 605.5h0"/><path stroke="#fde725" d="M367.9 602.4h0"/><path stroke="#fde725" d="M367.9 604.4h0"/><path stroke="#fde725" d="M367.9 603.0h0"/><path stroke="#fde725" d="M367.9 603.8h0"/><path stroke="#fde725" d="M367.9 604.0h0"/><path stroke="#fde725" d="M367.9 606.1h0"/><path stroke="#fde725" d="M367.9 604.2h0"/><path stroke="#fde725" d="M367.9 606.9h0"/><path stroke="#fde725" d="M367.9 603.1h0"/><path stroke="#fde725" d="M367.9 602.3h0"/><path stroke="#fde725" d="M367.9 602.8h0"/><path stroke="#fde725" d="M367.9 606.8h0"/><path stroke="#fde725" d="M367.9 605.4h0"/><path stroke="#fde725" d="M367.9 605.5h0"/><path stroke="#fde725" d="M367.9 606.5h0"/><path stroke="#fde725" d="M367.9 604.0h0"/><path stroke="#fde725" d="M367.9 603.1h0"/><path stroke="#fde725" d="M367.9 605.5h0"/><path stroke="#fde725" d="M367.9 602.8h0"/><path stroke="#fde725" d="M367.9 603.1h0"/><path stroke="#fde725" d="M367.9 606.4h0"/><path stroke="#fde725" d="M367.9 603.3h0"/><path stroke="#fde725" d="M367.9 602.7h0"/><path stroke="#fde725" d="M367.9 606.1h0"/><path stroke="#fde725" d="M367.9 604.2h0"/><path stroke="#fde725" d="M367.9 603.9h0"/><path stroke="#fde725" d="M367.9 604.0h0"/></g>
<g id="matplotlib.axis_53">
    <g id="xtick_70">
     <g id="line2d_116">
      <g>
       <use href="#m1504cfccaf" x="315.06" y="699.29" style="stroke: #000000; stroke-width: 0.8"/>
      </g>
     </g>
     <g id="text_116">
      <text style="font-size: 8px;  text-anchor: middle" x="315.06" y="712.37">−0.05</text>
     </g>
    </g>
    <g id="xtick_71">
     <g id="line2d_117">
      <g>
       <use href="#m1504cfccaf" x="367.90" y="699.29" style="stroke: #000000; stroke-width: 0.8"/>
      </g>
     </g>
     <g id="text_117">
      <text style="font-size: 8px;  text-anchor: middle" x="367.90" y="712.37">0.00</text>
     </g>
    </g>
    <g id="xtick_72">
     <g id="line2d_118">
      <g>
       <use href="#m1504cfccaf" x="420.74" y="699.29" style="stroke: #000000; stroke-width: 0.8"/>
      </g>
     </g>
     <g id="text_118">
      <text style="font-size: 8px;  text-anchor: middle" x="420.74" y="712.37">0.05</text>
     </g>
    </g>
   </g>
   <g id="matplotlib.axis_54"/>
   <g id="line2d_119">
    <g clip-path="url(#pb6ab076dcf)">
     <use href="#m5269b93cc7" x="367.90" y="596.87" style="stroke: #000000; stroke-width: 1.3"/>
    </g>
   </g>
   <g id="patch_133">
    <path d="M 309.78 699.29 
L 309.78 592 
" style="fill: none; stroke: #000000; stroke-width: 0.8; stroke-linejoin: miter; stroke-linecap: square"/>
   </g>
   <g id="patch_134">
    <path d="M 426.03 699.29 
L 426.03 592 
" style="fill: none; stroke: #000000; stroke-width: 0.8; stroke-linejoin: miter; stroke-linecap: square"/>
   </g>
   <g id="patch_135">
    <path d="M 309.78 699.29 
L 426.03 699.29 
" style="fill: none; stroke: #000000; stroke-width: 0.8; stroke-linejoin: miter; stroke-linecap: square"/>
   </g>
   <g id="patch_136">
    <path d="M 309.78 592 
L 426.03 592 
" style="fill: none; stroke: #000000; stroke-width: 0.8; stroke-linejoin: miter; stroke-linecap: square"/>
   </g>
   <g id="text_119">
    <text style="font-size: 9px;  text-anchor: middle" x="367.90" y="586">mixup = 0</text>
   </g>
  </g>
  <g id="axes_28">
   <g id="patch_137">
    <path d="M 451.32 699.60 
L 567.41 699.60 
L 567.41 592 
L 451.32 592 
z
" style="fill: #ffffff"/>
   </g>
   <g clip-path="url(#p81138a4f6f)" fill="none" stroke-width="5.4" class="pt" stroke-opacity="0.8"><path stroke="#440154" d="M509.4 691.6h0"/><path stroke="#440154" d="M509.4 685.1h0"/><path stroke="#440154" d="M509.4 685.7h0"/><path stroke="#440154" d="M509.4 694.8h0"/><path stroke="#453581" d="M509.4 683.3h0"/><path stroke="#453581" d="M509.4 682.9h0"/><path stroke="#453581" d="M509.4 680.1h0"/><path stroke="#453581" d="M509.4 679.2h0"/><path stroke="#453581" d="M509.4 675.2h0"/><path stroke="#453581" d="M509.4 675.3h0"/><path stroke="#39558c" d="M509.4 671.8h0"/><path stroke="#39558c" d="M509.4 672.6h0"/><path stroke="#39558c" d="M509.4 672.7h0"/><path stroke="#39558c" d="M509.4 672.8h0"/><path stroke="#2f6b8e" d="M509.4 666.7h0"/><path stroke="#2f6b8e" d="M509.4 666.4h0"/><path stroke="#2f6b8e" d="M509.4 666.2h0"/><path stroke="#2f6b8e" d="M509.4 664.0h0"/><path stroke="#2f6b8e" d="M509.4 665.0h0"/><path stroke="#287c8e" d="M509.4 660.7h0"/><path stroke="#287c8e" d="M509.4 658.9h0"/><path stroke="#287c8e" d="M509.4 662.7h0"/><path stroke="#287c8e" d="M509.4 663.0h0"/><path stroke="#287c8e" d="M509.4 660.7h0"/><path stroke="#287c8e" d="M509.4 663.6h0"/><path stroke="#238a8d" d="M509.4 658.4h0"/><path stroke="#238a8d" d="M509.4 656.1h0"/><path stroke="#238a8d" d="M509.4 656.3h0"/><path stroke="#238a8d" d="M509.4 654.1h0"/><path stroke="#238a8d" d="M509.4 655.5h0"/><path stroke="#238a8d" d="M509.4 656.1h0"/><path stroke="#238a8d" d="M509.4 656.2h0"/><path stroke="#1fa188" d="M509.4 652.2h0"/><path stroke="#1fa188" d="M509.4 653.4h0"/><path stroke="#1fa188" d="M509.4 652.5h0"/><path stroke="#1fa188" d="M509.4 650.0h0"/><path stroke="#1fa188" d="M509.4 652.5h0"/><path stroke="#1fa188" d="M509.4 651.6h0"/><path stroke="#1fa188" d="M509.4 653.5h0"/><path stroke="#1fa188" d="M509.4 649.4h0"/><path stroke="#1fa188" d="M509.4 652.7h0"/><path stroke="#25ab82" d="M509.4 647.0h0"/><path stroke="#25ab82" d="M509.4 644.0h0"/><path stroke="#25ab82" d="M509.4 645.8h0"/><path stroke="#25ab82" d="M509.4 644.1h0"/><path stroke="#25ab82" d="M509.4 645.2h0"/><path stroke="#25ab82" d="M509.4 644.6h0"/><path stroke="#25ab82" d="M509.4 647.9h0"/><path stroke="#25ab82" d="M509.4 645.6h0"/><path stroke="#25ab82" d="M509.4 645.8h0"/><path stroke="#25ab82" d="M509.4 644.0h0"/><path stroke="#25ab82" d="M509.4 601.5h0"/><path stroke="#25ab82" d="M509.4 598.7h0"/><path stroke="#25ab82" d="M509.4 598.8h0"/><path stroke="#25ab82" d="M509.4 597.9h0"/><path stroke="#25ab82" d="M509.4 598.0h0"/><path stroke="#25ab82" d="M509.4 600.3h0"/><path stroke="#25ab82" d="M509.4 598.4h0"/><path stroke="#25ab82" d="M509.4 597.6h0"/><path stroke="#25ab82" d="M509.4 597.5h0"/><path stroke="#25ab82" d="M509.4 596.9h0"/><path stroke="#3aba76" d="M509.4 641.4h0"/><path stroke="#3aba76" d="M509.4 640.2h0"/><path stroke="#3aba76" d="M509.4 642.9h0"/><path stroke="#3aba76" d="M509.4 641.2h0"/><path stroke="#3aba76" d="M509.4 641.6h0"/><path stroke="#3aba76" d="M509.4 642.4h0"/><path stroke="#3aba76" d="M509.4 639.1h0"/><path stroke="#3aba76" d="M509.4 641.3h0"/><path stroke="#3aba76" d="M509.4 638.3h0"/><path stroke="#3aba76" d="M509.4 640.2h0"/><path stroke="#3aba76" d="M509.4 640.2h0"/><path stroke="#3aba76" d="M509.4 640.0h0"/><path stroke="#73d056" d="M509.4 634.7h0"/><path stroke="#73d056" d="M509.4 637.3h0"/><path stroke="#73d056" d="M509.4 635.8h0"/><path stroke="#73d056" d="M509.4 636.8h0"/><path stroke="#73d056" d="M509.4 636.0h0"/><path stroke="#73d056" d="M509.4 637.5h0"/><path stroke="#73d056" d="M509.4 633.2h0"/><path stroke="#73d056" d="M509.4 636.9h0"/><path stroke="#73d056" d="M509.4 634.7h0"/><path stroke="#73d056" d="M509.4 636.5h0"/><path stroke="#73d056" d="M509.4 633.7h0"/><path stroke="#73d056" d="M509.4 634.7h0"/><path stroke="#73d056" d="M509.4 637.4h0"/><path stroke="#73d056" d="M509.4 633.8h0"/><path stroke="#73d056" d="M509.4 633.3h0"/><path stroke="#73d056" d="M509.4 633.5h0"/><path stroke="#90d743" d="M509.4 630.0h0"/><path stroke="#90d743" d="M509.4 632.1h0"/><path stroke="#90d743" d="M509.4 631.9h0"/><path stroke="#90d743" d="M509.4 628.3h0"/><path stroke="#90d743" d="M509.4 630.1h0"/><path stroke="#90d743" d="M509.4 632.0h0"/><path stroke="#90d743" d="M509.4 628.5h0"/><path stroke="#90d743" d="M509.4 629.7h0"/><path stroke="#90d743" d="M509.4 630.0h0"/><path stroke="#90d743" d="M509.4 631.0h0"/><path stroke="#90d743" d="M509.4 630.8h0"/><path stroke="#90d743" d="M509.4 631.7h0"/><path stroke="#90d743" d="M509.4 632.7h0"/><path stroke="#90d743" d="M509.4 628.5h0"/><path stroke="#90d743" d="M509.4 630.5h0"/><path stroke="#90d743" d="M509.4 630.1h0"/><path stroke="#90d743" d="M509.4 631.3h0"/><path stroke="#90d743" d="M509.4 629.1h0"/><path stroke="#9dd93b" d="M509.4 627.6h0"/><path stroke="#9dd93b" d="M509.4 625.9h0"/><path stroke="#9dd93b" d="M509.4 627.6h0"/><path stroke="#9dd93b" d="M509.4 627.1h0"/><path stroke="#9dd93b" d="M509.4 622.9h0"/><path stroke="#9dd93b" d="M509.4 624.5h0"/><path stroke="#9dd93b" d="M509.4 625.6h0"/><path stroke="#9dd93b" d="M509.4 625.1h0"/><path stroke="#9dd93b" d="M509.4 623.4h0"/><path stroke="#9dd93b" d="M509.4 626.0h0"/><path stroke="#9dd93b" d="M509.4 624.8h0"/><path stroke="#9dd93b" d="M509.4 624.3h0"/><path stroke="#9dd93b" d="M509.4 625.9h0"/><path stroke="#9dd93b" d="M509.4 625.1h0"/><path stroke="#9dd93b" d="M509.4 623.9h0"/><path stroke="#9dd93b" d="M509.4 623.2h0"/><path stroke="#9dd93b" d="M509.4 627.0h0"/><path stroke="#9dd93b" d="M509.4 623.1h0"/><path stroke="#9dd93b" d="M509.4 627.7h0"/><path stroke="#ece51b" d="M509.4 618.8h0"/><path stroke="#ece51b" d="M509.4 618.5h0"/><path stroke="#ece51b" d="M509.4 621.9h0"/><path stroke="#ece51b" d="M509.4 620.5h0"/><path stroke="#ece51b" d="M509.4 618.5h0"/><path stroke="#ece51b" d="M509.4 622.5h0"/><path stroke="#ece51b" d="M509.4 619.4h0"/><path stroke="#ece51b" d="M509.4 618.6h0"/><path stroke="#ece51b" d="M509.4 620.0h0"/><path stroke="#ece51b" d="M509.4 619.0h0"/><path stroke="#ece51b" d="M509.4 621.4h0"/><path stroke="#ece51b" d="M509.4 621.6h0"/><path stroke="#ece51b" d="M509.4 620.8h0"/><path stroke="#ece51b" d="M509.4 621.7h0"/><path stroke="#ece51b" d="M509.4 620.8h0"/><path stroke="#ece51b" d="M509.4 617.9h0"/><path stroke="#ece51b" d="M509.4 619.7h0"/><path stroke="#ece51b" d="M509.4 620.9h0"/><path stroke="#ece51b" d="M509.4 621.2h0"/><path stroke="#ece51b" d="M509.4 617.8h0"/><path stroke="#ece51b" d="M509.4 620.4h0"/><path stroke="#ece51b" d="M509.4 617.7h0"/><path stroke="#ece51b" d="M509.4 620.0h0"/><path stroke="#ece51b" d="M509.4 620.0h0"/><path stroke="#ece51b" d="M509.4 618.1h0"/><path stroke="#ece51b" d="M509.4 618.9h0"/><path stroke="#fde725" d="M509.4 614.5h0"/><path stroke="#fde725" d="M509.4 615.3h0"/><path stroke="#fde725" d="M509.4 613.1h0"/><path stroke="#fde725" d="M509.4 615.4h0"/><path stroke="#fde725" d="M509.4 612.8h0"/><path stroke="#fde725" d="M509.4 617.1h0"/><path stroke="#fde725" d="M509.4 615.3h0"/><path stroke="#fde725" d="M509.4 614.8h0"/><path stroke="#fde725" d="M509.4 612.7h0"/><path stroke="#fde725" d="M509.4 616.2h0"/><path stroke="#fde725" d="M509.4 613.4h0"/><path stroke="#fde725" d="M509.4 614.1h0"/><path stroke="#fde725" d="M509.4 613.9h0"/><path stroke="#fde725" d="M509.4 614.3h0"/><path stroke="#fde725" d="M509.4 612.6h0"/><path stroke="#fde725" d="M509.4 615.8h0"/><path stroke="#fde725" d="M509.4 615.4h0"/><path stroke="#fde725" d="M509.4 616.4h0"/><path stroke="#fde725" d="M509.4 617.1h0"/><path stroke="#fde725" d="M509.4 616.3h0"/><path stroke="#fde725" d="M509.4 612.9h0"/><path stroke="#fde725" d="M509.4 613.2h0"/><path stroke="#fde725" d="M509.4 616.8h0"/><path stroke="#fde725" d="M509.4 614.4h0"/><path stroke="#fde725" d="M509.4 615.0h0"/><path stroke="#fde725" d="M509.4 614.5h0"/><path stroke="#fde725" d="M509.4 614.1h0"/><path stroke="#fde725" d="M509.4 615.9h0"/><path stroke="#fde725" d="M509.4 607.5h0"/><path stroke="#fde725" d="M509.4 609.9h0"/><path stroke="#fde725" d="M509.4 609.1h0"/><path stroke="#fde725" d="M509.4 609.1h0"/><path stroke="#fde725" d="M509.4 611.3h0"/><path stroke="#fde725" d="M509.4 611.9h0"/><path stroke="#fde725" d="M509.4 610.2h0"/><path stroke="#fde725" d="M509.4 608.5h0"/><path stroke="#fde725" d="M509.4 608.2h0"/><path stroke="#fde725" d="M509.4 608.6h0"/><path stroke="#fde725" d="M509.4 611.7h0"/><path stroke="#fde725" d="M509.4 607.7h0"/><path stroke="#fde725" d="M509.4 608.3h0"/><path stroke="#fde725" d="M509.4 607.9h0"/><path stroke="#fde725" d="M509.4 609.7h0"/><path stroke="#fde725" d="M509.4 607.7h0"/><path stroke="#fde725" d="M509.4 612.0h0"/><path stroke="#fde725" d="M509.4 612.1h0"/><path stroke="#fde725" d="M509.4 612.1h0"/><path stroke="#fde725" d="M509.4 611.0h0"/><path stroke="#fde725" d="M509.4 611.0h0"/><path stroke="#fde725" d="M509.4 611.3h0"/><path stroke="#fde725" d="M509.4 609.4h0"/><path stroke="#fde725" d="M509.4 612.1h0"/><path stroke="#fde725" d="M509.4 609.3h0"/><path stroke="#fde725" d="M509.4 611.4h0"/><path stroke="#fde725" d="M509.4 608.9h0"/><path stroke="#fde725" d="M509.4 612.1h0"/><path stroke="#fde725" d="M509.4 605.6h0"/><path stroke="#fde725" d="M509.4 602.4h0"/><path stroke="#fde725" d="M509.4 604.4h0"/><path stroke="#fde725" d="M509.4 603.1h0"/><path stroke="#fde725" d="M509.4 603.8h0"/><path stroke="#fde725" d="M509.4 604.1h0"/><path stroke="#fde725" d="M509.4 606.1h0"/><path stroke="#fde725" d="M509.4 604.2h0"/><path stroke="#fde725" d="M509.4 606.9h0"/><path stroke="#fde725" d="M509.4 603.1h0"/><path stroke="#fde725" d="M509.4 602.3h0"/><path stroke="#fde725" d="M509.4 602.9h0"/><path stroke="#fde725" d="M509.4 606.8h0"/><path stroke="#fde725" d="M509.4 605.4h0"/><path stroke="#fde725" d="M509.4 605.5h0"/><path stroke="#fde725" d="M509.4 606.5h0"/><path stroke="#fde725" d="M509.4 604.0h0"/><path stroke="#fde725" d="M509.4 603.1h0"/><path stroke="#fde725" d="M509.4 605.5h0"/><path stroke="#fde725" d="M509.4 602.8h0"/><path stroke="#fde725" d="M509.4 603.1h0"/><path stroke="#fde725" d="M509.4 606.5h0"/><path stroke="#fde725" d="M509.4 603.3h0"/><path stroke="#fde725" d="M509.4 602.7h0"/><path stroke="#fde725" d="M509.4 606.1h0"/><path stroke="#fde725" d="M509.4 604.3h0"/><path stroke="#fde725" d="M509.4 603.9h0"/><path stroke="#fde725" d="M509.4 604.1h0"/></g>
<g id="matplotlib.axis_55">
    <g id="xtick_73">
     <g id="line2d_120">
      <g>
       <use href="#m1504cfccaf" x="456.59" y="699.60" style="stroke: #000000; stroke-width: 0.8"/>
      </g>
     </g>
     <g id="text_120">
      <text style="font-size: 8px;  text-anchor: middle" x="456.59" y="712.68">−0.05</text>
     </g>
    </g>
    <g id="xtick_74">
     <g id="line2d_121">
      <g>
       <use href="#m1504cfccaf" x="509.36" y="699.60" style="stroke: #000000; stroke-width: 0.8"/>
      </g>
     </g>
     <g id="text_121">
      <text style="font-size: 8px;  text-anchor: middle" x="509.36" y="712.68">0.00</text>
     </g>
    </g>
    <g id="xtick_75">
     <g id="line2d_122">
      <g>
       <use href="#m1504cfccaf" x="562.13" y="699.60" style="stroke: #000000; stroke-width: 0.8"/>
      </g>
     </g>
     <g id="text_122">
      <text style="font-size: 8px;  text-anchor: middle" x="562.13" y="712.68">0.05</text>
     </g>
    </g>
   </g>
   <g id="matplotlib.axis_56"/>
   <g id="line2d_123">
    <g clip-path="url(#p81138a4f6f)">
     <use href="#m5269b93cc7" x="509.36" y="596.88" style="stroke: #000000; stroke-width: 1.3"/>
    </g>
   </g>
   <g id="patch_138">
    <path d="M 451.32 699.60 
L 451.32 592 
" style="fill: none; stroke: #000000; stroke-width: 0.8; stroke-linejoin: miter; stroke-linecap: square"/>
   </g>
   <g id="patch_139">
    <path d="M 567.41 699.60 
L 567.41 592 
" style="fill: none; stroke: #000000; stroke-width: 0.8; stroke-linejoin: miter; stroke-linecap: square"/>
   </g>
   <g id="patch_140">
    <path d="M 451.32 699.60 
L 567.41 699.60 
" style="fill: none; stroke: #000000; stroke-width: 0.8; stroke-linejoin: miter; stroke-linecap: square"/>
   </g>
   <g id="patch_141">
    <path d="M 451.32 592 
L 567.41 592 
" style="fill: none; stroke: #000000; stroke-width: 0.8; stroke-linejoin: miter; stroke-linecap: square"/>
   </g>
   <g id="text_123">
    <text style="font-size: 9px;  text-anchor: middle" x="509.36" y="586">copy_paste = 0</text>
   </g>
  </g>
  <g id="axes_29">
   <g id="patch_142">
    <path d="M 592.70 698.98 
L 709.10 698.98 
L 709.10 592 
L 592.70 592 
z
" style="fill: #ffffff"/>
   </g>
   <g clip-path="url(#p799e5671cc)" fill="none" stroke-width="5.7" class="pt" stroke-opacity="0.92"><path stroke="#375a8c" d="M604.7 650.3h0M604.7 652.8h0M604.7 655.3h0M607.2 647.8h0M607.2 652.8h0M614.8 607.6h0M617.3 630.2h0M617.3 655.3h0M619.8 655.3h0M619.8 657.8h0M622.3 610.1h0M622.3 615.1h0M622.3 622.7h0M622.3 632.7h0M622.3 640.2h0M624.8 635.2h0M624.8 637.7h0"/><path stroke="#1f958b" d="M599.7 647.8h0M602.2 600.1h0M602.2 627.7h0M602.2 632.7h0M602.2 635.2h0M602.2 650.3h0M604.7 600.1h0M604.7 602.6h0M604.7 617.7h0M604.7 620.2h0M604.7 637.7h0M604.7 640.2h0M604.7 647.8h0M607.2 607.6h0M607.2 610.1h0M607.2 615.1h0M607.2 620.2h0M607.2 625.2h0M607.2 627.7h0M607.2 630.2h0M607.2 632.7h0M607.2 642.7h0M607.2 645.3h0M609.7 607.6h0M609.7 615.1h0M609.7 620.2h0M609.7 625.2h0M609.7 627.7h0M609.7 635.2h0M612.2 605.1h0M612.2 612.6h0M612.2 615.1h0M612.2 632.7h0M612.2 635.2h0M612.2 637.7h0M614.8 612.6h0M614.8 615.1h0M614.8 617.7h0M614.8 622.7h0M614.8 630.2h0M617.3 615.1h0M617.3 632.7h0M617.3 640.2h0M619.8 615.1h0M619.8 622.7h0M619.8 640.2h0M622.3 635.2h0M622.3 637.7h0"/><path stroke="#26ad81" d="M599.7 640.2h0M599.7 642.7h0"/><path stroke="#44bf70" d="M599.7 602.6h0M599.7 607.6h0M599.7 612.6h0M599.7 620.2h0M599.7 625.2h0M599.7 627.7h0M599.7 632.7h0M599.7 635.2h0M602.2 620.2h0M602.2 625.2h0M604.7 607.6h0M604.7 610.1h0M604.7 615.1h0"/></g>
<g clip-path="url(#p799e5671cc)" fill="none" stroke-width="5.7" class="pt" stroke-opacity="0.92"><path stroke="#375a8c" d="M610.6 675.1h0M611.9 682.8h0M610.6 680.2h0M613.2 663.6h0M611.9 664.8h0M633.7 667.4h0M620.9 652.0h0M622.2 655.9h0M619.6 661.0h0M615.8 653.3h0M609.3 648.2h0M606.8 650.7h0M602.9 654.6h0M600.4 655.9h0M631.2 627.7h0M628.6 634.1h0M626.0 639.2h0M623.5 641.8h0M618.3 635.4h0M620.9 629.0h0M623.5 620.0h0M617.0 607.2h0M619.6 609.7h0M623.5 613.6h0"/><path stroke="#1f958b" d="M602.9 598.2h0M606.8 598.2h0M608.1 602.0h0M611.9 608.5h0M615.8 609.7h0M618.3 613.6h0M620.9 617.4h0M617.0 620.0h0M613.2 618.7h0M610.6 622.6h0M611.9 627.7h0M609.3 631.5h0M608.1 636.6h0M606.8 640.5h0M609.3 641.8h0M604.2 644.3h0M601.6 648.2h0M599.1 652.0h0M597.8 648.2h0M600.4 645.6h0M602.9 639.2h0M604.2 634.1h0M604.2 629.0h0M605.5 623.8h0M606.8 617.4h0M608.1 612.3h0M615.8 634.1h0M619.6 637.9h0M599.1 654.6h0M601.6 653.3h0"/><path stroke="#44bf70" d="M597.8 620.0h0M600.4 622.6h0M597.8 626.4h0M600.4 630.2h0M597.8 634.1h0M600.4 637.9h0"/><path stroke="#26ad81" d="M597.8 640.5h0M601.6 641.8h0"/><path stroke="#44bf70" d="M602.9 616.1h0M604.2 612.3h0M599.1 616.1h0"/><path stroke="#fde725" d="M597.8 603.3h0M600.4 604.6h0M601.6 608.5h0M599.1 609.7h0M597.8 612.3h0"/><path stroke="#9bd93c" d="M601.6 612.3h0"/><path stroke="#fde725" d="M597.7 596.9h0"/></g>
<g clip-path="url(#p799e5671cc)" fill="none" stroke-width="5.7" class="pt" stroke-opacity="0.8"><path stroke="#440154" d="M597.8 663.0h0M597.8 684.6h0M597.8 694.3h0M619.6 690.5h0M619.6 675.9h0M613.2 672.5h0M638.9 675.1h0M633.7 662.3h0M638.9 663.0h0M635.0 666.1h0M632.4 646.9h0M636.3 648.2h0M637.6 647.7h0M633.7 649.5h0M630.6 616.9h0M622.2 644.3h0M620.9 654.6h0M618.3 658.4h0M614.5 661.0h0M613.2 648.2h0M610.6 646.9h0M609.3 652.0h0M605.5 655.9h0M602.9 658.4h0M704.3 668.7h0M615.8 604.6h0M611.9 604.6h0M623.5 625.1h0M624.7 634.1h0M628.6 637.9h0"/></g>
<g id="matplotlib.axis_57">
    <g id="xtick_76">
     <g id="line2d_124">
      <g>
       <use href="#m1504cfccaf" x="597.73" y="698.98" style="stroke: #000000; stroke-width: 0.8"/>
      </g>
     </g>
     <g id="text_124">
      <text style="font-size: 8px;  text-anchor: middle" x="597.73" y="712.05">2</text>
     </g>
    </g>
    <g id="xtick_77">
     <g id="line2d_125">
      <g>
       <use href="#m1504cfccaf" x="648.62" y="698.98" style="stroke: #000000; stroke-width: 0.8"/>
      </g>
     </g>
     <g id="text_125">
      <text style="font-size: 8px;  text-anchor: middle" x="648.62" y="712.05">4</text>
     </g>
    </g>
    <g id="xtick_78">
     <g id="line2d_126">
      <g>
       <use href="#m1504cfccaf" x="699.52" y="698.98" style="stroke: #000000; stroke-width: 0.8"/>
      </g>
     </g>
     <g id="text_126">
      <text style="font-size: 8px;  text-anchor: middle" x="699.52" y="712.05">6</text>
     </g>
    </g>
   </g>
   <g id="matplotlib.axis_58"/>
   <g id="line2d_127">
    <g clip-path="url(#p799e5671cc)">
     <use href="#m5269b93cc7" x="597.73" y="596.85" style="stroke: #000000; stroke-width: 1.3"/>
    </g>
   </g>
   <g id="patch_143">
    <path d="M 592.70 698.98 
L 592.70 592 
" style="fill: none; stroke: #000000; stroke-width: 0.8; stroke-linejoin: miter; stroke-linecap: square"/>
   </g>
   <g id="patch_144">
    <path d="M 709.10 698.98 
L 709.10 592 
" style="fill: none; stroke: #000000; stroke-width: 0.8; stroke-linejoin: miter; stroke-linecap: square"/>
   </g>
   <g id="patch_145">
    <path d="M 592.70 698.98 
L 709.10 698.98 
" style="fill: none; stroke: #000000; stroke-width: 0.8; stroke-linejoin: miter; stroke-linecap: square"/>
   </g>
   <g id="patch_146">
    <path d="M 592.70 592 
L 709.10 592 
" style="fill: none; stroke: #000000; stroke-width: 0.8; stroke-linejoin: miter; stroke-linecap: square"/>
   </g>
   <g id="text_127">
    <text style="font-size: 9px;  text-anchor: middle" x="650.90" y="586">anchors = 2</text>
   </g>
  </g>
 </g>
 <defs>
  <clipPath id="p6a5d2c12f6">
   <rect x="24.19" y="19.45" width="116.40" height="106.66"/>
  </clipPath>
  <clipPath id="p60cd0302c3">
   <rect x="165.88" y="19.60" width="116.56" height="106.66"/>
  </clipPath>
  <clipPath id="p8577fa720e">
   <rect x="307.11" y="19.60" width="116.71" height="106.66"/>
  </clipPath>
  <clipPath id="p26070221af">
   <rect x="448.49" y="19.45" width="116.87" height="106.82"/>
  </clipPath>
  <clipPath id="pf6393885d9">
   <rect x="589.87" y="19.13" width="117.03" height="106.98"/>
  </clipPath>
  <clipPath id="p926bd12adf">
   <rect x="731.72" y="16.47" width="117.34" height="107.76"/>
  </clipPath>
  <clipPath id="p97247d05d8">
   <rect x="27.01" y="166.43" width="116.40" height="106.98"/>
  </clipPath>
  <clipPath id="p5735e0c0e8">
   <rect x="168.24" y="166.58" width="116.56" height="106.82"/>
  </clipPath>
  <clipPath id="p81adb6a812">
   <rect x="310.25" y="166.43" width="116.09" height="106.98"/>
  </clipPath>
  <clipPath id="p86eadc8eeb">
   <rect x="451.63" y="166.58" width="116.09" height="106.66"/>
  </clipPath>
  <clipPath id="p2c0bd8d579">
   <rect x="590.19" y="165.49" width="116.24" height="107.29"/>
  </clipPath>
  <clipPath id="p6c1d9eaf5a">
   <rect x="731.57" y="165.33" width="116.56" height="107.45"/>
  </clipPath>
  <clipPath id="p624ce5473e">
   <rect x="28.27" y="304.15" width="117.18" height="107.29"/>
  </clipPath>
  <clipPath id="p57f93b3ff8">
   <rect x="170.12" y="304.31" width="116.56" height="106.98"/>
  </clipPath>
  <clipPath id="p91e0c97ec1">
   <rect x="311.82" y="304.31" width="116.24" height="106.82"/>
  </clipPath>
  <clipPath id="p5437f787d3">
   <rect x="450.22" y="304.15" width="116.71" height="106.98"/>
  </clipPath>
  <clipPath id="p762819bdfe">
   <rect x="591.91" y="304.15" width="116.87" height="107.13"/>
  </clipPath>
  <clipPath id="p5441d255c3">
   <rect x="732.98" y="304.31" width="117.18" height="106.98"/>
  </clipPath>
  <clipPath id="pc6aead25e2">
   <rect x="28.11" y="447.84" width="117.18" height="106.66"/>
  </clipPath>
  <clipPath id="p0e983410e0">
   <rect x="169.50" y="448" width="117.34" height="106.66"/>
  </clipPath>
  <clipPath id="p2c7aaa85d6">
   <rect x="311.82" y="447.84" width="116.56" height="106.66"/>
  </clipPath>
  <clipPath id="pdf679615e2">
   <rect x="453.20" y="447.68" width="116.56" height="106.82"/>
  </clipPath>
  <clipPath id="p760b879280">
   <rect x="594.58" y="447.52" width="116.56" height="106.98"/>
  </clipPath>
  <clipPath id="pfccd49e621">
   <rect x="735.97" y="447.37" width="116.87" height="106.98"/>
  </clipPath>
  <clipPath id="pf5cbb42195">
   <rect x="27.96" y="591.37" width="116.56" height="106.35"/>
  </clipPath>
  <clipPath id="p1f985579ff">
   <rect x="167.30" y="592" width="117.34" height="107.76"/>
  </clipPath>
  <clipPath id="pb6ab076dcf">
   <rect x="309.78" y="592" width="116.24" height="107.29"/>
  </clipPath>
  <clipPath id="p81138a4f6f">
   <rect x="451.32" y="592" width="116.09" height="107.60"/>
  </clipPath>
  <clipPath id="p799e5671cc">
   <rect x="592.70" y="592" width="116.40" height="106.98"/>
  </clipPath>
 </defs>
</svg>
</body></html>
